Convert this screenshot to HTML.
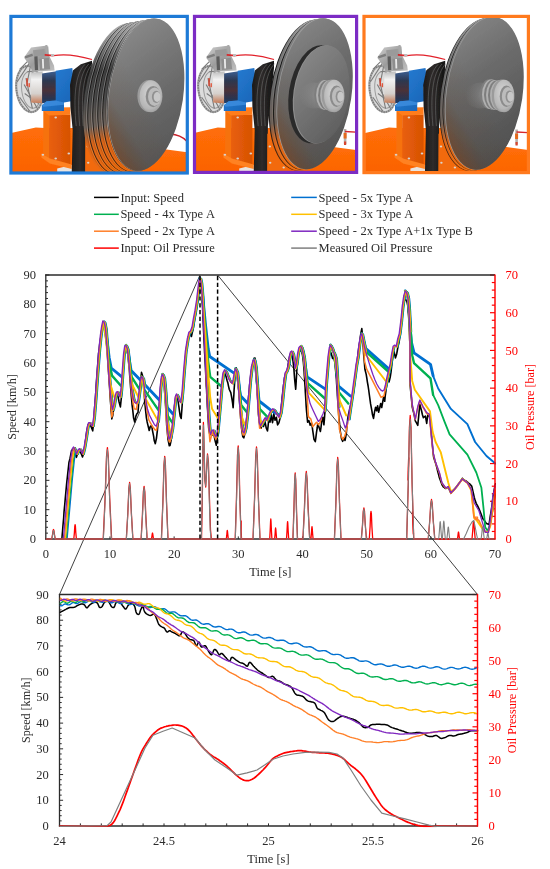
<!DOCTYPE html>
<html lang="en"><head><meta charset="utf-8"><title>Flywheel brake test bench - speed and oil pressure</title>
<style>html,body{margin:0;padding:0;background:#fff}svg{display:block}text{font-family:'Liberation Serif','Times New Roman',serif}</style></head><body>
<svg width="550" height="869" viewBox="0 0 550 869">
<rect width="550" height="869" fill="#fff"/>

<defs>
<linearGradient id="gPlat" x1="0" y1="0" x2="0" y2="1"><stop offset="0" stop-color="#ff6e08"/><stop offset="1" stop-color="#fb6202"/></linearGradient>
<linearGradient id="gPlatR" x1="0" y1="0" x2="0" y2="1"><stop offset="0" stop-color="#ff6e08"/><stop offset="1" stop-color="#fc6402"/></linearGradient>
<linearGradient id="gPil" x1="0" y1="0" x2="1" y2="0"><stop offset="0" stop-color="#e95f0a"/><stop offset="1" stop-color="#d65204"/></linearGradient>
<linearGradient id="gSilver" x1="0" y1="0" x2="0" y2="1"><stop offset="0" stop-color="#bdbdbd"/><stop offset="0.25" stop-color="#f2f2f2"/><stop offset="0.7" stop-color="#d5d0cc"/><stop offset="1" stop-color="#c77a55"/></linearGradient>
<linearGradient id="gDarkCyl" x1="0" y1="0" x2="0" y2="1"><stop offset="0" stop-color="#3d5f92"/><stop offset="0.3" stop-color="#2c3850"/><stop offset="0.6" stop-color="#4a3038"/><stop offset="0.85" stop-color="#2a3550"/><stop offset="1" stop-color="#20406f"/></linearGradient>
<linearGradient id="gBlue" x1="0" y1="0" x2="1" y2="1"><stop offset="0" stop-color="#2a80d8"/><stop offset="1" stop-color="#1763b4"/></linearGradient>
<linearGradient id="gCal" x1="0" y1="0" x2="1" y2="1"><stop offset="0" stop-color="#d0d0d0"/><stop offset="0.5" stop-color="#9c9c9c"/><stop offset="1" stop-color="#c2c2c2"/></linearGradient>
<linearGradient id="gBelt" x1="0" y1="0" x2="1" y2="0"><stop offset="0" stop-color="#1c1a1a"/><stop offset="0.45" stop-color="#2e2b2a"/><stop offset="1" stop-color="#121212"/></linearGradient>
<linearGradient id="gRimL" x1="0" y1="0" x2="0" y2="1"><stop offset="0" stop-color="#d2d2d2"/><stop offset="0.18" stop-color="#b4b4b4"/><stop offset="0.36" stop-color="#747474"/><stop offset="0.55" stop-color="#787878"/><stop offset="0.72" stop-color="#948a84"/><stop offset="0.82" stop-color="#e27a30"/><stop offset="1" stop-color="#f57c1c"/></linearGradient>
<linearGradient id="gRimM" x1="0" y1="0" x2="0" y2="1"><stop offset="0" stop-color="#b8b8b8"/><stop offset="0.16" stop-color="#8c8c8c"/><stop offset="0.36" stop-color="#404040"/><stop offset="0.56" stop-color="#4a4a4a"/><stop offset="0.72" stop-color="#6e645c"/><stop offset="0.82" stop-color="#d8651a"/><stop offset="1" stop-color="#ee6c10"/></linearGradient>
<linearGradient id="gRimD" x1="0" y1="0" x2="0" y2="1"><stop offset="0" stop-color="#a0a0a0"/><stop offset="0.16" stop-color="#747474"/><stop offset="0.36" stop-color="#303030"/><stop offset="0.56" stop-color="#3a3a3a"/><stop offset="0.72" stop-color="#5c4e44"/><stop offset="0.82" stop-color="#c05512"/><stop offset="1" stop-color="#d85e0c"/></linearGradient>
<linearGradient id="gRimN" x1="0" y1="0" x2="0" y2="1"><stop offset="0" stop-color="#a4a4a4"/><stop offset="0.2" stop-color="#7c7c7c"/><stop offset="0.5" stop-color="#646464"/><stop offset="0.72" stop-color="#6a5e56"/><stop offset="0.84" stop-color="#d8651a"/><stop offset="1" stop-color="#ee6c10"/></linearGradient>
<linearGradient id="gRimN2" x1="0" y1="0" x2="0" y2="1"><stop offset="0" stop-color="#b8b8b8"/><stop offset="0.2" stop-color="#8e8e8e"/><stop offset="0.5" stop-color="#747474"/><stop offset="0.72" stop-color="#786a60"/><stop offset="0.84" stop-color="#e07028"/><stop offset="1" stop-color="#f27818"/></linearGradient>
<linearGradient id="gRimK" x1="0" y1="0" x2="0" y2="1"><stop offset="0" stop-color="#4a4a4a"/><stop offset="0.3" stop-color="#141414"/><stop offset="0.7" stop-color="#201c1a"/><stop offset="1" stop-color="#5a2a0c"/></linearGradient>
<linearGradient id="gFace1" x1="0.25" y1="0" x2="0.7" y2="1"><stop offset="0" stop-color="#8a8a8a"/><stop offset="0.35" stop-color="#757575"/><stop offset="0.65" stop-color="#666666"/><stop offset="1" stop-color="#565656"/></linearGradient>
<linearGradient id="gFace2" x1="0.25" y1="0" x2="0.7" y2="1"><stop offset="0" stop-color="#868686"/><stop offset="0.35" stop-color="#6e6e6e"/><stop offset="0.65" stop-color="#626262"/><stop offset="1" stop-color="#525252"/></linearGradient>
<linearGradient id="gFace3" x1="0.25" y1="0" x2="0.7" y2="1"><stop offset="0" stop-color="#848484"/><stop offset="0.35" stop-color="#6c6c6c"/><stop offset="0.65" stop-color="#5e5e5e"/><stop offset="1" stop-color="#4e4e4e"/></linearGradient>
<linearGradient id="gFaceS" x1="0.1" y1="0" x2="0.9" y2="1"><stop offset="0" stop-color="#8a8a8a"/><stop offset="0.5" stop-color="#727272"/><stop offset="1" stop-color="#5c5c5c"/></linearGradient>
<linearGradient id="gFaceRefl" x1="0.6" y1="0.6" x2="0.35" y2="1"><stop offset="0" stop-color="#5a3a20" stop-opacity="0"/><stop offset="0.55" stop-color="#5a3a22" stop-opacity="0.12"/><stop offset="1" stop-color="#7a4018" stop-opacity="0.6"/></linearGradient>
<radialGradient id="gGlow" cx="0.8" cy="0.5" r="0.8"><stop offset="0" stop-color="#c8c8c8" stop-opacity="0.55"/><stop offset="0.5" stop-color="#b0b0b0" stop-opacity="0.22"/><stop offset="1" stop-color="#a0a0a0" stop-opacity="0"/></radialGradient>
<radialGradient id="gHub" cx="0.45" cy="0.4" r="0.7"><stop offset="0" stop-color="#d6d6d6"/><stop offset="0.7" stop-color="#b6b6b6"/><stop offset="1" stop-color="#909090"/></radialGradient>
<filter id="soft" x="-2%" y="-2%" width="104%" height="104%"><feGaussianBlur stdDeviation="0.45"/></filter>
</defs>

<clipPath id="pc0"><rect x="12.0" y="17.5" width="174.2" height="154.4"/></clipPath>
<g clip-path="url(#pc0)"><g filter="url(#soft)">
<rect x="10.5" y="16.0" width="177.2" height="157.4" fill="#ffffff"/>
<polygon points="9.8,133.4 35.8,127.6 44.7,128.0 109.4,128.0 109.4,174.4 9.8,174.4" fill="url(#gPlat)" />
<polygon points="57.2,168.6 72.7,164.7 72.7,174.4 57.2,174.4" fill="#e9e4e0" />
<polygon points="43.3,109.6 49.5,114.4 49.5,159.9 43.3,154.1" fill="#f6720f" />
<polygon points="49.1,114.4 70.4,114.4 70.4,165.7 49.1,159.3" fill="url(#gPil)" />
<polygon points="42.9,107.7 70.4,107.3 70.4,114.8 49.1,115.4 42.9,110.6" fill="#ff7d1c" />
<polygon points="41.4,153.5 49.9,158.5 71.7,164.4 71.7,169.0 49.9,163.6 41.4,157.4" fill="#ff8220" />
<ellipse cx="55.7" cy="117.5" rx="1.3" ry="1.0" fill="#d9d2cc"/>
<ellipse cx="42.9" cy="154.7" rx="1.3" ry="1.0" fill="#d9d2cc"/>
<ellipse cx="55.7" cy="158.5" rx="1.3" ry="1.0" fill="#d9d2cc"/>
<ellipse cx="68.8" cy="153.5" rx="1.3" ry="1.0" fill="#d9d2cc"/>
<ellipse cx="29.6" cy="89.0" rx="13.2" ry="23.2" fill="#dcdcdc" stroke="#a2a2a2" stroke-width="2.2" transform="rotate(-7 29.6 89.0)"/>
<ellipse cx="29.6" cy="89.0" rx="13.2" ry="23.2" fill="none" stroke="#6a6a6a" stroke-width="1.6" stroke-dasharray="1.0 1.5" opacity="0.75" transform="rotate(-7 29.6 89.0)"/>
<ellipse cx="31.1" cy="90.0" rx="9.5" ry="18.5" fill="none" stroke="#9c9c9c" stroke-width="1.0" transform="rotate(-7 29.6 89.0)"/>
<line x1="19.6" y1="69.3" x2="33.6" y2="55.3" stroke="#7a7a7a" stroke-width="1.1"/>
<line x1="17.1" y1="82.0" x2="31.1" y2="60.4" stroke="#7a7a7a" stroke-width="1.1"/>
<line x1="26.0" y1="78.2" x2="32.4" y2="108.7" stroke="#7a7a7a" stroke-width="1.1"/>
<line x1="24.7" y1="93.5" x2="38.7" y2="103.6" stroke="#7a7a7a" stroke-width="1.1"/>
<line x1="24.1" y1="84.5" x2="37.5" y2="108.7" stroke="#7a7a7a" stroke-width="1.1"/>
<line x1="31.1" y1="62.9" x2="27.3" y2="82.0" stroke="#7a7a7a" stroke-width="1.1"/>
<line x1="41.3" y1="56.5" x2="43.8" y2="69.3" stroke="#7a7a7a" stroke-width="1.1"/>
<line x1="19.6" y1="97.3" x2="29.8" y2="111.3" stroke="#7a7a7a" stroke-width="1.1"/>
<line x1="27.3" y1="71.8" x2="50.2" y2="69.3" stroke="#7a7a7a" stroke-width="1.1"/>
<rect x="26.3" y="78.2" width="1.5" height="8" fill="#d8452f"/>
<rect x="28.5" y="83.2" width="1.4" height="4" fill="#e0553a"/>
<polygon points="31.1,72.9 42.7,71.5 42.7,103.2 31.1,102.5" fill="url(#gSilver)" />
<polygon points="42.1,73.4 58.2,71.1 58.2,100.9 42.1,103.2" fill="url(#gDarkCyl)" />
<polygon points="55.7,70.7 72.3,68.0 73.1,74.8 70.4,87.4 71.2,101.3 64.0,102.5 64.0,111.0 41.8,111.0 41.8,105.2 46.6,101.3 55.7,100.5" fill="url(#gBlue)" />
<polygon points="41.8,105.2 46.6,101.3 55.7,100.5 64.0,102.5 64.0,104.8 43.7,106.7" fill="#3d8fe0" opacity="0.8"/>
<polygon points="24.7,56.5 31.1,47.6 45.3,45.7 48.3,46.4 48.9,55.3 54.0,65.5 54.6,70.5 32.4,71.8 29.8,65.5 24.1,57.8" fill="url(#gCal)"/>
<polygon points="33.0,50.2 44.5,48.9 44.8,55.3 33.6,56.5" fill="#9a9a9a"/>
<polygon points="34.3,56.5 37.5,56.3 38.1,69.9 34.9,70.3" fill="#5c5c5c"/>
<polygon points="39.4,59.1 48.9,57.8 50.2,69.3 40.0,69.9" fill="#8a8a8a" opacity="0.85"/>
<polygon points="24.7,56.3 32.4,53.4 33.0,55.9 25.4,58.5" fill="#7d7d7d"/>
<polygon points="45.3,45.1 47.4,45.1 47.9,55.9 45.9,55.9" fill="#a8a8a8"/>
<polygon points="41.9,59.1 43.8,59.1 44.1,68.6 42.3,68.6" fill="#e8e8e8"/>
<path d="M44.7 54.9 L53.4 55.6" stroke="#d8262a" stroke-width="1.6" fill="none"/>
<path d="M53.4 55.6 C66.9 53.3 80.4 56.0 92.0 59.5" stroke="#e2202a" stroke-width="1.3" fill="none"/>
<rect x="51.0" y="54.1" width="3.2" height="2.2" fill="#bdbdbd"/>
<polygon points="92.0,60.7 80.8,64.2 73.1,70.3 70.0,85.0 70.4,106.7 72.7,129.9 71.7,174.4 85.3,174.4 85.9,126.1 92.0,68.0" fill="url(#gBelt)" />
<path d="M84.9 64.4 C75.2 73.8 73.3 97.0 76.2 126.1" stroke="#6f6f6f" stroke-width="0.7" fill="none" opacity="0.8"/>
<path d="M88.8 64.0 C79.1 73.8 77.1 97.0 79.7 126.1" stroke="#6f6f6f" stroke-width="0.7" fill="none" opacity="0.8"/>
<path d="M92.6 63.6 C82.9 73.8 81.0 97.0 83.2 126.1" stroke="#6f6f6f" stroke-width="0.7" fill="none" opacity="0.8"/>
<polygon points="85.3,133.8 109.4,133.8 109.4,174.4 85.3,174.4" fill="#f26a0c" />
<ellipse cx="87.8" cy="146.4" rx="1.2" ry="1.0" fill="#d9d2cc"/>
<ellipse cx="88.2" cy="162.8" rx="1.2" ry="1.0" fill="#d9d2cc"/>
<ellipse cx="101.7" cy="167.6" rx="1.2" ry="1.0" fill="#d9d2cc"/>
<polygon points="105.0,160.0 150.0,150.0 166.5,149.4 189.0,152.6 188.7,174.4 105.0,174.4" fill="url(#gPlatR)"/>
<path d="M170.0 134.0 C177.0 134.5 182.0 136.0 186.5 141.0" stroke="#c8202a" stroke-width="1.3" fill="none"/>
<ellipse cx="121.30" cy="99.20" rx="36.9" ry="76.7" fill="url(#gRimM)" transform="rotate(8.1 121.30 99.20)"/>
<ellipse cx="122.30" cy="99.02" rx="36.9" ry="76.7" fill="url(#gRimM)" transform="rotate(8.1 122.30 99.02)"/>
<ellipse cx="123.30" cy="98.84" rx="36.9" ry="76.7" fill="url(#gRimD)" transform="rotate(8.1 123.30 98.84)"/>
<ellipse cx="124.30" cy="98.66" rx="36.9" ry="76.7" fill="url(#gRimL)" transform="rotate(8.1 124.30 98.66)"/>
<ellipse cx="125.30" cy="98.48" rx="36.9" ry="76.7" fill="url(#gRimK)" transform="rotate(8.1 125.30 98.48)"/>
<ellipse cx="126.30" cy="98.30" rx="36.9" ry="76.7" fill="url(#gRimM)" transform="rotate(8.1 126.30 98.30)"/>
<ellipse cx="127.30" cy="98.12" rx="36.9" ry="76.7" fill="url(#gRimM)" transform="rotate(8.1 127.30 98.12)"/>
<ellipse cx="128.30" cy="97.94" rx="36.9" ry="76.7" fill="url(#gRimD)" transform="rotate(8.1 128.30 97.94)"/>
<ellipse cx="129.30" cy="97.76" rx="36.9" ry="76.7" fill="url(#gRimL)" transform="rotate(8.1 129.30 97.76)"/>
<ellipse cx="130.30" cy="97.58" rx="36.9" ry="76.7" fill="url(#gRimK)" transform="rotate(8.1 130.30 97.58)"/>
<ellipse cx="131.30" cy="97.40" rx="36.9" ry="76.7" fill="url(#gRimM)" transform="rotate(8.1 131.30 97.40)"/>
<ellipse cx="132.30" cy="97.22" rx="36.9" ry="76.7" fill="url(#gRimM)" transform="rotate(8.1 132.30 97.22)"/>
<ellipse cx="133.30" cy="97.04" rx="36.9" ry="76.7" fill="url(#gRimD)" transform="rotate(8.1 133.30 97.04)"/>
<ellipse cx="134.30" cy="96.86" rx="36.9" ry="76.7" fill="url(#gRimL)" transform="rotate(8.1 134.30 96.86)"/>
<ellipse cx="135.30" cy="96.68" rx="36.9" ry="76.7" fill="url(#gRimK)" transform="rotate(8.1 135.30 96.68)"/>
<ellipse cx="136.30" cy="96.50" rx="36.9" ry="76.7" fill="url(#gRimM)" transform="rotate(8.1 136.30 96.50)"/>
<ellipse cx="137.30" cy="96.32" rx="36.9" ry="76.7" fill="url(#gRimM)" transform="rotate(8.1 137.30 96.32)"/>
<ellipse cx="138.30" cy="96.14" rx="36.9" ry="76.7" fill="url(#gRimD)" transform="rotate(8.1 138.30 96.14)"/>
<ellipse cx="139.30" cy="95.96" rx="36.9" ry="76.7" fill="url(#gRimL)" transform="rotate(8.1 139.30 95.96)"/>
<ellipse cx="140.30" cy="95.78" rx="36.9" ry="76.7" fill="url(#gRimK)" transform="rotate(8.1 140.30 95.78)"/>
<ellipse cx="141.30" cy="95.60" rx="36.9" ry="76.7" fill="url(#gRimM)" transform="rotate(8.1 141.30 95.60)"/>
<ellipse cx="142.30" cy="95.42" rx="36.9" ry="76.7" fill="url(#gRimM)" transform="rotate(8.1 142.30 95.42)"/>
<ellipse cx="143.30" cy="95.24" rx="36.9" ry="76.7" fill="url(#gRimD)" transform="rotate(8.1 143.30 95.24)"/>
<ellipse cx="144.30" cy="95.06" rx="36.9" ry="76.7" fill="url(#gRimL)" transform="rotate(8.1 144.30 95.06)"/>
<ellipse cx="145.30" cy="94.88" rx="36.9" ry="76.7" fill="url(#gRimK)" transform="rotate(8.1 145.30 94.88)"/>
<ellipse cx="145.60" cy="94.80" rx="36.9" ry="76.7" fill="#9a9a9a" transform="rotate(8.1 146.30 94.70)"/>
<ellipse cx="146.30" cy="94.70" rx="36.9" ry="76.7" fill="url(#gFace1)" transform="rotate(8.1 146.30 94.70)"/>
<ellipse cx="146.30" cy="94.70" rx="36.9" ry="76.7" fill="url(#gFaceRefl)" transform="rotate(8.1 146.30 94.70)"/>
<ellipse cx="148.80" cy="96.00" rx="11.4" ry="16.0" fill="#9b9b9b"/>
<ellipse cx="151.00" cy="96.30" rx="11.4" ry="16.0" fill="url(#gHub)"/>
<ellipse cx="153.20" cy="96.60" rx="7.5" ry="10.6" fill="#8c8c8c"/>
<ellipse cx="154.60" cy="96.70" rx="6.6" ry="9.3" fill="#bcbcbc"/>
<ellipse cx="156.20" cy="96.90" rx="4.3" ry="6.1" fill="#909090"/>
<ellipse cx="157.20" cy="97.00" rx="3.5" ry="5.0" fill="#c8c8c8"/>
</g></g>
<rect x="10.90" y="16.40" width="176.40" height="156.60" fill="none" stroke="#1e7ad6" stroke-width="3.2"/>
<clipPath id="pc1"><rect x="195.6" y="17.5" width="159.9" height="153.8"/></clipPath>
<g clip-path="url(#pc1)"><g filter="url(#soft)">
<rect x="194.1" y="16.0" width="162.9" height="156.8" fill="#ffffff"/>
<polygon points="191.8,133.4 217.8,127.6 226.7,128.0 291.4,128.0 291.4,174.4 191.8,174.4" fill="url(#gPlat)" />
<polygon points="239.2,168.6 254.7,164.7 254.7,174.4 239.2,174.4" fill="#e9e4e0" />
<polygon points="225.3,109.6 231.5,114.4 231.5,159.9 225.3,154.1" fill="#f6720f" />
<polygon points="231.1,114.4 252.4,114.4 252.4,165.7 231.1,159.3" fill="url(#gPil)" />
<polygon points="224.9,107.7 252.4,107.3 252.4,114.8 231.1,115.4 224.9,110.6" fill="#ff7d1c" />
<polygon points="223.4,153.5 231.9,158.5 253.7,164.4 253.7,169.0 231.9,163.6 223.4,157.4" fill="#ff8220" />
<ellipse cx="237.7" cy="117.5" rx="1.3" ry="1.0" fill="#d9d2cc"/>
<ellipse cx="224.9" cy="154.7" rx="1.3" ry="1.0" fill="#d9d2cc"/>
<ellipse cx="237.7" cy="158.5" rx="1.3" ry="1.0" fill="#d9d2cc"/>
<ellipse cx="250.8" cy="153.5" rx="1.3" ry="1.0" fill="#d9d2cc"/>
<ellipse cx="211.6" cy="89.0" rx="13.2" ry="23.2" fill="#dcdcdc" stroke="#a2a2a2" stroke-width="2.2" transform="rotate(-7 211.6 89.0)"/>
<ellipse cx="211.6" cy="89.0" rx="13.2" ry="23.2" fill="none" stroke="#6a6a6a" stroke-width="1.6" stroke-dasharray="1.0 1.5" opacity="0.75" transform="rotate(-7 211.6 89.0)"/>
<ellipse cx="213.1" cy="90.0" rx="9.5" ry="18.5" fill="none" stroke="#9c9c9c" stroke-width="1.0" transform="rotate(-7 211.6 89.0)"/>
<line x1="201.6" y1="69.3" x2="215.6" y2="55.3" stroke="#7a7a7a" stroke-width="1.1"/>
<line x1="199.1" y1="82.0" x2="213.1" y2="60.4" stroke="#7a7a7a" stroke-width="1.1"/>
<line x1="208.0" y1="78.2" x2="214.4" y2="108.7" stroke="#7a7a7a" stroke-width="1.1"/>
<line x1="206.7" y1="93.5" x2="220.7" y2="103.6" stroke="#7a7a7a" stroke-width="1.1"/>
<line x1="206.1" y1="84.5" x2="219.5" y2="108.7" stroke="#7a7a7a" stroke-width="1.1"/>
<line x1="213.1" y1="62.9" x2="209.3" y2="82.0" stroke="#7a7a7a" stroke-width="1.1"/>
<line x1="223.3" y1="56.5" x2="225.8" y2="69.3" stroke="#7a7a7a" stroke-width="1.1"/>
<line x1="201.6" y1="97.3" x2="211.8" y2="111.3" stroke="#7a7a7a" stroke-width="1.1"/>
<line x1="209.3" y1="71.8" x2="232.2" y2="69.3" stroke="#7a7a7a" stroke-width="1.1"/>
<rect x="208.3" y="78.2" width="1.5" height="8" fill="#d8452f"/>
<rect x="210.5" y="83.2" width="1.4" height="4" fill="#e0553a"/>
<polygon points="213.1,72.9 224.7,71.5 224.7,103.2 213.1,102.5" fill="url(#gSilver)" />
<polygon points="224.1,73.4 240.2,71.1 240.2,100.9 224.1,103.2" fill="url(#gDarkCyl)" />
<polygon points="237.7,70.7 254.3,68.0 255.1,74.8 252.4,87.4 253.2,101.3 246.0,102.5 246.0,111.0 223.8,111.0 223.8,105.2 228.6,101.3 237.7,100.5" fill="url(#gBlue)" />
<polygon points="223.8,105.2 228.6,101.3 237.7,100.5 246.0,102.5 246.0,104.8 225.7,106.7" fill="#3d8fe0" opacity="0.8"/>
<polygon points="206.7,56.5 213.1,47.6 227.3,45.7 230.3,46.4 230.9,55.3 236.0,65.5 236.6,70.5 214.4,71.8 211.8,65.5 206.1,57.8" fill="url(#gCal)"/>
<polygon points="215.0,50.2 226.5,48.9 226.8,55.3 215.6,56.5" fill="#9a9a9a"/>
<polygon points="216.3,56.5 219.5,56.3 220.1,69.9 216.9,70.3" fill="#5c5c5c"/>
<polygon points="221.4,59.1 230.9,57.8 232.2,69.3 222.0,69.9" fill="#8a8a8a" opacity="0.85"/>
<polygon points="206.7,56.3 214.4,53.4 215.0,55.9 207.4,58.5" fill="#7d7d7d"/>
<polygon points="227.3,45.1 229.4,45.1 229.9,55.9 227.9,55.9" fill="#a8a8a8"/>
<polygon points="223.9,59.1 225.8,59.1 226.1,68.6 224.3,68.6" fill="#e8e8e8"/>
<path d="M226.7 54.9 L235.4 55.6" stroke="#d8262a" stroke-width="1.6" fill="none"/>
<path d="M235.4 55.6 C248.9 53.3 262.4 56.0 274.0 59.5" stroke="#e2202a" stroke-width="1.3" fill="none"/>
<rect x="233.0" y="54.1" width="3.2" height="2.2" fill="#bdbdbd"/>
<polygon points="274.0,60.7 262.8,64.2 255.1,70.3 252.0,85.0 252.4,106.7 254.7,129.9 253.7,174.4 267.3,174.4 267.9,126.1 274.0,68.0" fill="url(#gBelt)" />
<path d="M266.9 64.4 C257.2 73.8 255.3 97.0 258.2 126.1" stroke="#6f6f6f" stroke-width="0.7" fill="none" opacity="0.8"/>
<path d="M270.8 64.0 C261.1 73.8 259.1 97.0 261.7 126.1" stroke="#6f6f6f" stroke-width="0.7" fill="none" opacity="0.8"/>
<path d="M274.6 63.6 C264.9 73.8 263.0 97.0 265.2 126.1" stroke="#6f6f6f" stroke-width="0.7" fill="none" opacity="0.8"/>
<polygon points="267.3,133.8 291.4,133.8 291.4,174.4 267.3,174.4" fill="#f26a0c" />
<ellipse cx="269.8" cy="146.4" rx="1.2" ry="1.0" fill="#d9d2cc"/>
<ellipse cx="270.2" cy="162.8" rx="1.2" ry="1.0" fill="#d9d2cc"/>
<ellipse cx="283.7" cy="167.6" rx="1.2" ry="1.0" fill="#d9d2cc"/>
<polygon points="287.0,160.0 320.0,147.0 335.0,147.2 359.0,150.4 358.0,173.8 287.0,173.8" fill="url(#gPlatR)"/>
<rect x="343.8" y="129.0" width="2.6" height="15" fill="#b6b0aa"/>
<rect x="343.6" y="133.0" width="3.0" height="5.5" fill="#e46a1c"/>
<rect x="344.0" y="141.5" width="2.2" height="3.5" fill="#d8452f"/>
<line x1="345.0" y1="131.5" x2="356.0" y2="132.1" stroke="#d8262a" stroke-width="1.3"/>
<ellipse cx="306.50" cy="95.30" rx="36.5" ry="76.1" fill="url(#gRimK)" transform="rotate(8.4 306.50 95.30)"/>
<ellipse cx="307.56" cy="95.10" rx="36.5" ry="76.1" fill="url(#gRimN)" transform="rotate(8.4 307.56 95.10)"/>
<ellipse cx="308.62" cy="94.90" rx="36.5" ry="76.1" fill="url(#gRimN)" transform="rotate(8.4 308.62 94.90)"/>
<ellipse cx="309.69" cy="94.70" rx="36.5" ry="76.1" fill="url(#gRimN2)" transform="rotate(8.4 309.69 94.70)"/>
<ellipse cx="310.75" cy="94.50" rx="36.5" ry="76.1" fill="url(#gRimK)" transform="rotate(8.4 310.75 94.50)"/>
<ellipse cx="311.81" cy="94.30" rx="36.5" ry="76.1" fill="url(#gRimN)" transform="rotate(8.4 311.81 94.30)"/>
<ellipse cx="312.88" cy="94.10" rx="36.5" ry="76.1" fill="url(#gRimN)" transform="rotate(8.4 312.88 94.10)"/>
<ellipse cx="313.94" cy="93.90" rx="36.5" ry="76.1" fill="url(#gRimN2)" transform="rotate(8.4 313.94 93.90)"/>
<ellipse cx="314.30" cy="93.80" rx="36.5" ry="76.1" fill="#9a9a9a" transform="rotate(8.4 315.00 93.70)"/>
<ellipse cx="315.00" cy="93.70" rx="36.5" ry="76.1" fill="url(#gFace2)" transform="rotate(8.4 315.00 93.70)"/>
<ellipse cx="315.00" cy="93.70" rx="36.5" ry="76.1" fill="url(#gFaceRefl)" transform="rotate(8.4 315.00 93.70)"/>
<ellipse cx="316.20" cy="95.10" rx="27.3" ry="49.4" fill="#2c2c2c" transform="rotate(8.4 321.70 94.30)"/>
<ellipse cx="320.70" cy="94.60" rx="27.3" ry="49.4" fill="#8f8f8f" transform="rotate(8.4 321.70 94.30)"/>
<ellipse cx="321.70" cy="94.30" rx="27.3" ry="49.4" fill="url(#gFaceS)" transform="rotate(8.4 321.70 94.30)"/>
<ellipse cx="314.30" cy="95.50" rx="15" ry="13.0" fill="url(#gGlow)"/>
<ellipse cx="323.30" cy="94.68" rx="9.2" ry="14.9" fill="#7e7e7e"/>
<ellipse cx="324.30" cy="94.80" rx="9.2" ry="14.9" fill="#7e7e7e"/>
<ellipse cx="325.30" cy="94.92" rx="9.2" ry="14.9" fill="#b0b0b0"/>
<ellipse cx="326.30" cy="95.04" rx="9.2" ry="14.9" fill="#b0b0b0"/>
<ellipse cx="327.30" cy="95.16" rx="9.2" ry="14.9" fill="#7e7e7e"/>
<ellipse cx="328.30" cy="95.28" rx="9.2" ry="14.9" fill="#7e7e7e"/>
<ellipse cx="329.30" cy="95.40" rx="9.2" ry="14.9" fill="#b0b0b0"/>
<ellipse cx="330.30" cy="95.52" rx="9.2" ry="14.9" fill="#b0b0b0"/>
<ellipse cx="331.30" cy="95.64" rx="9.2" ry="14.9" fill="#7e7e7e"/>
<ellipse cx="332.30" cy="95.76" rx="9.2" ry="14.9" fill="#7e7e7e"/>
<ellipse cx="333.30" cy="95.88" rx="9.2" ry="14.9" fill="#b0b0b0"/>
<ellipse cx="332.10" cy="95.70" rx="10.2" ry="16.2" fill="#9b9b9b"/>
<ellipse cx="334.30" cy="96.00" rx="10.2" ry="16.2" fill="url(#gHub)"/>
<ellipse cx="336.50" cy="96.30" rx="6.7" ry="10.7" fill="#8c8c8c"/>
<ellipse cx="337.90" cy="96.40" rx="5.9" ry="9.4" fill="#bcbcbc"/>
<ellipse cx="339.50" cy="96.60" rx="3.9" ry="6.2" fill="#909090"/>
<ellipse cx="340.50" cy="96.70" rx="3.2" ry="5.0" fill="#c8c8c8"/>
</g></g>
<rect x="194.50" y="16.40" width="162.10" height="156.00" fill="none" stroke="#7c2cc4" stroke-width="3.2"/>
<clipPath id="pc2"><rect x="365.1" y="17.5" width="162.2" height="154.0"/></clipPath>
<g clip-path="url(#pc2)"><g filter="url(#soft)">
<rect x="363.6" y="16.0" width="165.2" height="157.0" fill="#ffffff"/>
<polygon points="363.0,133.4 389.0,127.6 397.9,128.0 462.6,128.0 462.6,174.4 363.0,174.4" fill="url(#gPlat)" />
<polygon points="410.4,168.6 425.9,164.7 425.9,174.4 410.4,174.4" fill="#e9e4e0" />
<polygon points="396.5,109.6 402.7,114.4 402.7,159.9 396.5,154.1" fill="#f6720f" />
<polygon points="402.3,114.4 423.6,114.4 423.6,165.7 402.3,159.3" fill="url(#gPil)" />
<polygon points="396.1,107.7 423.6,107.3 423.6,114.8 402.3,115.4 396.1,110.6" fill="#ff7d1c" />
<polygon points="394.6,153.5 403.1,158.5 424.9,164.4 424.9,169.0 403.1,163.6 394.6,157.4" fill="#ff8220" />
<ellipse cx="408.9" cy="117.5" rx="1.3" ry="1.0" fill="#d9d2cc"/>
<ellipse cx="396.1" cy="154.7" rx="1.3" ry="1.0" fill="#d9d2cc"/>
<ellipse cx="408.9" cy="158.5" rx="1.3" ry="1.0" fill="#d9d2cc"/>
<ellipse cx="422.0" cy="153.5" rx="1.3" ry="1.0" fill="#d9d2cc"/>
<ellipse cx="382.8" cy="89.0" rx="13.2" ry="23.2" fill="#dcdcdc" stroke="#a2a2a2" stroke-width="2.2" transform="rotate(-7 382.8 89.0)"/>
<ellipse cx="382.8" cy="89.0" rx="13.2" ry="23.2" fill="none" stroke="#6a6a6a" stroke-width="1.6" stroke-dasharray="1.0 1.5" opacity="0.75" transform="rotate(-7 382.8 89.0)"/>
<ellipse cx="384.3" cy="90.0" rx="9.5" ry="18.5" fill="none" stroke="#9c9c9c" stroke-width="1.0" transform="rotate(-7 382.8 89.0)"/>
<line x1="372.8" y1="69.3" x2="386.8" y2="55.3" stroke="#7a7a7a" stroke-width="1.1"/>
<line x1="370.3" y1="82.0" x2="384.3" y2="60.4" stroke="#7a7a7a" stroke-width="1.1"/>
<line x1="379.2" y1="78.2" x2="385.6" y2="108.7" stroke="#7a7a7a" stroke-width="1.1"/>
<line x1="377.9" y1="93.5" x2="391.9" y2="103.6" stroke="#7a7a7a" stroke-width="1.1"/>
<line x1="377.3" y1="84.5" x2="390.7" y2="108.7" stroke="#7a7a7a" stroke-width="1.1"/>
<line x1="384.3" y1="62.9" x2="380.5" y2="82.0" stroke="#7a7a7a" stroke-width="1.1"/>
<line x1="394.5" y1="56.5" x2="397.0" y2="69.3" stroke="#7a7a7a" stroke-width="1.1"/>
<line x1="372.8" y1="97.3" x2="383.0" y2="111.3" stroke="#7a7a7a" stroke-width="1.1"/>
<line x1="380.5" y1="71.8" x2="403.4" y2="69.3" stroke="#7a7a7a" stroke-width="1.1"/>
<rect x="379.5" y="78.2" width="1.5" height="8" fill="#d8452f"/>
<rect x="381.7" y="83.2" width="1.4" height="4" fill="#e0553a"/>
<polygon points="384.3,72.9 395.9,71.5 395.9,103.2 384.3,102.5" fill="url(#gSilver)" />
<polygon points="395.3,73.4 411.4,71.1 411.4,100.9 395.3,103.2" fill="url(#gDarkCyl)" />
<polygon points="408.9,70.7 425.5,68.0 426.3,74.8 423.6,87.4 424.4,101.3 417.2,102.5 417.2,111.0 395.0,111.0 395.0,105.2 399.8,101.3 408.9,100.5" fill="url(#gBlue)" />
<polygon points="395.0,105.2 399.8,101.3 408.9,100.5 417.2,102.5 417.2,104.8 396.9,106.7" fill="#3d8fe0" opacity="0.8"/>
<polygon points="377.9,56.5 384.3,47.6 398.5,45.7 401.5,46.4 402.1,55.3 407.2,65.5 407.8,70.5 385.6,71.8 383.0,65.5 377.3,57.8" fill="url(#gCal)"/>
<polygon points="386.2,50.2 397.7,48.9 398.0,55.3 386.8,56.5" fill="#9a9a9a"/>
<polygon points="387.5,56.5 390.7,56.3 391.3,69.9 388.1,70.3" fill="#5c5c5c"/>
<polygon points="392.6,59.1 402.1,57.8 403.4,69.3 393.2,69.9" fill="#8a8a8a" opacity="0.85"/>
<polygon points="377.9,56.3 385.6,53.4 386.2,55.9 378.6,58.5" fill="#7d7d7d"/>
<polygon points="398.5,45.1 400.6,45.1 401.1,55.9 399.1,55.9" fill="#a8a8a8"/>
<polygon points="395.1,59.1 397.0,59.1 397.3,68.6 395.5,68.6" fill="#e8e8e8"/>
<path d="M397.9 54.9 L406.6 55.6" stroke="#d8262a" stroke-width="1.6" fill="none"/>
<path d="M406.6 55.6 C420.1 53.3 433.6 56.0 445.2 59.5" stroke="#e2202a" stroke-width="1.3" fill="none"/>
<rect x="404.2" y="54.1" width="3.2" height="2.2" fill="#bdbdbd"/>
<polygon points="445.2,60.7 434.0,64.2 426.3,70.3 423.2,85.0 423.6,106.7 425.9,129.9 424.9,174.4 438.5,174.4 439.1,126.1 445.2,68.0" fill="url(#gBelt)" />
<path d="M438.1 64.4 C428.4 73.8 426.5 97.0 429.4 126.1" stroke="#6f6f6f" stroke-width="0.7" fill="none" opacity="0.8"/>
<path d="M442.0 64.0 C432.3 73.8 430.3 97.0 432.9 126.1" stroke="#6f6f6f" stroke-width="0.7" fill="none" opacity="0.8"/>
<path d="M445.8 63.6 C436.1 73.8 434.2 97.0 436.4 126.1" stroke="#6f6f6f" stroke-width="0.7" fill="none" opacity="0.8"/>
<polygon points="438.5,133.8 462.6,133.8 462.6,174.4 438.5,174.4" fill="#f26a0c" />
<ellipse cx="441.0" cy="146.4" rx="1.2" ry="1.0" fill="#d9d2cc"/>
<ellipse cx="441.4" cy="162.8" rx="1.2" ry="1.0" fill="#d9d2cc"/>
<ellipse cx="454.9" cy="167.6" rx="1.2" ry="1.0" fill="#d9d2cc"/>
<polygon points="458.0,160.0 490.0,147.0 506.5,147.0 531.0,150.5 529.8,174.0 458.0,174.0" fill="url(#gPlatR)"/>
<rect x="515.3" y="129.5" width="2.6" height="15" fill="#b6b0aa"/>
<rect x="515.1" y="133.5" width="3.0" height="5.5" fill="#e46a1c"/>
<rect x="515.5" y="142.0" width="2.2" height="3.5" fill="#d8452f"/>
<line x1="516.5" y1="132.0" x2="527.8" y2="132.6" stroke="#d8262a" stroke-width="1.3"/>
<ellipse cx="478.30" cy="94.60" rx="37.9" ry="77.0" fill="url(#gRimK)" transform="rotate(8.1 478.30 94.60)"/>
<ellipse cx="479.10" cy="94.44" rx="37.9" ry="77.0" fill="url(#gRimN)" transform="rotate(8.1 479.10 94.44)"/>
<ellipse cx="479.90" cy="94.27" rx="37.9" ry="77.0" fill="url(#gRimN)" transform="rotate(8.1 479.90 94.27)"/>
<ellipse cx="480.70" cy="94.11" rx="37.9" ry="77.0" fill="url(#gRimN2)" transform="rotate(8.1 480.70 94.11)"/>
<ellipse cx="481.50" cy="93.95" rx="37.9" ry="77.0" fill="url(#gRimK)" transform="rotate(8.1 481.50 93.95)"/>
<ellipse cx="482.30" cy="93.79" rx="37.9" ry="77.0" fill="url(#gRimN)" transform="rotate(8.1 482.30 93.79)"/>
<ellipse cx="483.10" cy="93.62" rx="37.9" ry="77.0" fill="url(#gRimN)" transform="rotate(8.1 483.10 93.62)"/>
<ellipse cx="483.90" cy="93.46" rx="37.9" ry="77.0" fill="url(#gRimN2)" transform="rotate(8.1 483.90 93.46)"/>
<ellipse cx="484.00" cy="93.40" rx="37.9" ry="77.0" fill="#9a9a9a" transform="rotate(8.1 484.70 93.30)"/>
<ellipse cx="484.70" cy="93.30" rx="37.9" ry="77.0" fill="url(#gFace3)" transform="rotate(8.1 484.70 93.30)"/>
<ellipse cx="484.70" cy="93.30" rx="37.9" ry="77.0" fill="url(#gFaceRefl)" transform="rotate(8.1 484.70 93.30)"/>
<ellipse cx="480.20" cy="95.50" rx="15" ry="13.0" fill="url(#gGlow)"/>
<ellipse cx="489.20" cy="94.20" rx="9.2" ry="14.9" fill="#7e7e7e"/>
<ellipse cx="490.20" cy="94.32" rx="9.2" ry="14.9" fill="#7e7e7e"/>
<ellipse cx="491.20" cy="94.44" rx="9.2" ry="14.9" fill="#b0b0b0"/>
<ellipse cx="492.20" cy="94.56" rx="9.2" ry="14.9" fill="#b0b0b0"/>
<ellipse cx="493.20" cy="94.68" rx="9.2" ry="14.9" fill="#7e7e7e"/>
<ellipse cx="494.20" cy="94.80" rx="9.2" ry="14.9" fill="#7e7e7e"/>
<ellipse cx="495.20" cy="94.92" rx="9.2" ry="14.9" fill="#b0b0b0"/>
<ellipse cx="496.20" cy="95.04" rx="9.2" ry="14.9" fill="#b0b0b0"/>
<ellipse cx="497.20" cy="95.16" rx="9.2" ry="14.9" fill="#7e7e7e"/>
<ellipse cx="498.20" cy="95.28" rx="9.2" ry="14.9" fill="#7e7e7e"/>
<ellipse cx="499.20" cy="95.40" rx="9.2" ry="14.9" fill="#b0b0b0"/>
<ellipse cx="500.20" cy="95.52" rx="9.2" ry="14.9" fill="#b0b0b0"/>
<ellipse cx="501.20" cy="95.64" rx="9.2" ry="14.9" fill="#7e7e7e"/>
<ellipse cx="502.20" cy="95.76" rx="9.2" ry="14.9" fill="#7e7e7e"/>
<ellipse cx="503.20" cy="95.88" rx="9.2" ry="14.9" fill="#b0b0b0"/>
<ellipse cx="502.00" cy="95.70" rx="10.2" ry="16.2" fill="#9b9b9b"/>
<ellipse cx="504.20" cy="96.00" rx="10.2" ry="16.2" fill="url(#gHub)"/>
<ellipse cx="506.40" cy="96.30" rx="6.7" ry="10.7" fill="#8c8c8c"/>
<ellipse cx="507.80" cy="96.40" rx="5.9" ry="9.4" fill="#bcbcbc"/>
<ellipse cx="509.40" cy="96.60" rx="3.9" ry="6.2" fill="#909090"/>
<ellipse cx="510.40" cy="96.70" rx="3.2" ry="5.0" fill="#c8c8c8"/>
</g></g>
<rect x="364.00" y="16.40" width="164.40" height="156.20" fill="none" stroke="#ff7a1e" stroke-width="3.2"/>
<line x1="94.00" y1="197.40" x2="118.80" y2="197.40" stroke="#000000" stroke-width="1.5" />
<text x="120.40" y="201.50" font-size="12.5" text-anchor="start" fill="#2b2b2b" >Input: Speed</text>
<line x1="94.00" y1="214.30" x2="118.80" y2="214.30" stroke="#00b050" stroke-width="1.5" />
<text x="120.40" y="218.40" font-size="12.5" text-anchor="start" fill="#2b2b2b" word-spacing="0.5">Speed - 4x Type A</text>
<line x1="94.00" y1="231.20" x2="118.80" y2="231.20" stroke="#ff7f27" stroke-width="1.5" />
<text x="120.40" y="235.30" font-size="12.5" text-anchor="start" fill="#2b2b2b" word-spacing="0.5">Speed - 2x Type A</text>
<line x1="94.00" y1="248.10" x2="118.80" y2="248.10" stroke="#ff0000" stroke-width="1.5" />
<text x="120.40" y="252.20" font-size="12.5" text-anchor="start" fill="#2b2b2b" >Input: Oil Pressure</text>
<line x1="291.20" y1="197.40" x2="316.80" y2="197.40" stroke="#0070d0" stroke-width="1.5" />
<text x="318.60" y="201.50" font-size="12.5" text-anchor="start" fill="#2b2b2b" word-spacing="0.5">Speed - 5x Type A</text>
<line x1="291.20" y1="214.30" x2="316.80" y2="214.30" stroke="#ffc000" stroke-width="1.5" />
<text x="318.60" y="218.40" font-size="12.5" text-anchor="start" fill="#2b2b2b" word-spacing="0.5">Speed - 3x Type A</text>
<line x1="291.20" y1="231.20" x2="316.80" y2="231.20" stroke="#7f27c0" stroke-width="1.5" />
<text x="318.60" y="235.30" font-size="12.5" text-anchor="start" fill="#2b2b2b" word-spacing="0.5">Speed - 2x Type A+1x Type B</text>
<line x1="291.20" y1="248.10" x2="316.80" y2="248.10" stroke="#7f7f7f" stroke-width="1.5" />
<text x="318.60" y="252.20" font-size="12.5" text-anchor="start" fill="#2b2b2b" >Measured Oil Pressure</text>
<line x1="200.00" y1="275.00" x2="59.50" y2="594.50" stroke="#2b2b2b" stroke-width="0.9" />
<line x1="217.60" y1="275.00" x2="477.50" y2="594.50" stroke="#2b2b2b" stroke-width="0.9" />
<line x1="45.80" y1="539.00" x2="49.40" y2="539.00" stroke="#2b2b2b" stroke-width="1.0" />
<text x="35.90" y="543.10" font-size="12.5" text-anchor="end" fill="#2b2b2b" >0</text>
<line x1="45.80" y1="533.13" x2="48.00" y2="533.13" stroke="#2b2b2b" stroke-width="1.0" />
<line x1="45.80" y1="527.27" x2="48.00" y2="527.27" stroke="#2b2b2b" stroke-width="1.0" />
<line x1="45.80" y1="521.40" x2="48.00" y2="521.40" stroke="#2b2b2b" stroke-width="1.0" />
<line x1="45.80" y1="515.53" x2="48.00" y2="515.53" stroke="#2b2b2b" stroke-width="1.0" />
<line x1="45.80" y1="509.67" x2="49.40" y2="509.67" stroke="#2b2b2b" stroke-width="1.0" />
<text x="35.90" y="513.77" font-size="12.5" text-anchor="end" fill="#2b2b2b" >10</text>
<line x1="45.80" y1="503.80" x2="48.00" y2="503.80" stroke="#2b2b2b" stroke-width="1.0" />
<line x1="45.80" y1="497.93" x2="48.00" y2="497.93" stroke="#2b2b2b" stroke-width="1.0" />
<line x1="45.80" y1="492.07" x2="48.00" y2="492.07" stroke="#2b2b2b" stroke-width="1.0" />
<line x1="45.80" y1="486.20" x2="48.00" y2="486.20" stroke="#2b2b2b" stroke-width="1.0" />
<line x1="45.80" y1="480.33" x2="49.40" y2="480.33" stroke="#2b2b2b" stroke-width="1.0" />
<text x="35.90" y="484.43" font-size="12.5" text-anchor="end" fill="#2b2b2b" >20</text>
<line x1="45.80" y1="474.47" x2="48.00" y2="474.47" stroke="#2b2b2b" stroke-width="1.0" />
<line x1="45.80" y1="468.60" x2="48.00" y2="468.60" stroke="#2b2b2b" stroke-width="1.0" />
<line x1="45.80" y1="462.73" x2="48.00" y2="462.73" stroke="#2b2b2b" stroke-width="1.0" />
<line x1="45.80" y1="456.87" x2="48.00" y2="456.87" stroke="#2b2b2b" stroke-width="1.0" />
<line x1="45.80" y1="451.00" x2="49.40" y2="451.00" stroke="#2b2b2b" stroke-width="1.0" />
<text x="35.90" y="455.10" font-size="12.5" text-anchor="end" fill="#2b2b2b" >30</text>
<line x1="45.80" y1="445.13" x2="48.00" y2="445.13" stroke="#2b2b2b" stroke-width="1.0" />
<line x1="45.80" y1="439.27" x2="48.00" y2="439.27" stroke="#2b2b2b" stroke-width="1.0" />
<line x1="45.80" y1="433.40" x2="48.00" y2="433.40" stroke="#2b2b2b" stroke-width="1.0" />
<line x1="45.80" y1="427.53" x2="48.00" y2="427.53" stroke="#2b2b2b" stroke-width="1.0" />
<line x1="45.80" y1="421.67" x2="49.40" y2="421.67" stroke="#2b2b2b" stroke-width="1.0" />
<text x="35.90" y="425.77" font-size="12.5" text-anchor="end" fill="#2b2b2b" >40</text>
<line x1="45.80" y1="415.80" x2="48.00" y2="415.80" stroke="#2b2b2b" stroke-width="1.0" />
<line x1="45.80" y1="409.93" x2="48.00" y2="409.93" stroke="#2b2b2b" stroke-width="1.0" />
<line x1="45.80" y1="404.07" x2="48.00" y2="404.07" stroke="#2b2b2b" stroke-width="1.0" />
<line x1="45.80" y1="398.20" x2="48.00" y2="398.20" stroke="#2b2b2b" stroke-width="1.0" />
<line x1="45.80" y1="392.33" x2="49.40" y2="392.33" stroke="#2b2b2b" stroke-width="1.0" />
<text x="35.90" y="396.43" font-size="12.5" text-anchor="end" fill="#2b2b2b" >50</text>
<line x1="45.80" y1="386.47" x2="48.00" y2="386.47" stroke="#2b2b2b" stroke-width="1.0" />
<line x1="45.80" y1="380.60" x2="48.00" y2="380.60" stroke="#2b2b2b" stroke-width="1.0" />
<line x1="45.80" y1="374.73" x2="48.00" y2="374.73" stroke="#2b2b2b" stroke-width="1.0" />
<line x1="45.80" y1="368.87" x2="48.00" y2="368.87" stroke="#2b2b2b" stroke-width="1.0" />
<line x1="45.80" y1="363.00" x2="49.40" y2="363.00" stroke="#2b2b2b" stroke-width="1.0" />
<text x="35.90" y="367.10" font-size="12.5" text-anchor="end" fill="#2b2b2b" >60</text>
<line x1="45.80" y1="357.13" x2="48.00" y2="357.13" stroke="#2b2b2b" stroke-width="1.0" />
<line x1="45.80" y1="351.27" x2="48.00" y2="351.27" stroke="#2b2b2b" stroke-width="1.0" />
<line x1="45.80" y1="345.40" x2="48.00" y2="345.40" stroke="#2b2b2b" stroke-width="1.0" />
<line x1="45.80" y1="339.53" x2="48.00" y2="339.53" stroke="#2b2b2b" stroke-width="1.0" />
<line x1="45.80" y1="333.67" x2="49.40" y2="333.67" stroke="#2b2b2b" stroke-width="1.0" />
<text x="35.90" y="337.77" font-size="12.5" text-anchor="end" fill="#2b2b2b" >70</text>
<line x1="45.80" y1="327.80" x2="48.00" y2="327.80" stroke="#2b2b2b" stroke-width="1.0" />
<line x1="45.80" y1="321.93" x2="48.00" y2="321.93" stroke="#2b2b2b" stroke-width="1.0" />
<line x1="45.80" y1="316.07" x2="48.00" y2="316.07" stroke="#2b2b2b" stroke-width="1.0" />
<line x1="45.80" y1="310.20" x2="48.00" y2="310.20" stroke="#2b2b2b" stroke-width="1.0" />
<line x1="45.80" y1="304.33" x2="49.40" y2="304.33" stroke="#2b2b2b" stroke-width="1.0" />
<text x="35.90" y="308.43" font-size="12.5" text-anchor="end" fill="#2b2b2b" >80</text>
<line x1="45.80" y1="298.47" x2="48.00" y2="298.47" stroke="#2b2b2b" stroke-width="1.0" />
<line x1="45.80" y1="292.60" x2="48.00" y2="292.60" stroke="#2b2b2b" stroke-width="1.0" />
<line x1="45.80" y1="286.73" x2="48.00" y2="286.73" stroke="#2b2b2b" stroke-width="1.0" />
<line x1="45.80" y1="280.87" x2="48.00" y2="280.87" stroke="#2b2b2b" stroke-width="1.0" />
<line x1="45.80" y1="275.00" x2="49.40" y2="275.00" stroke="#2b2b2b" stroke-width="1.0" />
<text x="35.90" y="279.10" font-size="12.5" text-anchor="end" fill="#2b2b2b" >90</text>
<line x1="490.00" y1="539.00" x2="495.00" y2="539.00" stroke="#ff0000" stroke-width="1.2" />
<text x="505.60" y="543.10" font-size="12.5" text-anchor="start" fill="#ff0000" >0</text>
<line x1="491.80" y1="531.46" x2="495.00" y2="531.46" stroke="#ff0000" stroke-width="1.2" />
<line x1="491.80" y1="523.91" x2="495.00" y2="523.91" stroke="#ff0000" stroke-width="1.2" />
<line x1="491.80" y1="516.37" x2="495.00" y2="516.37" stroke="#ff0000" stroke-width="1.2" />
<line x1="491.80" y1="508.83" x2="495.00" y2="508.83" stroke="#ff0000" stroke-width="1.2" />
<line x1="490.00" y1="501.29" x2="495.00" y2="501.29" stroke="#ff0000" stroke-width="1.2" />
<text x="505.60" y="505.39" font-size="12.5" text-anchor="start" fill="#ff0000" >10</text>
<line x1="491.80" y1="493.74" x2="495.00" y2="493.74" stroke="#ff0000" stroke-width="1.2" />
<line x1="491.80" y1="486.20" x2="495.00" y2="486.20" stroke="#ff0000" stroke-width="1.2" />
<line x1="491.80" y1="478.66" x2="495.00" y2="478.66" stroke="#ff0000" stroke-width="1.2" />
<line x1="491.80" y1="471.11" x2="495.00" y2="471.11" stroke="#ff0000" stroke-width="1.2" />
<line x1="490.00" y1="463.57" x2="495.00" y2="463.57" stroke="#ff0000" stroke-width="1.2" />
<text x="505.60" y="467.67" font-size="12.5" text-anchor="start" fill="#ff0000" >20</text>
<line x1="491.80" y1="456.03" x2="495.00" y2="456.03" stroke="#ff0000" stroke-width="1.2" />
<line x1="491.80" y1="448.49" x2="495.00" y2="448.49" stroke="#ff0000" stroke-width="1.2" />
<line x1="491.80" y1="440.94" x2="495.00" y2="440.94" stroke="#ff0000" stroke-width="1.2" />
<line x1="491.80" y1="433.40" x2="495.00" y2="433.40" stroke="#ff0000" stroke-width="1.2" />
<line x1="490.00" y1="425.86" x2="495.00" y2="425.86" stroke="#ff0000" stroke-width="1.2" />
<text x="505.60" y="429.96" font-size="12.5" text-anchor="start" fill="#ff0000" >30</text>
<line x1="491.80" y1="418.31" x2="495.00" y2="418.31" stroke="#ff0000" stroke-width="1.2" />
<line x1="491.80" y1="410.77" x2="495.00" y2="410.77" stroke="#ff0000" stroke-width="1.2" />
<line x1="491.80" y1="403.23" x2="495.00" y2="403.23" stroke="#ff0000" stroke-width="1.2" />
<line x1="491.80" y1="395.69" x2="495.00" y2="395.69" stroke="#ff0000" stroke-width="1.2" />
<line x1="490.00" y1="388.14" x2="495.00" y2="388.14" stroke="#ff0000" stroke-width="1.2" />
<text x="505.60" y="392.24" font-size="12.5" text-anchor="start" fill="#ff0000" >40</text>
<line x1="491.80" y1="380.60" x2="495.00" y2="380.60" stroke="#ff0000" stroke-width="1.2" />
<line x1="491.80" y1="373.06" x2="495.00" y2="373.06" stroke="#ff0000" stroke-width="1.2" />
<line x1="491.80" y1="365.51" x2="495.00" y2="365.51" stroke="#ff0000" stroke-width="1.2" />
<line x1="491.80" y1="357.97" x2="495.00" y2="357.97" stroke="#ff0000" stroke-width="1.2" />
<line x1="490.00" y1="350.43" x2="495.00" y2="350.43" stroke="#ff0000" stroke-width="1.2" />
<text x="505.60" y="354.53" font-size="12.5" text-anchor="start" fill="#ff0000" >50</text>
<line x1="491.80" y1="342.89" x2="495.00" y2="342.89" stroke="#ff0000" stroke-width="1.2" />
<line x1="491.80" y1="335.34" x2="495.00" y2="335.34" stroke="#ff0000" stroke-width="1.2" />
<line x1="491.80" y1="327.80" x2="495.00" y2="327.80" stroke="#ff0000" stroke-width="1.2" />
<line x1="491.80" y1="320.26" x2="495.00" y2="320.26" stroke="#ff0000" stroke-width="1.2" />
<line x1="490.00" y1="312.71" x2="495.00" y2="312.71" stroke="#ff0000" stroke-width="1.2" />
<text x="505.60" y="316.81" font-size="12.5" text-anchor="start" fill="#ff0000" >60</text>
<line x1="491.80" y1="305.17" x2="495.00" y2="305.17" stroke="#ff0000" stroke-width="1.2" />
<line x1="491.80" y1="297.63" x2="495.00" y2="297.63" stroke="#ff0000" stroke-width="1.2" />
<line x1="491.80" y1="290.09" x2="495.00" y2="290.09" stroke="#ff0000" stroke-width="1.2" />
<line x1="491.80" y1="282.54" x2="495.00" y2="282.54" stroke="#ff0000" stroke-width="1.2" />
<line x1="490.00" y1="275.00" x2="495.00" y2="275.00" stroke="#ff0000" stroke-width="1.2" />
<text x="505.60" y="279.10" font-size="12.5" text-anchor="start" fill="#ff0000" >70</text>
<line x1="109.97" y1="539.00" x2="109.97" y2="536.40" stroke="#2b2b2b" stroke-width="1.0" />
<line x1="174.14" y1="539.00" x2="174.14" y2="536.40" stroke="#2b2b2b" stroke-width="1.0" />
<line x1="238.31" y1="539.00" x2="238.31" y2="536.40" stroke="#2b2b2b" stroke-width="1.0" />
<line x1="302.48" y1="539.00" x2="302.48" y2="536.40" stroke="#2b2b2b" stroke-width="1.0" />
<line x1="366.65" y1="539.00" x2="366.65" y2="536.40" stroke="#2b2b2b" stroke-width="1.0" />
<line x1="430.82" y1="539.00" x2="430.82" y2="536.40" stroke="#2b2b2b" stroke-width="1.0" />
<text x="45.80" y="558.20" font-size="12.5" text-anchor="middle" fill="#2b2b2b" >0</text>
<text x="109.97" y="558.20" font-size="12.5" text-anchor="middle" fill="#2b2b2b" >10</text>
<text x="174.14" y="558.20" font-size="12.5" text-anchor="middle" fill="#2b2b2b" >20</text>
<text x="238.31" y="558.20" font-size="12.5" text-anchor="middle" fill="#2b2b2b" >30</text>
<text x="302.48" y="558.20" font-size="12.5" text-anchor="middle" fill="#2b2b2b" >40</text>
<text x="366.65" y="558.20" font-size="12.5" text-anchor="middle" fill="#2b2b2b" >50</text>
<text x="430.82" y="558.20" font-size="12.5" text-anchor="middle" fill="#2b2b2b" >60</text>
<text x="494.99" y="558.20" font-size="12.5" text-anchor="middle" fill="#2b2b2b" >70</text>
<line x1="45.80" y1="274.50" x2="45.80" y2="539.60" stroke="#2b2b2b" stroke-width="1.3" />
<line x1="45.20" y1="275.00" x2="495.00" y2="275.00" stroke="#2b2b2b" stroke-width="1.3" />
<line x1="45.20" y1="539.00" x2="495.00" y2="539.00" stroke="#2b2b2b" stroke-width="1.3" />
<text x="16.30" y="407.00" font-size="12.1" text-anchor="middle" fill="#2b2b2b" transform="rotate(-90 16.30 407.00)" >Speed [km/h]</text>
<text x="533.70" y="407.00" font-size="12.1" text-anchor="middle" fill="#ff0000" transform="rotate(-90 533.70 407.00)" >Oil Pressure [bar]</text>
<text x="270.40" y="575.80" font-size="12.5" text-anchor="middle" fill="#2b2b2b" >Time [s]</text>
<g clip-path="url(#cpT)">
<clipPath id="cpT"><rect x="45.8" y="274.0" width="450.2" height="266.2"/></clipPath>
<path d="M61.9 538.8 L62.2 534.7 L62.6 530.5 L62.9 526.4 L63.3 521.7 L63.7 517.5 L64.0 512.1 L64.4 508.1 L64.8 504.0 L65.2 499.1 L65.6 494.8 L66.1 489.4 L66.5 485.2 L66.9 481.1 L67.3 477.6 L67.7 473.8 L68.2 469.4 L68.6 465.8 L69.0 462.1 L69.9 459.0 L70.7 455.0 L71.6 450.5 L73.1 449.4 L74.6 451.7 L75.5 455.1 L76.4 457.3 L77.9 452.6 L79.4 451.0 L81.0 453.3 L82.5 456.9 L83.8 452.7 L84.5 447.5 L85.3 441.7 L85.8 438.7 L86.3 434.4 L86.8 430.7 L88.3 424.3 L89.9 424.1 L91.4 427.4 L92.7 430.8 L93.2 426.4 L93.7 421.4 L94.0 417.0 L94.3 412.3 L94.6 407.9 L95.0 403.3 L95.3 399.3 L95.6 395.4 L95.9 390.5 L96.1 387.0 L96.4 382.4 L96.7 378.1 L97.0 374.7 L97.3 370.3 L97.6 366.1 L97.9 362.2 L98.2 358.4 L98.5 353.7 L99.1 350.0 L99.7 344.2 L100.3 340.2 L101.1 335.3 L101.8 329.3 L103.4 325.0 L104.6 326.3 L105.3 330.1 L105.9 333.1 L106.2 337.6 L106.5 342.2 L106.9 347.5 L107.2 351.1 L107.5 356.3 L107.8 361.1 L108.1 365.7 L108.4 369.6 L108.7 374.2 L109.0 378.9 L109.3 383.8 L109.6 387.6 L109.9 392.9 L110.2 397.6 L110.5 402.0 L110.8 405.5 L111.1 410.8 L111.5 414.3 L111.8 418.9 L112.8 415.2 L113.4 411.0 L114.0 406.0 L114.7 402.8 L115.3 398.5 L116.6 395.0 L117.9 396.0 L119.1 402.0 L120.4 406.9 L120.9 401.9 L121.4 397.4 L121.7 393.7 L121.9 388.7 L122.2 384.5 L122.4 381.5 L122.7 376.9 L123.0 372.0 L123.3 367.0 L123.7 362.7 L124.0 358.1 L124.6 353.5 L125.2 349.3 L126.5 348.4 L127.8 354.4 L128.2 357.7 L128.6 362.4 L129.1 367.1 L129.4 370.4 L129.7 375.1 L130.0 379.4 L130.3 383.1 L130.6 387.4 L131.0 391.1 L131.3 395.9 L131.7 400.0 L132.1 405.2 L132.6 408.9 L133.1 413.3 L133.6 418.1 L134.7 422.0 L135.9 416.1 L136.9 413.7 L138.0 412.5 L138.3 408.5 L138.6 404.0 L139.0 399.5 L139.3 395.5 L139.6 391.1 L139.9 387.2 L140.3 383.8 L140.9 378.3 L141.5 372.4 L142.5 375.6 L143.1 379.9 L143.6 384.1 L143.9 388.7 L144.2 393.7 L144.5 398.3 L144.8 402.2 L145.2 406.4 L145.6 410.3 L146.0 414.0 L146.4 417.8 L147.1 421.7 L147.9 425.1 L149.2 430.5 L150.4 426.2 L151.7 425.7 L152.3 429.6 L153.0 433.1 L153.6 436.2 L154.2 440.5 L155.3 443.7 L156.5 438.0 L157.0 433.6 L157.4 430.4 L157.8 426.2 L158.1 422.5 L158.4 418.2 L158.8 414.4 L159.1 410.1 L159.3 406.2 L159.6 401.6 L159.8 397.9 L160.1 393.9 L160.4 390.0 L160.8 385.6 L161.2 382.3 L161.6 378.5 L162.9 375.8 L164.2 382.5 L164.5 386.9 L164.8 390.9 L165.1 395.4 L165.4 399.4 L165.7 404.4 L165.9 408.7 L166.1 412.5 L166.3 416.9 L166.5 421.2 L166.7 425.5 L167.1 429.5 L167.6 434.9 L168.0 439.3 L169.3 445.8 L170.0 445.5 L170.8 441.9 L171.5 438.2 L171.9 434.3 L172.3 430.5 L172.7 426.0 L173.1 422.3 L173.4 418.2 L173.8 413.9 L174.2 409.0 L174.6 405.1 L175.3 400.6 L176.1 395.5 L177.6 398.5 L178.3 402.7 L178.9 406.9 L179.5 411.5 L180.2 416.1 L181.2 418.5 L181.5 413.9 L181.9 409.0 L182.2 404.8 L182.5 400.1 L182.8 395.8 L183.1 391.2 L183.4 386.3 L183.7 382.4 L184.0 376.8 L184.4 372.7 L184.7 368.0 L185.0 363.5 L185.3 358.6 L185.8 355.2 L186.3 350.4 L186.8 345.8 L187.6 342.0 L188.3 337.0 L189.8 333.7 L191.4 336.5 L192.1 333.3 L192.9 330.3 L193.7 325.7 L194.4 320.8 L195.2 316.8 L196.0 312.1 L196.7 307.4 L197.5 302.7 L198.0 299.4 L198.5 295.5 L199.0 292.1 L199.5 288.3 L200.5 286.7 L201.6 292.7 L201.9 298.4 L202.2 302.5 L202.6 307.7 L202.8 312.8 L203.0 317.5 L203.2 321.5 L203.4 326.6 L203.6 331.5 L203.8 335.2 L204.0 339.5 L204.2 343.5 L204.4 347.8 L204.6 352.8 L204.9 356.4 L205.1 361.3 L205.3 365.5 L205.5 369.3 L205.7 373.2 L205.9 378.2 L206.1 382.0 L206.3 386.1 L206.6 390.2 L206.8 395.2 L207.0 398.9 L207.2 402.9 L207.4 407.4 L207.7 411.1 L207.9 415.7 L208.2 419.6 L208.4 423.5 L208.7 428.1 L209.3 431.9 L209.9 434.9 L211.2 432.9 L212.5 435.1 L213.8 433.3 L214.4 437.0 L215.0 440.2 L216.3 445.3 L216.8 441.4 L217.3 438.5 L217.8 433.5 L218.2 429.6 L218.6 425.2 L219.0 420.9 L219.4 416.4 L219.7 412.1 L220.1 407.0 L220.5 403.2 L220.9 398.3 L221.3 394.1 L221.7 389.4 L222.2 385.1 L222.7 381.1 L223.2 376.8 L224.7 372.9 L226.2 377.1 L227.0 380.2 L227.8 382.7 L228.5 386.1 L229.3 389.5 L230.8 392.6 L231.5 396.4 L232.1 399.8 L232.6 403.1 L233.1 407.7 L233.4 402.9 L233.6 398.6 L233.9 394.3 L234.1 389.7 L234.5 384.5 L234.8 379.9 L235.1 374.2 L236.2 367.8 L237.2 372.2 L237.6 376.5 L238.0 381.7 L238.4 387.4 L238.8 390.9 L239.1 396.1 L239.4 400.2 L239.7 404.3 L240.0 408.4 L240.4 413.8 L240.7 418.7 L241.1 422.6 L241.5 427.7 L242.1 432.3 L242.8 436.7 L243.8 437.8 L245.1 432.5 L245.6 428.7 L246.1 424.7 L246.6 419.7 L247.0 415.4 L247.4 411.6 L247.7 407.1 L248.1 402.5 L248.5 397.3 L248.9 393.7 L249.3 389.5 L249.6 385.1 L250.2 380.5 L250.7 375.5 L251.2 372.2 L251.9 367.7 L252.7 364.3 L254.0 358.3 L255.0 358.0 L255.3 362.0 L255.7 366.9 L256.0 372.2 L256.3 375.5 L256.5 380.0 L256.8 383.9 L257.0 387.7 L257.3 392.3 L257.5 396.2 L257.8 400.9 L258.0 405.7 L258.3 410.0 L258.5 414.6 L259.2 420.2 L259.8 425.5 L261.1 428.2 L262.4 423.5 L263.6 426.4 L264.9 421.2 L266.2 427.9 L267.5 430.8 L268.1 426.0 L268.7 420.0 L270.0 422.2 L270.6 419.1 L271.3 414.7 L271.9 419.0 L272.5 422.7 L273.2 418.7 L273.8 413.8 L275.1 420.3 L276.4 417.3 L277.0 421.5 L277.6 424.9 L278.9 422.9 L280.2 417.6 L280.6 412.9 L281.0 408.8 L281.5 404.7 L281.8 401.3 L282.2 396.9 L282.6 393.6 L283.0 389.8 L283.5 385.3 L284.0 382.1 L284.5 377.7 L286.0 372.6 L287.3 370.6 L287.9 365.8 L288.6 362.0 L289.8 355.2 L291.1 352.5 L292.4 356.8 L293.0 361.1 L293.7 366.9 L294.0 370.4 L294.3 374.8 L294.7 379.9 L295.2 384.7 L295.7 389.3 L296.0 384.7 L296.2 381.2 L296.5 376.4 L296.7 372.1 L297.1 366.3 L297.6 361.7 L298.0 356.4 L299.3 350.6 L300.0 351.2 L301.3 350.3 L302.5 355.1 L303.0 358.9 L303.4 362.5 L303.8 367.1 L304.1 370.9 L304.3 375.2 L304.6 378.8 L304.8 383.4 L305.1 387.1 L305.3 391.7 L305.6 396.3 L305.9 401.1 L306.1 405.3 L306.4 409.5 L306.8 413.7 L307.2 418.1 L307.6 422.2 L308.9 420.6 L310.2 425.2 L311.5 423.0 L312.1 425.9 L312.7 430.3 L313.4 435.2 L314.0 439.3 L315.3 441.7 L315.9 437.3 L316.5 432.4 L317.2 428.0 L317.8 423.6 L319.1 427.6 L320.4 431.5 L321.0 427.5 L321.6 422.3 L322.9 417.3 L323.4 421.2 L323.9 424.8 L324.3 420.7 L324.6 416.4 L324.9 412.5 L325.2 407.9 L325.4 404.8 L325.7 400.1 L326.0 396.7 L326.2 392.3 L326.5 388.3 L326.7 384.0 L327.0 380.4 L327.2 375.4 L327.5 372.0 L327.9 366.9 L328.3 362.6 L328.8 358.0 L330.0 351.1 L331.3 353.6 L332.6 358.5 L333.8 357.5 L335.1 363.7 L335.5 369.1 L336.0 374.8 L336.4 379.3 L336.6 383.3 L336.9 387.5 L337.2 391.4 L337.4 396.0 L337.7 400.0 L338.0 403.9 L338.3 408.4 L338.6 413.3 L338.9 418.1 L339.4 422.0 L339.8 426.0 L340.2 430.8 L340.8 434.2 L341.5 438.7 L342.7 441.3 L344.0 437.8 L345.0 440.5 L345.7 437.0 L346.3 433.4 L346.7 428.6 L347.2 424.2 L347.6 419.7 L348.3 415.2 L349.1 411.7 L349.9 408.0 L350.6 405.3 L352.2 399.3 L352.9 395.7 L353.7 391.6 L354.2 387.8 L354.7 383.2 L355.2 379.1 L355.6 375.5 L356.0 371.6 L356.4 367.5 L356.7 363.6 L357.3 360.4 L357.8 355.3 L358.3 351.4 L359.0 346.2 L359.8 341.3 L360.4 336.3 L361.1 332.1 L361.8 328.6 L362.6 336.2 L362.8 341.1 L363.1 345.2 L363.4 349.9 L363.6 353.7 L364.0 358.5 L364.5 364.2 L364.9 369.2 L366.2 374.4 L366.8 378.0 L367.4 382.1 L368.1 386.0 L368.7 390.0 L369.3 394.5 L370.0 399.7 L370.6 403.9 L371.2 407.1 L371.9 410.8 L372.5 414.8 L373.5 418.4 L374.0 415.3 L374.6 411.6 L375.6 407.2 L376.6 410.8 L377.6 405.7 L378.6 412.2 L379.6 408.2 L380.7 403.5 L381.7 407.5 L382.7 402.0 L383.7 396.7 L384.7 401.3 L385.2 396.1 L385.8 391.8 L386.3 388.1 L386.8 384.4 L387.8 379.0 L389.1 381.9 L390.3 376.7 L391.0 372.1 L391.6 366.8 L392.2 362.0 L392.9 356.7 L394.1 351.7 L395.4 357.9 L396.7 353.9 L397.3 350.5 L398.0 346.5 L399.2 341.7 L399.9 336.4 L400.5 331.3 L400.9 326.6 L401.4 322.9 L401.8 318.2 L402.4 312.9 L403.1 307.7 L403.7 304.0 L404.3 300.3 L405.6 299.5 L406.9 301.6 L407.9 306.4 L408.2 311.9 L408.6 316.3 L408.9 320.4 L409.1 325.0 L409.3 329.6 L409.5 334.5 L409.7 339.6 L409.9 344.3 L409.9 348.1 L410.0 351.9 L410.0 356.4 L410.0 360.5 L410.1 364.7 L410.1 368.6 L410.1 373.4 L410.1 377.9 L410.2 382.0 L410.2 385.5 L410.6 390.1 L411.0 393.8 L411.4 398.4 L411.8 402.2 L412.2 406.8 L413.0 410.2 L413.7 412.9 L414.5 416.6 L415.3 420.8 L416.5 422.8 L417.8 425.3 L418.2 421.0 L418.6 417.1 L419.0 412.9 L419.4 408.2 L419.8 404.3 L420.7 407.7 L421.6 411.0 L422.5 415.0 L423.4 417.7 L425.4 416.0 L426.7 423.4 L427.4 417.9 L428.0 414.1 L430.0 417.8 L430.4 422.5 L430.7 426.3 L431.1 430.5 L431.5 434.8 L431.8 439.1 L432.3 443.9 L432.7 448.2 L433.1 453.0 L433.6 456.9 L434.7 460.5 L435.8 463.7 L436.9 467.9 L437.7 471.2 L438.6 474.6 L439.4 477.7 L440.7 481.3 L442.0 484.8 L443.3 486.9 L444.5 487.7 L445.8 488.5 L447.1 487.8 L448.3 486.8 L449.6 490.3 L450.9 493.3 L452.2 491.2 L453.4 490.6 L454.7 488.8 L456.0 487.5 L457.3 486.0 L458.5 484.1 L459.8 482.6 L461.1 480.4 L462.3 478.3 L463.6 479.7 L464.9 480.6 L466.2 481.0 L467.4 482.0 L468.9 483.4 L470.3 484.5 L471.8 486.3 L472.6 489.9 L473.4 493.5 L474.2 497.2 L475.1 500.4 L476.3 503.6 L477.6 505.9 L478.9 508.6 L479.8 510.9 L480.8 513.4 L481.7 515.8 L482.7 518.6 L484.0 519.8 L485.2 521.8 L486.5 523.6 L487.8 524.0 L489.1 524.4 L489.7 520.1 L490.3 515.9 L491.0 512.1 L491.6 508.2 L492.1 504.6 L492.6 500.7 L493.1 496.5 L493.6 493.3 L494.5 488.1 L495.4 483.9" fill="none" stroke="#000000" stroke-width="1.6" stroke-linejoin="round" stroke-linecap="round" />
<path d="M67.1 539.3 L68.4 524.0 L70.2 503.6 L72.2 480.7 L74.3 460.4 L76.1 449.2 L75.3 447.6 L76.8 450.7 L78.3 454.3 L79.9 450.2 L81.4 449.2 L82.9 451.7 L84.2 454.3 L85.7 448.2 L87.5 437.5 L89.0 427.3 L90.3 423.2 L91.6 423.2 L92.8 425.3 L94.1 426.3 L95.4 417.1 L96.9 399.3 L98.7 373.9 L100.5 351.0 L102.0 336.2 L103.3 327.1 L104.5 321.5 L105.8 322.5 L107.1 328.6 L108.4 344.4 L109.9 367.3 L111.4 387.6 L112.9 402.9 L114.2 410.0 L115.5 405.0 L116.8 396.6 L118.0 392.7 L119.3 392.2 L120.6 395.8 L121.6 397.3 L122.6 390.2 L123.9 372.4 L125.2 354.6 L126.4 346.4 L127.7 345.9 L129.0 349.5 L130.2 359.7 L131.8 377.5 L133.3 390.2 L134.8 399.1 L136.4 402.9 L137.9 403.9 L139.4 401.6 L140.7 392.7 L142.0 381.3 L143.2 377.0 L144.5 378.7 L145.8 386.4" fill="none" stroke="#0070d0" stroke-width="1.3" stroke-linejoin="round" stroke-linecap="round" />
<path d="M159.3 422.0 L160.5 408.0 L161.8 387.6 L163.1 377.0 L164.3 374.9 L165.6 378.7 L166.9 392.7 L168.2 415.6 L169.4 432.2 L170.7 439.8 L171.7 438.5 L173.7 428.4 L175.3 413.1 L176.8 397.8 L178.1 394.5 L179.3 396.6 L180.9 401.6 L182.4 402.9 L183.7 392.7 L185.2 372.4 L187.0 352.0 L189.0 339.3 L190.5 332.9 L192.1 331.7 L193.6 327.9 L195.1 318.9 L196.6 311.3 L198.2 301.1 L199.7 288.4 L200.7 280.8 L201.7 278.7 L202.7 283.3 L203.8 296.0 L204.8 316.4 L206.1 341.8 L207.3 367.3 L208.6 392.7 L209.9 415.6 L211.1 430.9 L212.4 434.7 L213.7 430.9 L215.0 430.4 L216.2 434.7 L217.5 437.3 L218.8 433.4 L220.0 420.7 L221.6 402.9 L223.1 385.1 L224.6 373.7 L226.2 370.3 L227.7 372.4 L229.2 376.2 L230.7 380.0 L232.3 382.6 L233.8 383.8 L234.8 380.0 L236.1 372.4 L237.3 369.3 L238.6 372.4 L239.9 385.1 L241.4 405.5 L242.9 423.3 L244.5 432.2 L245.7 433.4 L247.0 428.4 L248.5 415.6 L250.1 397.8 L251.6 380.0 L253.1 367.3 L254.7 360.9 L255.9 360.2 L257.2 367.3 L258.5 385.1 L259.7 408.0 L261.0 423.3 L262.3 426.3 L263.8 423.3 L265.3 420.7 L266.9 418.2 L268.4 420.7 L269.9 416.9 L271.4 413.1 L273.0 410.5 L274.5 409.3 L276.0 410.5 L277.6 413.6 L279.1 415.6 L280.6 417.7 L282.1 413.1 L283.7 400.4 L285.2 385.1 L286.7 373.7 L288.2 371.1 L289.5 367.3 L290.8 358.4 L292.1 352.5 L293.3 351.5 L294.6 354.6 L295.9 362.2 L296.9 368.6 L297.9 364.7 L299.2 354.6 L300.5 348.2 L301.7 346.9 L303.0 347.4 L304.2 351.5 L305.5 358.4 L306.8 372.4 L307.8 382.6 L308.8 391.7" fill="none" stroke="#0070d0" stroke-width="1.3" stroke-linejoin="round" stroke-linecap="round" />
<path d="M325.9 411.1 L326.6 402.9 L327.1 387.6 L328.4 372.4 L329.7 357.1 L331.0 348.2 L332.2 345.7 L333.5 348.2 L334.8 352.0 L336.1 354.6 L337.3 358.4 L338.3 372.4 L339.1 390.2 L339.9 407.0" fill="none" stroke="#0070d0" stroke-width="1.3" stroke-linejoin="round" stroke-linecap="round" />
<path d="M350.0 419.7 L351.3 410.5 L352.6 401.9 L353.9 393.2 L355.1 384.1 L356.4 374.9 L357.7 365.3 L359.2 357.1 L360.7 344.4 L362.3 336.2 L363.5 334.2 L364.8 340.6 L366.1 346.9 L367.3 352.0" fill="none" stroke="#0070d0" stroke-width="1.3" stroke-linejoin="round" stroke-linecap="round" />
<path d="M385.9 390.2 L387.2 385.1 L388.7 377.5 L390.2 371.1 L391.8 364.7 L393.3 354.6 L394.8 346.9 L396.4 345.7 L397.9 346.9 L399.4 339.3 L400.9 334.2 L402.5 321.5 L404.0 306.2 L405.5 296.0 L407.0 291.5 L408.3 293.0 L409.6 298.6 L410.6 311.3 L411.6 331.7" fill="none" stroke="#0070d0" stroke-width="1.3" stroke-linejoin="round" stroke-linecap="round" />
<path d="M104.1 321.9 L106.7 338.7 L109.2 357.8 L111.2 368.0 L121.9 376.9" fill="none" stroke="#0070d0" stroke-width="2.9" stroke-linejoin="round" stroke-linecap="round" />
<path d="M126.0 345.3 L128.0 351.4 L129.6 361.6 L131.1 370.5 L141.8 381.5 L159.1 399.8" fill="none" stroke="#0070d0" stroke-width="2.9" stroke-linejoin="round" stroke-linecap="round" />
<path d="M162.6 374.3 L164.7 384.5 L166.2 402.3 L167.2 407.4 L172.8 413.8" fill="none" stroke="#0070d0" stroke-width="2.9" stroke-linejoin="round" stroke-linecap="round" />
<path d="M200.0 278.1 L202.6 295.4 L205.6 326.0 L208.2 348.9 L209.7 356.5 L234.1 373.1" fill="none" stroke="#0070d0" stroke-width="2.9" stroke-linejoin="round" stroke-linecap="round" />
<path d="M235.6 368.7 L237.7 376.9 L239.5 389.6 L240.7 396.0 L247.9 403.6" fill="none" stroke="#0070d0" stroke-width="2.9" stroke-linejoin="round" stroke-linecap="round" />
<path d="M254.2 359.6 L256.0 369.2 L257.8 389.6 L259.1 401.0 L270.5 409.9 L279.9 415.5" fill="none" stroke="#0070d0" stroke-width="2.9" stroke-linejoin="round" stroke-linecap="round" />
<path d="M301.3 346.3 L303.6 354.0 L305.6 368.0 L307.1 376.9 L325.4 389.1" fill="none" stroke="#0070d0" stroke-width="2.9" stroke-linejoin="round" stroke-linecap="round" />
<path d="M330.5 345.1 L334.4 353.5 L336.4 369.2 L338.2 385.8 L350.4 396.0" fill="none" stroke="#0070d0" stroke-width="2.9" stroke-linejoin="round" stroke-linecap="round" />
<path d="M361.8 333.6 L363.6 341.2 L365.6 348.4 L389.6 369.7" fill="none" stroke="#0070d0" stroke-width="2.9" stroke-linejoin="round" stroke-linecap="round" />
<path d="M405.3 290.9 L407.9 296.7 L409.4 313.3 L410.2 330.0 L411.5 342.7 L414.0 352.9 L430.5 364.4 L433.1 375.8" fill="none" stroke="#0070d0" stroke-width="2.9" stroke-linejoin="round" stroke-linecap="round" />
<path d="M66.3 539.3 L67.5 524.0 L69.3 503.6 L71.4 480.7 L73.4 460.4 L75.2 449.2 L74.9 447.6 L76.4 450.7 L77.9 454.3 L79.5 450.2 L81.0 449.2 L82.5 451.7 L83.8 454.3 L85.3 448.2 L87.1 437.5 L88.6 427.3 L89.9 423.2 L91.2 423.2 L92.4 425.3 L93.7 426.3 L95.0 417.1 L96.5 399.3 L98.3 373.9 L100.1 351.0 L101.6 336.2 L102.9 327.1 L104.1 321.5 L105.4 322.5 L106.7 328.6 L108.0 344.4 L109.5 367.3 L111.0 387.6 L112.5 402.9 L113.8 410.0 L115.1 405.0 L116.4 396.6 L117.6 392.7 L118.9 392.2 L120.2 395.8 L121.2 397.3 L122.2 390.2 L123.5 372.4 L124.8 354.6 L126.0 346.4 L127.3 345.9 L128.6 349.5 L129.8 359.7 L131.4 377.5 L132.9 390.2 L134.4 399.1 L136.0 402.9 L137.5 403.9 L139.0 401.6 L140.3 392.7 L141.6 381.3 L142.8 377.0 L144.1 378.7 L145.4 386.4" fill="none" stroke="#00b050" stroke-width="1.3" stroke-linejoin="round" stroke-linecap="round" />
<path d="M158.9 422.0 L160.1 408.0 L161.4 387.6 L162.7 377.0 L163.9 374.9 L165.2 378.7 L166.5 392.7 L167.8 415.6 L169.0 432.2 L170.3 439.8 L171.3 438.5 L173.3 428.4 L174.9 413.1 L176.4 397.8 L177.7 394.5 L178.9 396.6 L180.5 401.6 L182.0 402.9 L183.3 392.7 L184.8 372.4 L186.6 352.0 L188.6 339.3 L190.1 332.9 L191.7 331.7 L193.2 327.9 L194.7 318.9 L196.2 311.3 L197.8 301.1 L199.3 288.4 L200.3 280.8 L201.3 278.7 L202.3 283.3 L203.4 296.0 L204.4 316.4 L205.7 341.8 L206.9 367.3 L208.2 392.7 L209.5 415.6 L210.7 430.9 L212.0 434.7 L213.3 430.9 L214.6 430.4 L215.8 434.7 L217.1 437.3 L218.4 433.4 L219.6 420.7 L221.2 402.9 L222.7 385.1 L224.2 373.7 L225.8 370.3 L227.3 372.4 L228.8 376.2 L230.3 380.0 L231.9 382.6 L233.4 383.8 L234.4 380.0 L235.7 372.4 L236.9 369.3 L238.2 372.4 L239.5 385.1 L241.0 405.5 L242.5 423.3 L244.1 432.2 L245.3 433.4 L246.6 428.4 L248.1 415.6 L249.7 397.8 L251.2 380.0 L252.7 367.3 L254.3 360.9 L255.5 360.2 L256.8 367.3 L258.1 385.1 L259.3 408.0 L260.6 423.3 L261.9 426.3 L263.4 423.3 L264.9 420.7 L266.5 418.2 L268.0 420.7 L269.5 416.9 L271.0 413.1 L272.6 410.5 L274.1 409.3 L275.6 410.5 L277.2 413.6 L278.7 415.6 L280.2 417.7 L281.7 413.1 L283.3 400.4 L284.8 385.1 L286.3 373.7 L287.8 371.1 L289.1 367.3 L290.4 358.4 L291.7 352.5 L292.9 351.5 L294.2 354.6 L295.5 362.2 L296.5 368.6 L297.5 364.7 L298.8 354.6 L300.1 348.2 L301.3 346.9 L302.6 347.4 L303.8 351.5 L305.1 358.4 L306.4 372.4 L307.4 382.6 L308.4 391.7" fill="none" stroke="#00b050" stroke-width="1.3" stroke-linejoin="round" stroke-linecap="round" />
<path d="M325.5 411.1 L326.2 402.9 L326.7 387.6 L328.0 372.4 L329.3 357.1 L330.6 348.2 L331.8 345.7 L333.1 348.2 L334.4 352.0 L335.7 354.6 L336.9 358.4 L337.9 372.4 L338.7 390.2 L339.5 407.0" fill="none" stroke="#00b050" stroke-width="1.3" stroke-linejoin="round" stroke-linecap="round" />
<path d="M349.6 419.7 L350.9 410.5 L352.2 401.9 L353.5 393.2 L354.7 384.1 L356.0 374.9 L357.3 365.3 L358.8 357.1 L360.3 344.4 L361.9 336.2 L363.1 334.2 L364.4 340.6 L365.7 346.9 L366.9 352.0" fill="none" stroke="#00b050" stroke-width="1.3" stroke-linejoin="round" stroke-linecap="round" />
<path d="M385.5 390.2 L386.8 385.1 L388.3 377.5 L389.8 371.1 L391.4 364.7 L392.9 354.6 L394.4 346.9 L396.0 345.7 L397.5 346.9 L399.0 339.3 L400.5 334.2 L402.1 321.5 L403.6 306.2 L405.1 296.0 L406.6 291.5 L407.9 293.0 L409.2 298.6 L410.2 311.3 L411.2 331.7" fill="none" stroke="#00b050" stroke-width="1.3" stroke-linejoin="round" stroke-linecap="round" />
<path d="M103.9 321.9 L106.4 340.0 L109.0 361.6 L112.0 375.6 L120.9 385.8" fill="none" stroke="#00b050" stroke-width="2.4" stroke-linejoin="round" stroke-linecap="round" />
<path d="M126.0 345.3 L128.0 352.7 L129.6 365.4 L131.6 376.9 L139.7 389.6" fill="none" stroke="#00b050" stroke-width="2.4" stroke-linejoin="round" stroke-linecap="round" />
<path d="M141.5 376.4 L143.1 382.0 L144.3 389.6 L158.3 409.9" fill="none" stroke="#00b050" stroke-width="2.4" stroke-linejoin="round" stroke-linecap="round" />
<path d="M162.6 374.3 L164.7 387.0 L166.5 413.8 L172.3 422.7" fill="none" stroke="#00b050" stroke-width="2.4" stroke-linejoin="round" stroke-linecap="round" />
<path d="M200.0 278.1 L202.6 298.0 L205.6 331.1 L208.2 361.6 L210.2 376.9 L222.2 387.0" fill="none" stroke="#00b050" stroke-width="2.4" stroke-linejoin="round" stroke-linecap="round" />
<path d="M235.6 368.7 L237.7 378.1 L239.7 394.7 L241.2 404.9 L247.1 412.5" fill="none" stroke="#00b050" stroke-width="2.4" stroke-linejoin="round" stroke-linecap="round" />
<path d="M254.2 359.6 L256.0 370.5 L258.0 394.7 L259.6 408.7 L268.0 417.6" fill="none" stroke="#00b050" stroke-width="2.4" stroke-linejoin="round" stroke-linecap="round" />
<path d="M301.3 346.3 L303.6 355.2 L305.6 371.8 L307.6 383.2 L324.9 398.5" fill="none" stroke="#00b050" stroke-width="2.4" stroke-linejoin="round" stroke-linecap="round" />
<path d="M330.5 345.1 L334.4 354.0 L336.6 371.8 L338.7 392.1 L348.3 403.6" fill="none" stroke="#00b050" stroke-width="2.4" stroke-linejoin="round" stroke-linecap="round" />
<path d="M361.8 333.6 L363.6 342.5 L365.6 351.4 L389.1 372.3" fill="none" stroke="#00b050" stroke-width="2.4" stroke-linejoin="round" stroke-linecap="round" />
<path d="M405.3 290.9 L407.9 297.5 L409.4 315.8 L410.7 330.0 L412.2 355.4 L414.0 363.1 L430.5 378.3 L433.1 394.9" fill="none" stroke="#00b050" stroke-width="2.4" stroke-linejoin="round" stroke-linecap="round" />
<path d="M65.4 539.3 L66.7 524.0 L68.4 503.6 L70.5 480.7 L72.5 460.4 L74.3 449.2 L74.5 447.6 L76.0 450.7 L77.5 454.3 L79.1 450.2 L80.6 449.2 L82.1 451.7 L83.4 454.3 L84.9 448.2 L86.7 437.5 L88.2 427.3 L89.5 423.2 L90.8 423.2 L92.0 425.3 L93.3 426.3 L94.6 417.1 L96.1 399.3 L97.9 373.9 L99.7 351.0 L101.2 336.2 L102.5 327.1 L103.7 321.5 L105.0 322.5 L106.3 328.6 L107.6 344.4 L109.1 367.3 L110.6 387.6 L112.1 402.9 L113.4 410.0 L114.7 405.0 L116.0 396.6 L117.2 392.7 L118.5 392.2 L119.8 395.8 L120.8 397.3 L121.8 390.2 L123.1 372.4 L124.4 354.6 L125.6 346.4 L126.9 345.9 L128.2 349.5 L129.4 359.7 L131.0 377.5 L132.5 390.2 L134.0 399.1 L135.6 402.9 L137.1 403.9 L138.6 401.6 L139.9 392.7 L141.2 381.3 L142.4 377.0 L143.7 378.7 L145.0 386.4" fill="none" stroke="#ffc000" stroke-width="1.3" stroke-linejoin="round" stroke-linecap="round" />
<path d="M158.5 422.0 L159.7 408.0 L161.0 387.6 L162.3 377.0 L163.5 374.9 L164.8 378.7 L166.1 392.7 L167.4 415.6 L168.6 432.2 L169.9 439.8 L170.9 438.5 L172.9 428.4 L174.5 413.1 L176.0 397.8 L177.3 394.5 L178.5 396.6 L180.1 401.6 L181.6 402.9 L182.9 392.7 L184.4 372.4 L186.2 352.0 L188.2 339.3 L189.7 332.9 L191.3 331.7 L192.8 327.9 L194.3 318.9 L195.8 311.3 L197.4 301.1 L198.9 288.4 L199.9 280.8 L200.9 278.7 L201.9 283.3 L203.0 296.0 L204.0 316.4 L205.3 341.8 L206.5 367.3 L207.8 392.7 L209.1 415.6 L210.3 430.9 L211.6 434.7 L212.9 430.9 L214.2 430.4 L215.4 434.7 L216.7 437.3 L218.0 433.4 L219.2 420.7 L220.8 402.9 L222.3 385.1 L223.8 373.7 L225.4 370.3 L226.9 372.4 L228.4 376.2 L229.9 380.0 L231.5 382.6 L233.0 383.8 L234.0 380.0 L235.3 372.4 L236.5 369.3 L237.8 372.4 L239.1 385.1 L240.6 405.5 L242.1 423.3 L243.7 432.2 L244.9 433.4 L246.2 428.4 L247.7 415.6 L249.3 397.8 L250.8 380.0 L252.3 367.3 L253.9 360.9 L255.1 360.2 L256.4 367.3 L257.7 385.1 L258.9 408.0 L260.2 423.3 L261.5 426.3 L263.0 423.3 L264.5 420.7 L266.1 418.2 L267.6 420.7 L269.1 416.9 L270.6 413.1 L272.2 410.5 L273.7 409.3 L275.2 410.5 L276.8 413.6 L278.3 415.6 L279.8 417.7 L281.3 413.1 L282.9 400.4 L284.4 385.1 L285.9 373.7 L287.4 371.1 L288.7 367.3 L290.0 358.4 L291.3 352.5 L292.5 351.5 L293.8 354.6 L295.1 362.2 L296.1 368.6 L297.1 364.7 L298.4 354.6 L299.7 348.2 L300.9 346.9 L302.2 347.4 L303.4 351.5 L304.7 358.4 L306.0 372.4 L307.0 382.6 L308.0 391.7" fill="none" stroke="#ffc000" stroke-width="1.3" stroke-linejoin="round" stroke-linecap="round" />
<path d="M325.1 411.1 L325.8 402.9 L326.3 387.6 L327.6 372.4 L328.9 357.1 L330.2 348.2 L331.4 345.7 L332.7 348.2 L334.0 352.0 L335.3 354.6 L336.5 358.4 L337.5 372.4 L338.3 390.2 L339.1 407.0" fill="none" stroke="#ffc000" stroke-width="1.3" stroke-linejoin="round" stroke-linecap="round" />
<path d="M349.2 419.7 L350.5 410.5 L351.8 401.9 L353.1 393.2 L354.3 384.1 L355.6 374.9 L356.9 365.3 L358.4 357.1 L359.9 344.4 L361.5 336.2 L362.7 334.2 L364.0 340.6 L365.3 346.9 L366.5 352.0" fill="none" stroke="#ffc000" stroke-width="1.3" stroke-linejoin="round" stroke-linecap="round" />
<path d="M385.1 390.2 L386.4 385.1 L387.9 377.5 L389.4 371.1 L391.0 364.7 L392.5 354.6 L394.0 346.9 L395.6 345.7 L397.1 346.9 L398.6 339.3 L400.1 334.2 L401.7 321.5 L403.2 306.2 L404.7 296.0 L406.2 291.5 L407.5 293.0 L408.8 298.6 L409.8 311.3 L410.8 331.7" fill="none" stroke="#ffc000" stroke-width="1.3" stroke-linejoin="round" stroke-linecap="round" />
<path d="M103.6 321.9 L106.2 341.2 L108.7 369.2 L110.5 384.5 L114.3 397.2" fill="none" stroke="#ffc000" stroke-width="1.9" stroke-linejoin="round" stroke-linecap="round" />
<path d="M126.0 345.3 L128.0 354.0 L129.8 371.8 L132.1 384.5 L138.5 397.2" fill="none" stroke="#ffc000" stroke-width="1.9" stroke-linejoin="round" stroke-linecap="round" />
<path d="M141.5 376.4 L143.1 383.2 L144.8 397.2 L157.6 420.1" fill="none" stroke="#ffc000" stroke-width="1.9" stroke-linejoin="round" stroke-linecap="round" />
<path d="M162.6 374.3 L164.7 389.6 L166.7 420.1 L171.0 432.8" fill="none" stroke="#ffc000" stroke-width="1.9" stroke-linejoin="round" stroke-linecap="round" />
<path d="M200.0 278.1 L202.6 300.5 L205.6 336.2 L208.2 371.8 L210.2 397.2 L212.0 408.7 L218.3 418.9" fill="none" stroke="#ffc000" stroke-width="1.9" stroke-linejoin="round" stroke-linecap="round" />
<path d="M235.6 368.7 L237.7 379.4 L240.0 402.3 L242.0 417.6 L245.3 425.7" fill="none" stroke="#ffc000" stroke-width="1.9" stroke-linejoin="round" stroke-linecap="round" />
<path d="M254.2 359.6 L256.0 371.8 L258.3 399.8 L260.1 420.1 L262.1 422.7" fill="none" stroke="#ffc000" stroke-width="1.9" stroke-linejoin="round" stroke-linecap="round" />
<path d="M301.3 346.3 L303.6 356.5 L305.6 376.9 L308.1 392.1 L324.2 409.4" fill="none" stroke="#ffc000" stroke-width="1.9" stroke-linejoin="round" stroke-linecap="round" />
<path d="M330.5 345.1 L334.4 354.5 L336.9 374.3 L339.4 399.8 L346.3 415.5" fill="none" stroke="#ffc000" stroke-width="1.9" stroke-linejoin="round" stroke-linecap="round" />
<path d="M361.8 333.6 L363.6 343.8 L365.1 354.0 L386.5 382.0" fill="none" stroke="#ffc000" stroke-width="1.9" stroke-linejoin="round" stroke-linecap="round" />
<path d="M405.3 290.9 L407.9 298.0 L409.4 318.3 L410.2 355.4 L412.2 380.9 L414.8 389.8 L430.0 411.4 L432.6 431.8 L435.6 442.0 L440.7 452.1 L444.5 467.4 L448.3 482.7 L450.9 491.6 L454.7 489.0 L462.3 478.9 L467.4 482.7 L471.2 490.3 L473.3 508.1 L474.3 518.3 L476.3 519.6 L484.0 531.0 L487.8 532.3 L490.3 525.9 L492.9 508.1 L495.4 490.3" fill="none" stroke="#ffc000" stroke-width="1.9" stroke-linejoin="round" stroke-linecap="round" />
<path d="M64.4 539.3 L65.7 524.0 L67.5 503.6 L69.5 480.7 L71.5 460.4 L73.3 449.2 L74.0 447.6 L75.6 450.7 L77.1 454.3 L78.6 450.2 L80.1 449.2 L81.7 451.7 L82.9 454.3 L84.5 448.2 L86.3 437.5 L87.8 427.3 L89.1 423.2 L90.3 423.2 L91.6 425.3 L92.9 426.3 L94.1 417.1 L95.7 399.3 L97.4 373.9 L99.2 351.0 L100.8 336.2 L102.0 327.1 L103.3 321.5 L104.6 322.5 L105.8 328.6 L107.1 344.4 L108.6 367.3 L110.2 387.6 L111.7 402.9 L113.0 410.0 L114.2 405.0 L115.5 396.6 L116.8 392.7 L118.1 392.2 L119.3 395.8 L120.3 397.3 L121.4 390.2 L122.6 372.4 L123.9 354.6 L125.2 346.4 L126.5 345.9 L127.7 349.5 L129.0 359.7 L130.5 377.5 L132.1 390.2 L133.6 399.1 L135.1 402.9 L136.6 403.9 L138.2 401.6 L139.4 392.7 L140.7 381.3 L142.0 377.0 L143.2 378.7 L144.5 386.4" fill="none" stroke="#ff7f27" stroke-width="1.3" stroke-linejoin="round" stroke-linecap="round" />
<path d="M158.0 422.0 L159.3 408.0 L160.6 387.6 L161.8 377.0 L163.1 374.9 L164.4 378.7 L165.6 392.7 L166.9 415.6 L168.2 432.2 L169.5 439.8 L170.4 438.5 L172.5 428.4 L174.0 413.1 L175.5 397.8 L176.8 394.5 L178.1 396.6 L179.6 401.6 L181.1 402.9 L182.4 392.7 L183.9 372.4 L185.7 352.0 L187.8 339.3 L189.3 332.9 L190.8 331.7 L192.3 327.9 L193.9 318.9 L195.4 311.3 L196.9 301.1 L198.4 288.4 L199.5 280.8 L200.5 278.7 L201.5 283.3 L202.5 296.0 L203.5 316.4 L204.8 341.8 L206.1 367.3 L207.3 392.7 L208.6 415.6 L209.9 430.9 L211.2 434.7 L212.4 430.9 L213.7 430.4 L215.0 434.7 L216.3 437.3 L217.5 433.4 L218.8 420.7 L220.3 402.9 L221.8 385.1 L223.4 373.7 L224.9 370.3 L226.4 372.4 L228.0 376.2 L229.5 380.0 L231.0 382.6 L232.5 383.8 L233.6 380.0 L234.8 372.4 L236.1 369.3 L237.4 372.4 L238.6 385.1 L240.2 405.5 L241.7 423.3 L243.2 432.2 L244.5 433.4 L245.8 428.4 L247.3 415.6 L248.8 397.8 L250.3 380.0 L251.9 367.3 L253.4 360.9 L254.7 360.2 L255.9 367.3 L257.2 385.1 L258.5 408.0 L259.8 423.3 L261.0 426.3 L262.6 423.3 L264.1 420.7 L265.6 418.2 L267.1 420.7 L268.7 416.9 L270.2 413.1 L271.7 410.5 L273.2 409.3 L274.8 410.5 L276.3 413.6 L277.8 415.6 L279.4 417.7 L280.9 413.1 L282.4 400.4 L283.9 385.1 L285.5 373.7 L287.0 371.1 L288.3 367.3 L289.5 358.4 L290.8 352.5 L292.1 351.5 L293.4 354.6 L294.6 362.2 L295.6 368.6 L296.7 364.7 L297.9 354.6 L299.2 348.2 L300.4 346.9 L301.7 347.4 L303.0 351.5 L304.3 358.4 L305.5 372.4 L306.6 382.6 L307.6 391.7" fill="none" stroke="#ff7f27" stroke-width="1.3" stroke-linejoin="round" stroke-linecap="round" />
<path d="M324.6 411.1 L325.4 402.9 L325.9 387.6 L327.2 372.4 L328.4 357.1 L329.7 348.2 L331.0 345.7 L332.3 348.2 L333.5 352.0 L334.8 354.6 L336.1 358.4 L337.1 372.4 L337.9 390.2 L338.6 407.0" fill="none" stroke="#ff7f27" stroke-width="1.3" stroke-linejoin="round" stroke-linecap="round" />
<path d="M348.8 419.7 L350.1 410.5 L351.3 401.9 L352.6 393.2 L353.9 384.1 L355.2 374.9 L356.4 365.3 L358.0 357.1 L359.5 344.4 L361.0 336.2 L362.3 334.2 L363.6 340.6 L364.8 346.9 L366.1 352.0" fill="none" stroke="#ff7f27" stroke-width="1.3" stroke-linejoin="round" stroke-linecap="round" />
<path d="M384.7 390.2 L385.9 385.1 L387.5 377.5 L389.0 371.1 L390.5 364.7 L392.1 354.6 L393.6 346.9 L395.1 345.7 L396.6 346.9 L398.2 339.3 L399.7 334.2 L401.2 321.5 L402.7 306.2 L404.3 296.0 L405.8 291.5 L407.1 293.0 L408.3 298.6 L409.4 311.3 L410.4 331.7" fill="none" stroke="#ff7f27" stroke-width="1.3" stroke-linejoin="round" stroke-linecap="round" />
<path d="M108.2 368.0 L110.0 392.1 L111.8 417.1 L113.0 412.5" fill="none" stroke="#ff7f27" stroke-width="1.5" stroke-linejoin="round" stroke-linecap="round" />
<path d="M130.1 378.1 L132.1 397.2 L134.1 408.7 L136.2 409.4 L137.7 402.3" fill="none" stroke="#ff7f27" stroke-width="1.5" stroke-linejoin="round" stroke-linecap="round" />
<path d="M144.8 394.7 L146.9 409.9 L148.9 420.1 L152.0 425.7 L155.0 429.8 L156.5 430.3 L157.8 422.7" fill="none" stroke="#ff7f27" stroke-width="1.5" stroke-linejoin="round" stroke-linecap="round" />
<path d="M433.1 375.8 L438.2 388.5 L450.9 408.9 L467.4 424.1 L475.1 442.0 L486.5 456.0 L495.4 463.6" fill="none" stroke="#0070d0" stroke-width="1.9" stroke-linejoin="round" stroke-linecap="round" />
<path d="M433.1 394.9 L438.2 405.1 L444.5 421.6 L449.6 434.3 L467.4 454.7 L476.3 472.5 L481.4 487.8 L483.5 508.1 L485.2 527.2 L487.8 531.0 L490.3 523.4 L492.9 508.1 L495.4 492.8" fill="none" stroke="#00b050" stroke-width="1.8" stroke-linejoin="round" stroke-linecap="round" />
<path d="M166.2 416.3 L167.7 435.4 L169.3 441.8" fill="none" stroke="#ff7f27" stroke-width="1.5" stroke-linejoin="round" stroke-linecap="round" />
<path d="M170.0 441.8 L171.5 435.4 L173.1 417.6" fill="none" stroke="#ff7f27" stroke-width="1.5" stroke-linejoin="round" stroke-linecap="round" />
<path d="M205.6 369.2 L207.2 397.2 L208.7 425.2 L209.9 441.8 L211.2 436.7 L212.5 432.8 L214.0 435.4 L215.8 439.2 L217.1 434.1" fill="none" stroke="#ff7f27" stroke-width="1.5" stroke-linejoin="round" stroke-linecap="round" />
<path d="M239.7 407.4 L241.5 427.8 L243.0 434.9 L244.3 434.9 L245.6 429.0" fill="none" stroke="#ff7f27" stroke-width="1.5" stroke-linejoin="round" stroke-linecap="round" />
<path d="M256.8 387.0 L258.3 412.5 L259.6 428.3 L260.8 428.3" fill="none" stroke="#ff7f27" stroke-width="1.5" stroke-linejoin="round" stroke-linecap="round" />
<path d="M305.1 374.3 L307.1 393.7 L308.4 416.6 L310.9 419.1 L312.7 426.7 L314.8 424.2 L316.5 422.2 L318.6 424.7 L319.8 422.9 L321.6 417.8" fill="none" stroke="#ff7f27" stroke-width="1.5" stroke-linejoin="round" stroke-linecap="round" />
<path d="M337.2 376.9 L338.2 408.9 L339.4 429.3 L341.2 435.9 L342.7 439.5 L344.5 436.7 L346.1 431.8 L347.8 422.7" fill="none" stroke="#ff7f27" stroke-width="1.5" stroke-linejoin="round" stroke-linecap="round" />
<path d="M363.1 341.2 L364.6 361.6 L366.7 369.2 L380.9 397.2 L384.0 396.0 L386.0 385.8" fill="none" stroke="#ff7f27" stroke-width="1.5" stroke-linejoin="round" stroke-linecap="round" />
<path d="M409.9 333.6 L410.2 383.4 L412.2 405.1 L415.3 419.6 L417.8 407.6 L419.8 400.7 L422.9 407.1 L426.7 413.5 L429.3 414.7 L431.0 433.1 L433.1 453.4 L435.6 463.1 L439.4 473.3 L442.0 483.4 L445.8 488.3 L448.3 487.0 L450.9 493.4 L454.7 489.5 L462.3 479.4 L467.4 483.2 L471.2 489.8 L473.8 517.0 L478.9 520.3 L484.0 531.0 L487.8 532.3 L490.3 525.9 L492.9 508.1 L495.4 490.3" fill="none" stroke="#ff7f27" stroke-width="1.5" stroke-linejoin="round" stroke-linecap="round" />
<path d="M63.4 538.7 L64.7 523.4 L66.5 503.0 L68.5 480.1 L70.5 459.8 L72.3 448.6 L73.6 447.0 L75.1 450.1 L76.6 453.7 L78.2 449.6 L79.7 448.6 L81.2 451.1 L82.5 453.7 L84.0 447.6 L85.8 436.9 L87.3 426.7 L88.6 422.6 L89.9 422.6 L91.1 424.7 L92.4 425.7 L93.7 416.5 L95.2 398.7 L97.0 373.3 L98.8 350.4 L100.3 335.6 L101.6 326.5 L102.8 320.9 L104.1 321.9 L105.4 328.0 L106.7 343.8 L108.2 366.7 L109.7 387.0 L111.2 402.3 L112.5 409.4 L113.8 404.4 L115.1 396.0 L116.3 392.1 L117.6 391.6 L118.9 395.2 L119.9 396.7 L120.9 389.6 L122.2 371.8 L123.5 354.0 L124.7 345.8 L126.0 345.3 L127.3 348.9 L128.5 359.1 L130.1 376.9 L131.6 389.6 L133.1 398.5 L134.7 402.3 L136.2 403.3 L137.7 401.0 L139.0 392.1 L140.3 380.7 L141.5 376.4 L142.8 378.1 L144.1 385.8 L145.6 398.5 L147.4 408.7 L149.4 415.0 L152.0 420.1 L154.5 424.7 L156.3 426.2 L157.6 421.4 L158.8 407.4 L160.1 387.0 L161.4 376.4 L162.6 374.3 L163.9 378.1 L165.2 392.1 L166.5 415.0 L167.7 431.6 L169.0 439.2 L170.0 437.9 L172.0 427.8 L173.6 412.5 L175.1 397.2 L176.4 393.9 L177.6 396.0 L179.2 401.0 L180.7 402.3 L182.0 392.1 L183.5 371.8 L185.3 351.4 L187.3 338.7 L188.8 332.3 L190.4 331.1 L191.9 327.3 L193.4 318.3 L194.9 310.7 L196.5 300.5 L198.0 287.8 L199.0 280.2 L200.0 278.1 L201.0 282.7 L202.1 295.4 L203.1 315.8 L204.4 341.2 L205.6 366.7 L206.9 392.1 L208.2 415.0 L209.4 430.3 L210.7 434.1 L212.0 430.3 L213.3 429.8 L214.5 434.1 L215.8 436.7 L217.1 432.8 L218.3 420.1 L219.9 402.3 L221.4 384.5 L222.9 373.1 L224.5 369.7 L226.0 371.8 L227.5 375.6 L229.0 379.4 L230.6 382.0 L232.1 383.2 L233.1 379.4 L234.4 371.8 L235.6 368.7 L236.9 371.8 L238.2 384.5 L239.7 404.9 L241.2 422.7 L242.8 431.6 L244.0 432.8 L245.3 427.8 L246.8 415.0 L248.4 397.2 L249.9 379.4 L251.4 366.7 L253.0 360.3 L254.2 359.6 L255.5 366.7 L256.8 384.5 L258.0 407.4 L259.3 422.7 L260.6 425.7 L262.1 422.7 L263.6 420.1 L265.2 417.6 L266.7 420.1 L268.2 416.3 L269.7 412.5 L271.3 409.9 L272.8 408.7 L274.3 409.9 L275.9 413.0 L277.4 415.0 L278.9 417.1 L280.4 412.5 L282.0 399.8 L283.5 384.5 L285.0 373.1 L286.5 370.5 L287.8 366.7 L289.1 357.8 L290.4 351.9 L291.6 350.9 L292.9 354.0 L294.2 361.6 L295.2 368.0 L296.2 364.1 L297.5 354.0 L298.8 347.6 L300.0 346.3 L301.3 346.8 L302.5 350.9 L303.8 357.8 L305.1 371.8 L306.1 382.0 L307.1 391.1 L308.7 397.7 L310.2 403.8 L312.7 409.4 L315.3 415.0 L318.3 421.4 L319.8 420.1 L321.1 417.8 L322.9 414.0 L324.2 410.5 L324.9 402.3 L325.4 387.0 L326.7 371.8 L328.0 356.5 L329.3 347.6 L330.5 345.1 L331.8 347.6 L333.1 351.4 L334.4 354.0 L335.6 357.8 L336.6 371.8 L337.4 389.6 L338.2 406.4 L340.7 414.5 L343.3 421.9 L345.3 428.0 L346.8 424.2 L348.3 419.1 L349.6 409.9 L350.9 401.3 L352.2 392.6 L353.4 383.5 L354.7 374.3 L356.0 364.7 L357.5 356.5 L359.0 343.8 L360.6 335.6 L361.8 333.6 L363.1 340.0 L364.4 346.3 L365.6 351.4 L367.2 356.5 L368.7 361.6 L370.7 368.0 L372.8 374.3 L374.8 379.4 L376.8 384.0 L378.9 387.6 L380.9 390.1 L382.7 391.1 L384.2 389.6 L385.5 384.5 L387.0 376.9 L388.5 370.5 L390.1 364.1 L391.6 354.0 L393.1 346.3 L394.7 345.1 L396.2 346.3 L397.7 338.7 L399.2 333.6 L400.8 320.9 L402.3 305.6 L403.8 295.4 L405.3 290.9 L406.6 292.4 L407.9 298.0 L408.9 310.7 L409.9 331.1 L410.2 380.9 L412.2 403.8 L415.3 419.1 L417.8 406.3 L419.8 400.0 L422.9 406.3 L426.7 412.7 L429.3 414.0 L431.0 431.8 L433.1 452.1 L435.6 462.3 L439.4 472.5 L442.0 482.7 L445.8 487.8 L448.3 486.5 L450.9 492.8 L454.7 489.0 L462.3 478.9 L467.4 482.7 L471.2 489.0 L474.3 503.0 L478.9 510.7 L482.7 523.4 L485.2 532.3 L488.5 532.3 L491.1 513.2 L492.9 495.4 L495.4 485.2" fill="none" stroke="#7f27c0" stroke-width="1.3" stroke-linejoin="round" stroke-linecap="round" />
<path d="M45.8 539.0 L51.7 539.0 L52.5 534.7 L53.1 530.5 L53.5 529.5 L53.9 530.5 L54.5 534.7 L55.3 539.0 L73.8 539.0 L74.4 532.6 L74.8 526.1 L75.1 524.7 L75.4 526.1 L75.8 532.6 L76.4 539.0 L103.2 539.0 L105.1 497.9 L106.5 456.7 L107.4 447.6 L108.3 456.7 L109.7 497.9 L111.6 539.0 L126.3 539.0 L127.8 513.6 L128.9 488.1 L129.6 482.5 L130.3 488.1 L131.4 513.6 L132.9 539.0 L141.1 539.0 L142.4 515.3 L143.4 491.6 L144.1 486.3 L144.8 491.6 L145.8 515.3 L147.1 539.0 L151.5 539.0 L151.9 536.3 L152.3 533.6 L152.5 533.0 L152.7 533.6 L153.1 536.3 L153.5 539.0 L161.4 539.0 L162.9 501.8 L164.0 464.6 L164.7 456.3 L165.4 464.6 L166.5 501.8 L168.0 539.0 L226.3 539.0 L226.8 535.2 L227.1 531.4 L227.3 530.5 L227.5 531.4 L227.9 535.2 L228.3 539.0 L235.2 539.0 L236.5 497.1 L237.5 455.3 L238.2 446.0 L238.9 455.3 L239.8 497.1 L241.2 539.0 L241.2 539.0 L241.2 530.9 L241.2 522.8 L241.2 521.0 L241.2 522.8 L241.2 530.9 L241.5 539.0 L253.0 539.0 L254.6 497.6 L255.7 456.2 L256.5 447.0 L257.3 456.2 L258.4 497.6 L260.0 539.0 L269.7 539.0 L270.2 530.0 L270.6 521.0 L270.8 519.0 L271.0 521.0 L271.4 530.0 L271.9 539.0 L274.6 539.0 L275.1 534.0 L275.4 529.1 L275.6 528.0 L275.8 529.1 L276.2 534.0 L276.6 539.0 L286.5 539.0 L287.0 531.2 L287.4 523.3 L287.6 521.6 L287.8 523.3 L288.2 531.2 L288.7 539.0 L292.9 539.0 L293.9 509.3 L294.7 479.6 L295.2 473.0 L295.7 479.6 L296.5 509.3 L297.5 539.0 L302.9 539.0 L304.4 508.6 L305.6 478.2 L306.3 471.5 L307.0 478.2 L308.2 508.6 L309.7 539.0 L310.9 539.0 L311.4 533.5 L311.8 527.9 L312.0 526.7 L312.2 527.9 L312.6 533.5 L313.1 539.0 L334.4 539.0 L335.9 502.3 L337.0 465.6 L337.7 457.5 L338.4 465.6 L339.5 502.3 L341.0 539.0 L361.3 539.0 L362.5 525.0 L363.3 511.1 L363.9 508.0 L364.5 511.1 L365.3 525.0 L366.5 539.0 L369.3 539.0 L370.1 526.6 L370.6 514.2 L371.0 511.4 L371.4 514.2 L371.9 526.6 L372.7 539.0 L406.7 539.0 L408.3 483.4 L409.4 427.9 L410.2 415.5 L411.0 427.9 L412.1 483.4 L413.7 539.0 L428.2 539.0 L429.7 521.2 L430.8 503.4 L431.5 499.5 L432.2 503.4 L433.3 521.2 L434.8 539.0 L457.5 539.0 L457.9 535.9 L458.3 532.7 L458.5 532.0 L458.7 532.7 L459.1 535.9 L459.5 539.0 L472.0 539.0 L472.7 531.1 L473.2 523.2 L473.6 521.5 L474.0 523.2 L474.5 531.1 L475.2 539.0 L495.0 539.0" fill="none" stroke="#ff0000" stroke-width="1.3" stroke-linejoin="round" stroke-linecap="round" />
<path d="M201.5 539.0 L202.3 500.0 L203.0 440.0 L203.4 422.5 L203.9 440.0 L204.8 480.0 L205.7 487.0 L206.6 470.0 L207.5 454.0 L208.4 462.0 L209.5 500.0 L210.5 530.0 L211.4 539.0" fill="none" stroke="#ff0000" stroke-width="1.3" stroke-linejoin="round" stroke-linecap="round" />
<path d="M408.1 480.0 L408.3 468.0 L408.7 458.0" fill="none" stroke="#ff0000" stroke-width="1.4" stroke-linejoin="round" stroke-linecap="round" />
<path d="M412.5 512.0 L412.8 522.0 L413.4 534.0" fill="none" stroke="#ff0000" stroke-width="1.4" stroke-linejoin="round" stroke-linecap="round" />
<path d="M475.0 517.0 L477.6 517.0 L477.6 519.6 L475.0 519.6 L475.0 517.0 L477.6 519.6" fill="none" stroke="#ff7f27" stroke-width="1.2" stroke-linejoin="round" stroke-linecap="round" />
<path d="M45.8 539.0 L51.9 539.0 L52.6 535.2 L53.1 531.4 L53.5 530.5 L53.9 531.4 L54.4 535.2 L55.1 539.0 L103.4 539.0 L105.2 498.7 L106.5 458.4 L107.4 449.5 L108.3 458.4 L109.6 498.7 L111.4 539.0 L126.4 539.0 L127.8 514.0 L128.9 489.1 L129.6 483.5 L130.3 489.1 L131.4 514.0 L132.8 539.0 L141.2 539.0 L142.5 515.8 L143.5 492.6 L144.1 487.5 L144.7 492.6 L145.7 515.8 L147.0 539.0 L161.5 539.0 L162.9 502.3 L164.0 465.6 L164.7 457.5 L165.4 465.6 L166.5 502.3 L167.9 539.0 L235.3 539.0 L236.6 497.8 L237.6 456.6 L238.2 447.5 L238.8 456.6 L239.8 497.8 L241.1 539.0 L253.1 539.0 L254.6 498.2 L255.8 457.4 L256.5 448.3 L257.2 457.4 L258.4 498.2 L259.9 539.0 L293.0 539.0 L294.0 509.8 L294.7 480.5 L295.2 474.0 L295.7 480.5 L296.4 509.8 L297.4 539.0 L303.0 539.0 L304.5 509.3 L305.6 479.6 L306.3 473.0 L307.0 479.6 L308.1 509.3 L309.6 539.0 L334.5 539.0 L335.9 503.0 L337.0 467.0 L337.7 459.0 L338.4 467.0 L339.5 503.0 L340.9 539.0 L361.4 539.0 L362.5 525.5 L363.3 512.0 L363.9 509.0 L364.4 512.0 L365.3 525.5 L366.4 539.0 L406.6 539.0 L408.2 485.0 L409.4 431.0 L410.2 419.0 L411.0 431.0 L412.2 485.0 L413.8 539.0 L428.3 539.0 L429.7 521.7 L430.8 504.4 L431.5 500.5 L432.2 504.4 L433.3 521.7 L434.7 539.0 L438.7 539.0 L439.4 531.1 L439.9 523.2 L440.2 521.5 L440.5 523.2 L441.0 531.1 L441.7 539.0 L442.3 539.0 L443.0 530.9 L443.5 522.8 L443.8 521.0 L444.1 522.8 L444.6 530.9 L445.3 539.0 L446.9 539.0 L447.5 533.6 L448.0 528.2 L448.3 527.0 L448.6 528.2 L449.1 533.6 L449.7 539.0 L481.1 539.0 L481.8 533.6 L482.3 528.2 L482.7 527.0 L483.1 528.2 L483.6 533.6 L484.3 539.0 L486.6 539.0 L487.1 536.3 L487.5 533.6 L487.8 533.0 L488.1 533.6 L488.5 536.3 L489.0 539.0 L495.0 539.0" fill="none" stroke="#7f7f7f" stroke-width="1.1" stroke-linejoin="round" stroke-linecap="round" />
<path d="M201.3 539.0 L202.2 500.0 L203.0 442.0 L203.5 425.0 L204.0 442.0 L204.9 480.0 L205.7 486.0 L206.6 470.0 L207.5 455.0 L208.4 464.0 L209.3 500.0 L210.2 530.0 L211.0 539.0" fill="none" stroke="#7f7f7f" stroke-width="1.1" stroke-linejoin="round" stroke-linecap="round" />
<path d="M463.6 539.0 L466.0 534.0 L469.0 527.0 L472.0 522.0 L473.8 520.3 L475.0 526.0 L476.5 534.0 L477.6 539.0" fill="none" stroke="#7f7f7f" stroke-width="1.1" stroke-linejoin="round" stroke-linecap="round" />
</g>
<line x1="200.00" y1="276.00" x2="200.00" y2="539.00" stroke="#000" stroke-width="1.5" stroke-dasharray="4.2 2.6"/>
<line x1="217.60" y1="276.00" x2="217.60" y2="539.00" stroke="#000" stroke-width="1.5" stroke-dasharray="4.2 2.6"/>
<line x1="495.00" y1="274.40" x2="495.00" y2="539.60" stroke="#ff0000" stroke-width="1.45" />
<line x1="59.50" y1="826.00" x2="63.10" y2="826.00" stroke="#2b2b2b" stroke-width="1.0" />
<text x="48.80" y="830.10" font-size="12.5" text-anchor="end" fill="#2b2b2b" >0</text>
<line x1="59.50" y1="820.86" x2="61.70" y2="820.86" stroke="#2b2b2b" stroke-width="1.0" />
<line x1="59.50" y1="815.71" x2="61.70" y2="815.71" stroke="#2b2b2b" stroke-width="1.0" />
<line x1="59.50" y1="810.57" x2="61.70" y2="810.57" stroke="#2b2b2b" stroke-width="1.0" />
<line x1="59.50" y1="805.42" x2="61.70" y2="805.42" stroke="#2b2b2b" stroke-width="1.0" />
<line x1="59.50" y1="800.28" x2="63.10" y2="800.28" stroke="#2b2b2b" stroke-width="1.0" />
<text x="48.80" y="804.38" font-size="12.5" text-anchor="end" fill="#2b2b2b" >10</text>
<line x1="59.50" y1="795.13" x2="61.70" y2="795.13" stroke="#2b2b2b" stroke-width="1.0" />
<line x1="59.50" y1="789.99" x2="61.70" y2="789.99" stroke="#2b2b2b" stroke-width="1.0" />
<line x1="59.50" y1="784.84" x2="61.70" y2="784.84" stroke="#2b2b2b" stroke-width="1.0" />
<line x1="59.50" y1="779.70" x2="61.70" y2="779.70" stroke="#2b2b2b" stroke-width="1.0" />
<line x1="59.50" y1="774.56" x2="63.10" y2="774.56" stroke="#2b2b2b" stroke-width="1.0" />
<text x="48.80" y="778.66" font-size="12.5" text-anchor="end" fill="#2b2b2b" >20</text>
<line x1="59.50" y1="769.41" x2="61.70" y2="769.41" stroke="#2b2b2b" stroke-width="1.0" />
<line x1="59.50" y1="764.27" x2="61.70" y2="764.27" stroke="#2b2b2b" stroke-width="1.0" />
<line x1="59.50" y1="759.12" x2="61.70" y2="759.12" stroke="#2b2b2b" stroke-width="1.0" />
<line x1="59.50" y1="753.98" x2="61.70" y2="753.98" stroke="#2b2b2b" stroke-width="1.0" />
<line x1="59.50" y1="748.83" x2="63.10" y2="748.83" stroke="#2b2b2b" stroke-width="1.0" />
<text x="48.80" y="752.93" font-size="12.5" text-anchor="end" fill="#2b2b2b" >30</text>
<line x1="59.50" y1="743.69" x2="61.70" y2="743.69" stroke="#2b2b2b" stroke-width="1.0" />
<line x1="59.50" y1="738.54" x2="61.70" y2="738.54" stroke="#2b2b2b" stroke-width="1.0" />
<line x1="59.50" y1="733.40" x2="61.70" y2="733.40" stroke="#2b2b2b" stroke-width="1.0" />
<line x1="59.50" y1="728.26" x2="61.70" y2="728.26" stroke="#2b2b2b" stroke-width="1.0" />
<line x1="59.50" y1="723.11" x2="63.10" y2="723.11" stroke="#2b2b2b" stroke-width="1.0" />
<text x="48.80" y="727.21" font-size="12.5" text-anchor="end" fill="#2b2b2b" >40</text>
<line x1="59.50" y1="717.97" x2="61.70" y2="717.97" stroke="#2b2b2b" stroke-width="1.0" />
<line x1="59.50" y1="712.82" x2="61.70" y2="712.82" stroke="#2b2b2b" stroke-width="1.0" />
<line x1="59.50" y1="707.68" x2="61.70" y2="707.68" stroke="#2b2b2b" stroke-width="1.0" />
<line x1="59.50" y1="702.53" x2="61.70" y2="702.53" stroke="#2b2b2b" stroke-width="1.0" />
<line x1="59.50" y1="697.39" x2="63.10" y2="697.39" stroke="#2b2b2b" stroke-width="1.0" />
<text x="48.80" y="701.49" font-size="12.5" text-anchor="end" fill="#2b2b2b" >50</text>
<line x1="59.50" y1="692.24" x2="61.70" y2="692.24" stroke="#2b2b2b" stroke-width="1.0" />
<line x1="59.50" y1="687.10" x2="61.70" y2="687.10" stroke="#2b2b2b" stroke-width="1.0" />
<line x1="59.50" y1="681.96" x2="61.70" y2="681.96" stroke="#2b2b2b" stroke-width="1.0" />
<line x1="59.50" y1="676.81" x2="61.70" y2="676.81" stroke="#2b2b2b" stroke-width="1.0" />
<line x1="59.50" y1="671.67" x2="63.10" y2="671.67" stroke="#2b2b2b" stroke-width="1.0" />
<text x="48.80" y="675.77" font-size="12.5" text-anchor="end" fill="#2b2b2b" >60</text>
<line x1="59.50" y1="666.52" x2="61.70" y2="666.52" stroke="#2b2b2b" stroke-width="1.0" />
<line x1="59.50" y1="661.38" x2="61.70" y2="661.38" stroke="#2b2b2b" stroke-width="1.0" />
<line x1="59.50" y1="656.23" x2="61.70" y2="656.23" stroke="#2b2b2b" stroke-width="1.0" />
<line x1="59.50" y1="651.09" x2="61.70" y2="651.09" stroke="#2b2b2b" stroke-width="1.0" />
<line x1="59.50" y1="645.94" x2="63.10" y2="645.94" stroke="#2b2b2b" stroke-width="1.0" />
<text x="48.80" y="650.04" font-size="12.5" text-anchor="end" fill="#2b2b2b" >70</text>
<line x1="59.50" y1="640.80" x2="61.70" y2="640.80" stroke="#2b2b2b" stroke-width="1.0" />
<line x1="59.50" y1="635.66" x2="61.70" y2="635.66" stroke="#2b2b2b" stroke-width="1.0" />
<line x1="59.50" y1="630.51" x2="61.70" y2="630.51" stroke="#2b2b2b" stroke-width="1.0" />
<line x1="59.50" y1="625.37" x2="61.70" y2="625.37" stroke="#2b2b2b" stroke-width="1.0" />
<line x1="59.50" y1="620.22" x2="63.10" y2="620.22" stroke="#2b2b2b" stroke-width="1.0" />
<text x="48.80" y="624.32" font-size="12.5" text-anchor="end" fill="#2b2b2b" >80</text>
<line x1="59.50" y1="615.08" x2="61.70" y2="615.08" stroke="#2b2b2b" stroke-width="1.0" />
<line x1="59.50" y1="609.93" x2="61.70" y2="609.93" stroke="#2b2b2b" stroke-width="1.0" />
<line x1="59.50" y1="604.79" x2="61.70" y2="604.79" stroke="#2b2b2b" stroke-width="1.0" />
<line x1="59.50" y1="599.64" x2="61.70" y2="599.64" stroke="#2b2b2b" stroke-width="1.0" />
<line x1="59.50" y1="594.50" x2="63.10" y2="594.50" stroke="#2b2b2b" stroke-width="1.0" />
<text x="48.80" y="598.60" font-size="12.5" text-anchor="end" fill="#2b2b2b" >90</text>
<line x1="472.50" y1="826.00" x2="477.50" y2="826.00" stroke="#ff0000" stroke-width="1.2" />
<text x="488.40" y="830.10" font-size="12.5" text-anchor="start" fill="#ff0000" >0</text>
<line x1="474.30" y1="819.39" x2="477.50" y2="819.39" stroke="#ff0000" stroke-width="1.2" />
<line x1="474.30" y1="812.77" x2="477.50" y2="812.77" stroke="#ff0000" stroke-width="1.2" />
<line x1="474.30" y1="806.16" x2="477.50" y2="806.16" stroke="#ff0000" stroke-width="1.2" />
<line x1="474.30" y1="799.54" x2="477.50" y2="799.54" stroke="#ff0000" stroke-width="1.2" />
<line x1="472.50" y1="792.93" x2="477.50" y2="792.93" stroke="#ff0000" stroke-width="1.2" />
<text x="488.40" y="797.03" font-size="12.5" text-anchor="start" fill="#ff0000" >10</text>
<line x1="474.30" y1="786.31" x2="477.50" y2="786.31" stroke="#ff0000" stroke-width="1.2" />
<line x1="474.30" y1="779.70" x2="477.50" y2="779.70" stroke="#ff0000" stroke-width="1.2" />
<line x1="474.30" y1="773.09" x2="477.50" y2="773.09" stroke="#ff0000" stroke-width="1.2" />
<line x1="474.30" y1="766.47" x2="477.50" y2="766.47" stroke="#ff0000" stroke-width="1.2" />
<line x1="472.50" y1="759.86" x2="477.50" y2="759.86" stroke="#ff0000" stroke-width="1.2" />
<text x="488.40" y="763.96" font-size="12.5" text-anchor="start" fill="#ff0000" >20</text>
<line x1="474.30" y1="753.24" x2="477.50" y2="753.24" stroke="#ff0000" stroke-width="1.2" />
<line x1="474.30" y1="746.63" x2="477.50" y2="746.63" stroke="#ff0000" stroke-width="1.2" />
<line x1="474.30" y1="740.01" x2="477.50" y2="740.01" stroke="#ff0000" stroke-width="1.2" />
<line x1="474.30" y1="733.40" x2="477.50" y2="733.40" stroke="#ff0000" stroke-width="1.2" />
<line x1="472.50" y1="726.79" x2="477.50" y2="726.79" stroke="#ff0000" stroke-width="1.2" />
<text x="488.40" y="730.89" font-size="12.5" text-anchor="start" fill="#ff0000" >30</text>
<line x1="474.30" y1="720.17" x2="477.50" y2="720.17" stroke="#ff0000" stroke-width="1.2" />
<line x1="474.30" y1="713.56" x2="477.50" y2="713.56" stroke="#ff0000" stroke-width="1.2" />
<line x1="474.30" y1="706.94" x2="477.50" y2="706.94" stroke="#ff0000" stroke-width="1.2" />
<line x1="474.30" y1="700.33" x2="477.50" y2="700.33" stroke="#ff0000" stroke-width="1.2" />
<line x1="472.50" y1="693.71" x2="477.50" y2="693.71" stroke="#ff0000" stroke-width="1.2" />
<text x="488.40" y="697.81" font-size="12.5" text-anchor="start" fill="#ff0000" >40</text>
<line x1="474.30" y1="687.10" x2="477.50" y2="687.10" stroke="#ff0000" stroke-width="1.2" />
<line x1="474.30" y1="680.49" x2="477.50" y2="680.49" stroke="#ff0000" stroke-width="1.2" />
<line x1="474.30" y1="673.87" x2="477.50" y2="673.87" stroke="#ff0000" stroke-width="1.2" />
<line x1="474.30" y1="667.26" x2="477.50" y2="667.26" stroke="#ff0000" stroke-width="1.2" />
<line x1="472.50" y1="660.64" x2="477.50" y2="660.64" stroke="#ff0000" stroke-width="1.2" />
<text x="488.40" y="664.74" font-size="12.5" text-anchor="start" fill="#ff0000" >50</text>
<line x1="474.30" y1="654.03" x2="477.50" y2="654.03" stroke="#ff0000" stroke-width="1.2" />
<line x1="474.30" y1="647.41" x2="477.50" y2="647.41" stroke="#ff0000" stroke-width="1.2" />
<line x1="474.30" y1="640.80" x2="477.50" y2="640.80" stroke="#ff0000" stroke-width="1.2" />
<line x1="474.30" y1="634.19" x2="477.50" y2="634.19" stroke="#ff0000" stroke-width="1.2" />
<line x1="472.50" y1="627.57" x2="477.50" y2="627.57" stroke="#ff0000" stroke-width="1.2" />
<text x="488.40" y="631.67" font-size="12.5" text-anchor="start" fill="#ff0000" >60</text>
<line x1="474.30" y1="620.96" x2="477.50" y2="620.96" stroke="#ff0000" stroke-width="1.2" />
<line x1="474.30" y1="614.34" x2="477.50" y2="614.34" stroke="#ff0000" stroke-width="1.2" />
<line x1="474.30" y1="607.73" x2="477.50" y2="607.73" stroke="#ff0000" stroke-width="1.2" />
<line x1="474.30" y1="601.11" x2="477.50" y2="601.11" stroke="#ff0000" stroke-width="1.2" />
<line x1="472.50" y1="594.50" x2="477.50" y2="594.50" stroke="#ff0000" stroke-width="1.2" />
<text x="488.40" y="598.60" font-size="12.5" text-anchor="start" fill="#ff0000" >70</text>
<line x1="59.50" y1="826.00" x2="59.50" y2="823.40" stroke="#2b2b2b" stroke-width="1.0" />
<line x1="80.40" y1="826.00" x2="80.40" y2="823.40" stroke="#2b2b2b" stroke-width="1.0" />
<line x1="101.30" y1="826.00" x2="101.30" y2="823.40" stroke="#2b2b2b" stroke-width="1.0" />
<line x1="122.20" y1="826.00" x2="122.20" y2="823.40" stroke="#2b2b2b" stroke-width="1.0" />
<line x1="143.10" y1="826.00" x2="143.10" y2="823.40" stroke="#2b2b2b" stroke-width="1.0" />
<line x1="164.00" y1="826.00" x2="164.00" y2="823.40" stroke="#2b2b2b" stroke-width="1.0" />
<line x1="184.90" y1="826.00" x2="184.90" y2="823.40" stroke="#2b2b2b" stroke-width="1.0" />
<line x1="205.80" y1="826.00" x2="205.80" y2="823.40" stroke="#2b2b2b" stroke-width="1.0" />
<line x1="226.70" y1="826.00" x2="226.70" y2="823.40" stroke="#2b2b2b" stroke-width="1.0" />
<line x1="247.60" y1="826.00" x2="247.60" y2="823.40" stroke="#2b2b2b" stroke-width="1.0" />
<line x1="268.50" y1="826.00" x2="268.50" y2="823.40" stroke="#2b2b2b" stroke-width="1.0" />
<line x1="289.40" y1="826.00" x2="289.40" y2="823.40" stroke="#2b2b2b" stroke-width="1.0" />
<line x1="310.30" y1="826.00" x2="310.30" y2="823.40" stroke="#2b2b2b" stroke-width="1.0" />
<line x1="331.20" y1="826.00" x2="331.20" y2="823.40" stroke="#2b2b2b" stroke-width="1.0" />
<line x1="352.10" y1="826.00" x2="352.10" y2="823.40" stroke="#2b2b2b" stroke-width="1.0" />
<line x1="373.00" y1="826.00" x2="373.00" y2="823.40" stroke="#2b2b2b" stroke-width="1.0" />
<line x1="393.90" y1="826.00" x2="393.90" y2="823.40" stroke="#2b2b2b" stroke-width="1.0" />
<line x1="414.80" y1="826.00" x2="414.80" y2="823.40" stroke="#2b2b2b" stroke-width="1.0" />
<line x1="435.70" y1="826.00" x2="435.70" y2="823.40" stroke="#2b2b2b" stroke-width="1.0" />
<line x1="456.60" y1="826.00" x2="456.60" y2="823.40" stroke="#2b2b2b" stroke-width="1.0" />
<line x1="477.50" y1="826.00" x2="477.50" y2="823.40" stroke="#2b2b2b" stroke-width="1.0" />
<text x="59.50" y="845.20" font-size="12.5" text-anchor="middle" fill="#2b2b2b" >24</text>
<text x="164.00" y="845.20" font-size="12.5" text-anchor="middle" fill="#2b2b2b" >24.5</text>
<text x="268.50" y="845.20" font-size="12.5" text-anchor="middle" fill="#2b2b2b" >25</text>
<text x="373.00" y="845.20" font-size="12.5" text-anchor="middle" fill="#2b2b2b" >25.5</text>
<text x="477.50" y="845.20" font-size="12.5" text-anchor="middle" fill="#2b2b2b" >26</text>
<line x1="59.50" y1="594.00" x2="59.50" y2="826.60" stroke="#2b2b2b" stroke-width="1.3" />
<line x1="58.90" y1="594.50" x2="477.50" y2="594.50" stroke="#2b2b2b" stroke-width="1.3" />
<line x1="58.90" y1="826.00" x2="477.50" y2="826.00" stroke="#2b2b2b" stroke-width="1.3" />
<text x="30.40" y="710.25" font-size="12.1" text-anchor="middle" fill="#2b2b2b" transform="rotate(-90 30.40 710.25)" >Speed [km/h]</text>
<text x="516.30" y="710.25" font-size="12.1" text-anchor="middle" fill="#ff0000" transform="rotate(-90 516.30 710.25)" >Oil Pressure [bar]</text>
<text x="268.50" y="863.20" font-size="12.5" text-anchor="middle" fill="#2b2b2b" >Time [s]</text>
<g clip-path="url(#cpB)">
<clipPath id="cpB"><rect x="59.5" y="593.5" width="419.0" height="233.7"/></clipPath>
<path d="M60.1 612.4 L60.6 612.1 L61.3 611.7 L62.1 611.3 L63.0 610.8 L63.9 610.4 L64.8 609.8 L65.8 609.3 L66.9 608.7 L68.0 608.2 L69.0 607.8 L70.0 607.6 L71.1 607.5 L72.1 607.5 L73.1 607.5 L74.1 607.3 L74.9 607.0 L75.7 606.6 L76.4 606.1 L77.2 605.6 L77.9 605.3 L78.7 604.9 L79.5 604.6 L80.3 604.3 L81.0 604.1 L81.7 604.0 L82.3 604.0 L82.8 604.0 L83.3 604.2 L83.8 604.4 L84.3 604.8 L84.8 605.3 L85.3 606.1 L85.8 606.9 L86.3 607.5 L86.8 607.8 L87.3 607.7 L87.8 607.2 L88.2 606.6 L88.8 605.9 L89.4 605.3 L90.0 604.7 L90.8 604.1 L91.6 603.6 L92.4 603.1 L93.2 602.7 L94.0 602.5 L94.8 602.3 L95.5 602.3 L96.3 602.4 L97.0 602.7 L97.6 603.4 L98.1 604.5 L98.6 605.6 L99.0 606.7 L99.5 607.3 L100.0 607.5 L100.5 607.6 L101.1 607.4 L101.6 607.0 L102.1 606.5 L102.6 605.8 L103.0 604.9 L103.5 603.9 L104.0 602.9 L104.6 602.2 L105.3 601.7 L106.1 601.4 L106.9 601.2 L107.7 601.2 L108.4 601.5 L109.1 602.2 L109.7 603.3 L110.3 604.5 L110.9 605.7 L111.5 606.5 L112.0 607.1 L112.6 607.4 L113.1 607.6 L113.6 607.6 L114.0 607.3 L114.4 606.7 L114.8 605.7 L115.2 604.5 L115.6 603.5 L116.1 602.7 L116.7 602.3 L117.5 602.0 L118.3 601.9 L119.1 601.9 L119.9 602.2 L120.6 602.8 L121.3 603.7 L121.9 604.7 L122.6 605.7 L123.2 606.5 L123.8 607.3 L124.3 608.0 L124.8 608.6 L125.2 609.0 L125.7 609.1 L126.2 608.7 L126.7 607.9 L127.2 607.0 L127.7 606.0 L128.3 605.3 L128.9 604.7 L129.5 604.1 L130.1 603.6 L130.7 603.3 L131.3 603.2 L132.0 603.4 L132.6 603.7 L133.2 604.2 L133.8 604.9 L134.4 605.8 L134.9 607.0 L135.3 608.6 L135.6 610.3 L136.0 611.8 L136.4 612.9 L136.9 613.6 L137.4 614.1 L138.0 614.4 L138.5 614.4 L139.0 614.2 L139.4 613.5 L139.8 612.5 L140.2 611.2 L140.6 610.0 L141.0 609.1 L141.4 608.3 L141.7 607.5 L142.1 606.9 L142.4 606.5 L142.8 606.5 L143.1 607.1 L143.5 608.1 L143.8 609.4 L144.2 610.7 L144.6 611.6 L145.0 612.3 L145.5 612.9 L146.0 613.4 L146.5 613.8 L147.1 614.2 L147.7 614.5 L148.4 614.9 L149.0 615.2 L149.7 615.4 L150.4 615.4 L151.2 615.3 L152.0 614.8 L152.8 614.3 L153.5 614.1 L154.2 614.2 L154.8 614.8 L155.4 615.8 L155.9 616.9 L156.3 618.1 L156.8 619.3 L157.2 620.3 L157.6 621.4 L158.0 622.5 L158.4 623.5 L158.8 624.4 L159.4 625.0 L160.0 625.6 L160.6 626.1 L161.3 626.5 L161.9 626.9 L162.4 627.2 L162.9 627.4 L163.4 627.5 L163.9 627.8 L164.4 628.2 L164.9 628.8 L165.4 629.8 L165.9 630.7 L166.5 631.5 L167.0 632.0 L167.5 632.0 L168.0 631.7 L168.5 631.3 L169.0 630.9 L169.5 630.7 L170.0 630.8 L170.5 631.0 L170.9 631.3 L171.5 631.7 L172.0 632.0 L172.7 632.3 L173.5 632.6 L174.3 633.0 L175.1 633.4 L175.9 633.8 L176.6 634.3 L177.5 634.8 L178.2 635.4 L179.0 635.8 L179.7 635.8 L180.3 635.3 L180.8 634.5 L181.3 633.4 L181.7 632.5 L182.2 632.0 L182.7 631.9 L183.2 632.0 L183.8 632.3 L184.3 632.8 L184.8 633.3 L185.3 633.9 L185.8 634.7 L186.3 635.5 L186.8 636.4 L187.3 637.1 L187.8 637.7 L188.3 638.2 L188.8 638.6 L189.4 639.1 L190.0 639.4 L190.7 639.7 L191.5 639.8 L192.3 640.0 L193.1 640.2 L193.8 640.7 L194.4 641.6 L194.9 642.9 L195.4 644.2 L195.9 645.3 L196.4 645.8 L196.9 645.5 L197.4 644.5 L197.9 643.3 L198.4 642.3 L198.9 642.0 L199.4 642.5 L199.9 643.7 L200.3 645.1 L200.9 646.3 L201.5 647.1 L202.1 647.1 L202.9 646.7 L203.7 646.1 L204.5 645.7 L205.3 645.8 L206.1 646.6 L206.9 648.0 L207.6 649.5 L208.4 651.0 L209.1 652.2 L209.7 653.0 L210.2 653.8 L210.7 654.4 L211.1 654.7 L211.6 654.7 L212.1 654.1 L212.6 652.9 L213.2 651.6 L213.7 650.4 L214.2 649.6 L214.7 649.4 L215.2 649.5 L215.7 649.9 L216.2 650.4 L216.7 650.9 L217.2 651.6 L217.7 652.5 L218.2 653.4 L218.8 654.2 L219.3 654.7 L219.8 654.7 L220.2 654.3 L220.7 653.8 L221.2 653.4 L221.8 653.4 L222.5 653.9 L223.2 654.6 L224.0 655.5 L224.8 656.4 L225.6 657.3 L226.4 658.1 L227.2 659.1 L228.0 660.1 L228.8 660.8 L229.4 661.1 L230.0 660.7 L230.5 659.8 L230.9 658.7 L231.4 657.7 L232.0 657.3 L232.7 657.4 L233.4 657.8 L234.2 658.5 L235.0 659.2 L235.8 659.8 L236.6 660.3 L237.3 660.9 L238.1 661.4 L238.9 661.9 L239.6 662.3 L240.4 662.7 L241.1 662.9 L241.9 663.1 L242.7 663.3 L243.4 663.6 L244.2 664.1 L245.0 664.8 L245.8 665.5 L246.6 666.0 L247.3 666.2 L247.8 665.7 L248.3 664.7 L248.7 663.6 L249.2 662.7 L249.8 662.3 L250.5 662.6 L251.2 663.3 L252.0 664.3 L252.8 665.3 L253.6 666.2 L254.4 666.9 L255.1 667.7 L255.9 668.5 L256.7 669.3 L257.4 670.0 L258.2 670.6 L259.0 671.1 L259.7 671.6 L260.5 672.0 L261.2 672.5 L262.0 673.0 L262.8 673.5 L263.5 674.0 L264.3 674.6 L265.1 675.1 L265.8 675.6 L266.6 676.3 L267.4 676.9 L268.1 677.3 L268.9 677.6 L269.6 677.5 L270.4 677.1 L271.2 676.7 L271.9 676.3 L272.7 676.3 L273.5 676.8 L274.2 677.6 L275.0 678.6 L275.8 679.5 L276.5 680.2 L277.3 680.5 L278.0 680.8 L278.8 680.9 L279.6 681.1 L280.3 681.4 L281.1 681.9 L281.9 682.4 L282.6 683.0 L283.4 683.5 L284.1 684.0 L284.9 684.3 L285.7 684.5 L286.4 684.7 L287.2 684.9 L288.0 685.2 L288.7 685.6 L289.5 686.0 L290.3 686.4 L291.0 687.0 L291.8 687.8 L292.5 688.9 L293.3 690.3 L294.1 691.8 L294.8 693.1 L295.6 694.1 L296.4 694.7 L297.1 695.0 L297.9 695.2 L298.7 695.2 L299.4 695.4 L300.2 695.6 L300.9 695.8 L301.7 696.0 L302.5 696.3 L303.2 696.7 L304.0 697.3 L304.8 698.2 L305.5 699.0 L306.3 699.9 L307.0 700.5 L307.8 700.9 L308.6 701.2 L309.3 701.4 L310.1 701.6 L310.9 701.8 L311.6 702.0 L312.5 702.1 L313.2 702.3 L314.0 702.6 L314.7 703.1 L315.3 703.9 L315.8 705.0 L316.3 706.2 L316.7 707.3 L317.2 708.1 L317.7 708.7 L318.2 709.0 L318.8 709.2 L319.3 709.5 L320.0 709.8 L320.8 710.3 L321.6 710.7 L322.5 711.2 L323.5 711.8 L324.4 712.7 L325.2 714.0 L326.1 715.6 L327.0 717.3 L327.9 718.8 L328.7 720.0 L329.6 720.7 L330.5 721.2 L331.3 721.5 L332.2 721.5 L333.1 721.5 L334.0 721.1 L334.8 720.6 L335.7 719.9 L336.6 719.2 L337.5 718.5 L338.3 718.0 L339.2 717.4 L340.1 716.9 L340.9 716.5 L341.8 716.2 L342.7 716.2 L343.6 716.3 L344.4 716.5 L345.3 716.8 L346.2 717.1 L347.1 717.3 L347.9 717.6 L348.8 717.9 L349.7 718.2 L350.5 718.5 L351.4 718.8 L352.3 719.1 L353.2 719.3 L354.0 719.6 L354.9 720.0 L355.8 720.5 L356.7 721.0 L357.5 721.6 L358.4 722.2 L359.3 722.9 L360.1 723.8 L361.0 724.8 L361.9 725.8 L362.8 726.7 L363.6 727.3 L364.5 727.6 L365.5 727.7 L366.4 727.6 L367.2 727.5 L368.0 727.3 L368.7 726.9 L369.2 726.4 L369.7 725.9 L370.3 725.3 L370.9 724.9 L371.7 724.7 L372.5 724.6 L373.4 724.5 L374.3 724.4 L375.3 724.4 L376.3 724.3 L377.5 724.3 L378.7 724.3 L379.9 724.3 L381.1 724.4 L382.3 724.4 L383.5 724.5 L384.7 724.6 L385.8 724.7 L386.9 724.9 L387.9 725.3 L388.8 725.8 L389.6 726.3 L390.4 726.8 L391.3 727.3 L392.1 727.6 L393.0 727.9 L393.9 728.2 L394.8 728.5 L395.6 728.7 L396.5 729.0 L397.4 729.3 L398.3 729.6 L399.1 729.9 L400.0 730.2 L400.9 730.5 L401.7 730.8 L402.6 731.1 L403.5 731.3 L404.4 731.6 L405.2 732.0 L406.1 732.3 L407.0 732.6 L407.9 732.9 L408.7 733.1 L409.6 733.2 L410.4 733.2 L411.2 733.2 L412.1 733.2 L413.1 733.1 L414.2 733.0 L415.4 732.8 L416.6 732.6 L417.8 732.5 L418.9 732.5 L419.9 732.6 L420.8 732.8 L421.6 733.0 L422.4 733.3 L423.3 733.7 L424.1 734.1 L425.0 734.6 L425.9 735.1 L426.8 735.6 L427.6 736.0 L428.5 736.3 L429.4 736.4 L430.3 736.6 L431.1 736.6 L432.0 736.6 L432.9 736.4 L433.7 736.0 L434.6 735.7 L435.5 735.4 L436.4 735.4 L437.2 735.8 L438.1 736.5 L439.0 737.2 L439.9 737.9 L440.7 738.3 L441.6 738.4 L442.5 738.3 L443.3 738.1 L444.2 737.8 L445.1 737.5 L446.0 737.1 L446.8 736.6 L447.7 736.1 L448.6 735.7 L449.5 735.4 L450.3 735.4 L451.2 735.6 L452.1 735.8 L452.9 736.0 L453.8 736.0 L454.7 735.8 L455.6 735.5 L456.4 735.2 L457.3 734.8 L458.2 734.5 L459.1 734.3 L459.9 734.2 L460.8 734.0 L461.7 733.9 L462.5 733.7 L463.4 733.5 L464.3 733.3 L465.2 733.0 L466.0 732.8 L466.9 732.5 L467.7 732.2 L468.6 731.8 L469.4 731.4 L470.3 731.0 L471.3 730.8 L472.5 730.7 L474.0 730.6 L475.5 730.7 L476.8 730.7 L477.7 730.8" fill="none" stroke="#000000" stroke-width="1.5" stroke-linejoin="round" stroke-linecap="round" />
<path d="M60.1 605.6 L61.1 605.9 L62.1 605.7 L63.1 605.0 L64.1 604.3 L65.1 603.9 L66.1 604.0 L67.1 604.5 L68.1 604.9 L69.1 604.9 L70.1 604.5 L71.1 603.7 L72.1 602.9 L73.1 602.5 L74.1 602.6 L75.1 603.1 L76.1 603.5 L77.1 603.5 L78.1 603.1 L79.1 602.4 L80.1 601.8 L81.1 601.5 L82.1 601.6 L83.1 602.0 L84.1 602.5 L85.1 602.7 L86.1 602.5 L87.1 601.9 L88.1 601.3 L89.1 600.9 L90.1 600.9 L91.1 601.3 L92.1 601.8 L93.1 602.2 L94.1 602.3 L95.1 601.9 L96.1 601.4 L97.1 600.9 L98.1 600.7 L99.1 600.9 L100.1 601.4 L101.1 601.9 L102.1 602.3 L103.1 602.2 L104.1 601.9 L105.1 601.4 L106.1 600.9 L107.1 600.9 L108.1 601.2 L109.1 601.8 L110.1 602.4 L111.1 602.8 L112.1 602.8 L113.1 602.4 L114.1 601.9 L115.1 601.6 L116.1 601.6 L117.1 601.9 L118.1 602.5 L119.1 603.1 L120.1 603.5 L121.1 603.5 L122.1 603.1 L123.1 602.7 L124.1 602.3 L125.1 602.3 L126.1 602.6 L127.1 603.2 L128.1 603.9 L129.1 604.4 L130.1 604.6 L131.1 604.4 L132.1 604.1 L133.1 603.8 L134.1 603.7 L135.1 603.9 L136.1 604.4 L137.1 605.1 L138.1 605.7 L139.1 606.0 L140.1 606.1 L141.1 605.8 L142.1 605.5 L143.1 605.3 L144.1 605.3 L145.1 605.6 L146.1 606.1 L147.1 606.7 L148.1 607.3 L149.1 607.6 L150.1 607.6 L151.1 607.4 L152.1 607.0 L153.1 606.7 L154.1 606.6 L155.1 606.9 L156.1 607.4 L157.1 608.1 L158.1 608.9 L159.1 609.3 L160.1 609.5 L161.1 609.3 L162.1 609.0 L163.1 608.7 L164.1 608.7 L165.1 609.1 L166.1 609.8 L167.1 610.7 L168.1 611.6 L169.1 612.1 L170.1 612.3 L171.1 612.2 L172.1 612.0 L173.1 611.9 L174.1 611.9 L175.1 612.2 L176.1 612.8 L177.1 613.5 L178.1 614.3 L179.1 615.0 L180.1 615.5 L181.1 615.8 L182.1 615.9 L183.1 615.8 L184.1 615.7 L185.1 615.7 L186.1 616.0 L187.1 616.6 L188.1 617.4 L189.1 618.3 L190.1 619.2 L191.1 619.8 L192.1 620.2 L193.1 620.2 L194.1 620.1 L195.1 620.0 L196.1 620.0 L197.1 620.4 L198.1 621.0 L199.1 621.7 L200.1 622.6 L201.1 623.4 L202.1 623.9 L203.1 624.2 L204.1 624.2 L205.1 624.0 L206.1 623.8 L207.1 623.6 L208.1 623.7 L209.1 624.0 L210.1 624.6 L211.1 625.3 L212.1 626.0 L213.1 626.5 L214.1 626.9 L215.1 627.0 L216.1 627.0 L217.1 626.7 L218.1 626.5 L219.1 626.4 L220.1 626.6 L221.1 626.9 L222.1 627.5 L223.1 628.1 L224.1 628.7 L225.1 629.2 L226.1 629.5 L227.1 629.6 L228.1 629.5 L229.1 629.3 L230.1 629.1 L231.1 629.1 L232.1 629.3 L233.1 629.7 L234.1 630.3 L235.1 631.1 L236.1 631.8 L237.1 632.4 L238.1 632.7 L239.1 632.8 L240.1 632.7 L241.1 632.5 L242.1 632.2 L243.1 632.0 L244.1 632.0 L245.1 632.2 L246.1 632.7 L247.1 633.3 L248.1 633.9 L249.1 634.5 L250.1 634.9 L251.1 635.1 L252.1 635.1 L253.1 635.0 L254.1 634.7 L255.1 634.5 L256.1 634.5 L257.1 634.6 L258.1 635.0 L259.1 635.5 L260.1 636.2 L261.1 636.9 L262.1 637.5 L263.1 637.9 L264.1 638.1 L265.1 638.1 L266.1 638.0 L267.1 637.8 L268.1 637.5 L269.1 637.4 L270.1 637.5 L271.1 637.8 L272.1 638.2 L273.1 638.7 L274.1 639.3 L275.1 639.8 L276.1 640.2 L277.1 640.5 L278.1 640.5 L279.1 640.5 L280.1 640.3 L281.1 640.2 L282.1 640.1 L283.1 640.2 L284.1 640.5 L285.1 640.9 L286.1 641.5 L287.1 642.2 L288.1 642.8 L289.1 643.3 L290.1 643.6 L291.1 643.7 L292.1 643.7 L293.1 643.5 L294.1 643.3 L295.1 643.1 L296.1 643.0 L297.1 643.1 L298.1 643.4 L299.1 643.8 L300.1 644.4 L301.1 645.1 L302.1 645.7 L303.1 646.3 L304.1 646.7 L305.1 646.9 L306.1 647.0 L307.1 647.0 L308.1 646.9 L309.1 646.8 L310.1 646.8 L311.1 647.0 L312.1 647.4 L313.1 647.9 L314.1 648.6 L315.1 649.2 L316.1 649.9 L317.1 650.4 L318.1 650.8 L319.1 651.0 L320.1 651.0 L321.1 650.9 L322.1 650.7 L323.1 650.6 L324.1 650.6 L325.1 650.7 L326.1 651.0 L327.1 651.5 L328.1 652.1 L329.1 652.7 L330.1 653.3 L331.1 653.9 L332.1 654.3 L333.1 654.5 L334.1 654.6 L335.1 654.5 L336.1 654.4 L337.1 654.4 L338.1 654.4 L339.1 654.6 L340.1 654.9 L341.1 655.4 L342.1 656.1 L343.1 656.7 L344.1 657.3 L345.1 657.8 L346.1 658.2 L347.1 658.3 L348.1 658.3 L349.1 658.1 L350.1 657.9 L351.1 657.7 L352.1 657.7 L353.1 657.8 L354.1 658.0 L355.1 658.5 L356.1 659.0 L357.1 659.6 L358.1 660.2 L359.1 660.8 L360.1 661.1 L361.1 661.3 L362.1 661.3 L363.1 661.2 L364.1 661.1 L365.1 660.9 L366.1 660.9 L367.1 661.1 L368.1 661.4 L369.1 661.8 L370.1 662.4 L371.1 663.1 L372.1 663.7 L373.1 664.2 L374.1 664.6 L375.1 664.7 L376.1 664.7 L377.1 664.5 L378.1 664.3 L379.1 664.1 L380.1 663.9 L381.1 664.0 L382.1 664.1 L383.1 664.5 L384.1 664.9 L385.1 665.4 L386.1 665.8 L387.1 666.2 L388.1 666.3 L389.1 666.3 L390.1 666.2 L391.1 665.9 L392.1 665.6 L393.1 665.2 L394.1 665.0 L395.1 665.0 L396.1 665.1 L397.1 665.4 L398.1 665.8 L399.1 666.3 L400.1 666.7 L401.1 667.1 L402.1 667.3 L403.1 667.3 L404.1 667.2 L405.1 666.9 L406.1 666.6 L407.1 666.4 L408.1 666.2 L409.1 666.2 L410.1 666.3 L411.1 666.6 L412.1 667.0 L413.1 667.5 L414.1 667.8 L415.1 668.1 L416.1 668.2 L417.1 668.1 L418.1 667.9 L419.1 667.5 L420.1 667.0 L421.1 666.6 L422.1 666.3 L423.1 666.1 L424.1 666.2 L425.1 666.4 L426.1 666.8 L427.1 667.2 L428.1 667.6 L429.1 667.9 L430.1 668.1 L431.1 668.1 L432.1 667.9 L433.1 667.7 L434.1 667.3 L435.1 667.0 L436.1 666.8 L437.1 666.8 L438.1 666.9 L439.1 667.2 L440.1 667.7 L441.1 668.1 L442.1 668.6 L443.1 668.9 L444.1 669.1 L445.1 669.1 L446.1 668.9 L447.1 668.6 L448.1 668.2 L449.1 667.8 L450.1 667.5 L451.1 667.4 L452.1 667.4 L453.1 667.6 L454.1 667.9 L455.1 668.3 L456.1 668.6 L457.1 668.9 L458.1 669.0 L459.1 668.9 L460.1 668.7 L461.1 668.4 L462.1 668.0 L463.1 667.6 L464.1 667.4 L465.1 667.3 L466.1 667.4 L467.1 667.7 L468.1 668.0 L469.1 668.4 L470.1 668.8 L471.1 669.1 L472.1 669.2 L473.1 669.1 L474.1 668.9 L475.1 668.5 L476.1 668.1 L477.1 667.7 L477.7 667.5" fill="none" stroke="#0070d0" stroke-width="1.4" stroke-linejoin="round" stroke-linecap="round" />
<path d="M60.1 603.4 L61.1 602.8 L62.1 602.0 L63.1 601.5 L64.1 601.6 L65.1 602.2 L66.1 602.8 L67.1 603.2 L68.1 603.0 L69.1 602.4 L70.1 601.6 L71.1 601.1 L72.1 601.2 L73.1 601.7 L74.1 602.2 L75.1 602.5 L76.1 602.3 L77.1 601.7 L78.1 601.0 L79.1 600.6 L80.1 600.6 L81.1 601.1 L82.1 601.6 L83.1 601.8 L84.1 601.6 L85.1 601.1 L86.1 600.5 L87.1 600.1 L88.1 600.1 L89.1 600.5 L90.1 601.1 L91.1 601.5 L92.1 601.6 L93.1 601.2 L94.1 600.6 L95.1 600.2 L96.1 600.1 L97.1 600.4 L98.1 601.0 L99.1 601.5 L100.1 601.8 L101.1 601.6 L102.1 601.1 L103.1 600.5 L104.1 600.1 L105.1 600.1 L106.1 600.5 L107.1 601.1 L108.1 601.6 L109.1 601.8 L110.1 601.7 L111.1 601.2 L112.1 600.7 L113.1 600.5 L114.1 600.6 L115.1 601.0 L116.1 601.7 L117.1 602.2 L118.1 602.5 L119.1 602.4 L120.1 602.0 L121.1 601.5 L122.1 601.2 L123.1 601.2 L124.1 601.6 L125.1 602.3 L126.1 602.9 L127.1 603.3 L128.1 603.3 L129.1 603.0 L130.1 602.6 L131.1 602.3 L132.1 602.3 L133.1 602.7 L134.1 603.3 L135.1 604.0 L136.1 604.6 L137.1 604.9 L138.1 604.8 L139.1 604.5 L140.1 604.2 L141.1 604.0 L142.1 604.2 L143.1 604.7 L144.1 605.5 L145.1 606.2 L146.1 606.8 L147.1 607.0 L148.1 607.0 L149.1 606.7 L150.1 606.5 L151.1 606.4 L152.1 606.6 L153.1 607.1 L154.1 607.7 L155.1 608.4 L156.1 609.0 L157.1 609.3 L158.1 609.4 L159.1 609.2 L160.1 609.0 L161.1 609.0 L162.1 609.3 L163.1 609.9 L164.1 610.7 L165.1 611.6 L166.1 612.5 L167.1 613.1 L168.1 613.4 L169.1 613.4 L170.1 613.3 L171.1 613.3 L172.1 613.4 L173.1 613.9 L174.1 614.7 L175.1 615.6 L176.1 616.5 L177.1 617.2 L178.1 617.7 L179.1 617.9 L180.1 617.9 L181.1 617.9 L182.1 618.0 L183.1 618.2 L184.1 618.8 L185.1 619.6 L186.1 620.5 L187.1 621.4 L188.1 622.0 L189.1 622.5 L190.1 622.6 L191.1 622.6 L192.1 622.6 L193.1 622.7 L194.1 623.0 L195.1 623.5 L196.1 624.4 L197.1 625.3 L198.1 626.2 L199.1 627.0 L200.1 627.5 L201.1 627.7 L202.1 627.8 L203.1 627.7 L204.1 627.6 L205.1 627.7 L206.1 628.0 L207.1 628.6 L208.1 629.2 L209.1 629.9 L210.1 630.5 L211.1 630.9 L212.1 631.1 L213.1 631.0 L214.1 630.9 L215.1 630.7 L216.1 630.7 L217.1 630.9 L218.1 631.3 L219.1 632.0 L220.1 632.8 L221.1 633.6 L222.1 634.3 L223.1 634.7 L224.1 635.0 L225.1 635.0 L226.1 634.9 L227.1 634.8 L228.1 634.9 L229.1 635.1 L230.1 635.5 L231.1 636.1 L232.1 636.8 L233.1 637.5 L234.1 638.1 L235.1 638.4 L236.1 638.6 L237.1 638.5 L238.1 638.2 L239.1 638.0 L240.1 637.8 L241.1 637.8 L242.1 638.0 L243.1 638.4 L244.1 638.9 L245.1 639.5 L246.1 640.1 L247.1 640.5 L248.1 640.7 L249.1 640.8 L250.1 640.6 L251.1 640.4 L252.1 640.3 L253.1 640.2 L254.1 640.3 L255.1 640.7 L256.1 641.2 L257.1 641.8 L258.1 642.5 L259.1 643.0 L260.1 643.5 L261.1 643.7 L262.1 643.8 L263.1 643.7 L264.1 643.6 L265.1 643.6 L266.1 643.7 L267.1 643.9 L268.1 644.4 L269.1 645.0 L270.1 645.7 L271.1 646.4 L272.1 647.1 L273.1 647.6 L274.1 647.9 L275.1 648.1 L276.1 648.1 L277.1 648.0 L278.1 647.9 L279.1 648.0 L280.1 648.1 L281.1 648.4 L282.1 648.9 L283.1 649.5 L284.1 650.1 L285.1 650.7 L286.1 651.2 L287.1 651.5 L288.1 651.6 L289.1 651.6 L290.1 651.5 L291.1 651.4 L292.1 651.3 L293.1 651.4 L294.1 651.6 L295.1 652.0 L296.1 652.5 L297.1 653.1 L298.1 653.7 L299.1 654.3 L300.1 654.7 L301.1 655.0 L302.1 655.1 L303.1 655.1 L304.1 655.0 L305.1 654.9 L306.1 654.8 L307.1 654.9 L308.1 655.1 L309.1 655.5 L310.1 656.1 L311.1 656.8 L312.1 657.5 L313.1 658.2 L314.1 658.7 L315.1 659.1 L316.1 659.3 L317.1 659.3 L318.1 659.2 L319.1 659.1 L320.1 659.0 L321.1 659.1 L322.1 659.2 L323.1 659.6 L324.1 660.0 L325.1 660.6 L326.1 661.1 L327.1 661.7 L328.1 662.1 L329.1 662.4 L330.1 662.6 L331.1 662.6 L332.1 662.6 L333.1 662.6 L334.1 662.7 L335.1 662.9 L336.1 663.3 L337.1 663.8 L338.1 664.6 L339.1 665.4 L340.1 666.3 L341.1 667.0 L342.1 667.7 L343.1 668.2 L344.1 668.5 L345.1 668.7 L346.1 668.7 L347.1 668.8 L348.1 668.8 L349.1 669.0 L350.1 669.3 L351.1 669.8 L352.1 670.4 L353.1 671.1 L354.1 671.8 L355.1 672.4 L356.1 673.0 L357.1 673.3 L358.1 673.5 L359.1 673.5 L360.1 673.4 L361.1 673.3 L362.1 673.2 L363.1 673.3 L364.1 673.4 L365.1 673.8 L366.1 674.3 L367.1 674.9 L368.1 675.6 L369.1 676.1 L370.1 676.6 L371.1 676.9 L372.1 677.0 L373.1 677.0 L374.1 676.9 L375.1 676.7 L376.1 676.6 L377.1 676.6 L378.1 676.8 L379.1 677.1 L380.1 677.5 L381.1 678.0 L382.1 678.5 L383.1 679.0 L384.1 679.3 L385.1 679.5 L386.1 679.5 L387.1 679.4 L388.1 679.2 L389.1 678.9 L390.1 678.7 L391.1 678.6 L392.1 678.7 L393.1 678.9 L394.1 679.3 L395.1 679.8 L396.1 680.3 L397.1 680.8 L398.1 681.1 L399.1 681.3 L400.1 681.3 L401.1 681.2 L402.1 680.9 L403.1 680.7 L404.1 680.5 L405.1 680.4 L406.1 680.5 L407.1 680.7 L408.1 681.1 L409.1 681.6 L410.1 682.0 L411.1 682.5 L412.1 682.8 L413.1 682.9 L414.1 682.9 L415.1 682.8 L416.1 682.5 L417.1 682.2 L418.1 682.0 L419.1 681.8 L420.1 681.9 L421.1 682.0 L422.1 682.4 L423.1 682.8 L424.1 683.2 L425.1 683.6 L426.1 683.9 L427.1 684.0 L428.1 683.9 L429.1 683.7 L430.1 683.4 L431.1 683.1 L432.1 682.8 L433.1 682.7 L434.1 682.7 L435.1 682.8 L436.1 683.2 L437.1 683.6 L438.1 684.0 L439.1 684.4 L440.1 684.6 L441.1 684.7 L442.1 684.7 L443.1 684.4 L444.1 684.1 L445.1 683.8 L446.1 683.5 L447.1 683.3 L448.1 683.2 L449.1 683.3 L450.1 683.6 L451.1 683.9 L452.1 684.3 L453.1 684.5 L454.1 684.7 L455.1 684.7 L456.1 684.6 L457.1 684.3 L458.1 684.0 L459.1 683.6 L460.1 683.4 L461.1 683.2 L462.1 683.2 L463.1 683.4 L464.1 683.7 L465.1 684.2 L466.1 684.7 L467.1 685.1 L468.1 685.4 L469.1 685.6 L470.1 685.5 L471.1 685.3 L472.1 685.1 L473.1 684.7 L474.1 684.4 L475.1 684.3 L476.1 684.2 L477.1 684.4 L477.7 684.5" fill="none" stroke="#00b050" stroke-width="1.4" stroke-linejoin="round" stroke-linecap="round" />
<path d="M60.1 600.0 L61.1 599.6 L62.1 599.7 L63.1 600.2 L64.1 600.8 L65.1 601.2 L66.1 601.1 L67.1 600.6 L68.1 600.0 L69.1 599.7 L70.1 599.8 L71.1 600.3 L72.1 600.9 L73.1 601.1 L74.1 600.9 L75.1 600.3 L76.1 599.7 L77.1 599.3 L78.1 599.4 L79.1 599.8 L80.1 600.4 L81.1 600.7 L82.1 600.6 L83.1 600.2 L84.1 599.6 L85.1 599.3 L86.1 599.4 L87.1 599.9 L88.1 600.6 L89.1 601.1 L90.1 601.1 L91.1 600.8 L92.1 600.3 L93.1 599.8 L94.1 599.7 L95.1 600.0 L96.1 600.6 L97.1 601.1 L98.1 601.3 L99.1 601.1 L100.1 600.5 L101.1 600.0 L102.1 599.6 L103.1 599.6 L104.1 600.0 L105.1 600.5 L106.1 601.0 L107.1 601.1 L108.1 600.8 L109.1 600.3 L110.1 599.8 L111.1 599.6 L112.1 599.7 L113.1 600.1 L114.1 600.7 L115.1 601.2 L116.1 601.3 L117.1 601.1 L118.1 600.7 L119.1 600.2 L120.1 599.9 L121.1 600.0 L122.1 600.4 L123.1 601.0 L124.1 601.5 L125.1 601.8 L126.1 601.7 L127.1 601.4 L128.1 601.0 L129.1 600.7 L130.1 600.8 L131.1 601.2 L132.1 601.8 L133.1 602.5 L134.1 603.0 L135.1 603.2 L136.1 603.1 L137.1 602.8 L138.1 602.5 L139.1 602.3 L140.1 602.5 L141.1 602.9 L142.1 603.4 L143.1 603.9 L144.1 604.2 L145.1 604.3 L146.1 604.1 L147.1 603.8 L148.1 603.6 L149.1 603.6 L150.1 604.0 L151.1 604.7 L152.1 605.5 L153.1 606.4 L154.1 607.1 L155.1 607.6 L156.1 607.8 L157.1 607.9 L158.1 608.0 L159.1 608.4 L160.1 609.0 L161.1 609.9 L162.1 610.9 L163.1 611.9 L164.1 612.8 L165.1 613.3 L166.1 613.7 L167.1 613.9 L168.1 614.1 L169.1 614.5 L170.1 615.1 L171.1 615.9 L172.1 616.8 L173.1 617.8 L174.1 618.7 L175.1 619.4 L176.1 619.9 L177.1 620.2 L178.1 620.3 L179.1 620.5 L180.1 620.8 L181.1 621.3 L182.1 622.0 L183.1 622.8 L184.1 623.7 L185.1 624.4 L186.1 624.9 L187.1 625.3 L188.1 625.4 L189.1 625.6 L190.1 625.8 L191.1 626.2 L192.1 626.9 L193.1 627.8 L194.1 628.8 L195.1 629.9 L196.1 631.0 L197.1 631.8 L198.1 632.5 L199.1 632.9 L200.1 633.3 L201.1 633.6 L202.1 634.0 L203.1 634.6 L204.1 635.4 L205.1 636.3 L206.1 637.3 L207.1 638.2 L208.1 638.9 L209.1 639.4 L210.1 639.7 L211.1 639.9 L212.1 640.1 L213.1 640.3 L214.1 640.6 L215.1 641.2 L216.1 641.9 L217.1 642.7 L218.1 643.5 L219.1 644.2 L220.1 644.8 L221.1 645.1 L222.1 645.3 L223.1 645.3 L224.1 645.3 L225.1 645.4 L226.1 645.7 L227.1 646.1 L228.1 646.7 L229.1 647.3 L230.1 648.0 L231.1 648.6 L232.1 649.1 L233.1 649.4 L234.1 649.6 L235.1 649.6 L236.1 649.6 L237.1 649.7 L238.1 650.0 L239.1 650.4 L240.1 651.0 L241.1 651.6 L242.1 652.3 L243.1 653.0 L244.1 653.5 L245.1 653.8 L246.1 654.0 L247.1 654.0 L248.1 653.9 L249.1 653.9 L250.1 654.0 L251.1 654.2 L252.1 654.6 L253.1 655.1 L254.1 655.7 L255.1 656.4 L256.1 657.0 L257.1 657.4 L258.1 657.7 L259.1 657.8 L260.1 657.9 L261.1 657.9 L262.1 657.9 L263.1 658.0 L264.1 658.2 L265.1 658.6 L266.1 659.1 L267.1 659.7 L268.1 660.3 L269.1 660.8 L270.1 661.2 L271.1 661.4 L272.1 661.5 L273.1 661.5 L274.1 661.5 L275.1 661.6 L276.1 661.7 L277.1 662.0 L278.1 662.5 L279.1 663.1 L280.1 663.9 L281.1 664.6 L282.1 665.3 L283.1 665.9 L284.1 666.3 L285.1 666.6 L286.1 666.7 L287.1 666.7 L288.1 666.8 L289.1 666.8 L290.1 667.0 L291.1 667.4 L292.1 667.8 L293.1 668.4 L294.1 669.0 L295.1 669.7 L296.1 670.3 L297.1 670.7 L298.1 671.1 L299.1 671.3 L300.1 671.4 L301.1 671.4 L302.1 671.5 L303.1 671.7 L304.1 671.9 L305.1 672.4 L306.1 672.9 L307.1 673.6 L308.1 674.3 L309.1 675.1 L310.1 675.7 L311.1 676.3 L312.1 676.7 L313.1 677.0 L314.1 677.2 L315.1 677.3 L316.1 677.4 L317.1 677.5 L318.1 677.8 L319.1 678.2 L320.1 678.8 L321.1 679.5 L322.1 680.2 L323.1 681.0 L324.1 681.7 L325.1 682.4 L326.1 682.9 L327.1 683.2 L328.1 683.5 L329.1 683.7 L330.1 683.9 L331.1 684.2 L332.1 684.6 L333.1 685.1 L334.1 685.8 L335.1 686.5 L336.1 687.3 L337.1 688.1 L338.1 688.9 L339.1 689.5 L340.1 690.0 L341.1 690.4 L342.1 690.6 L343.1 690.8 L344.1 691.0 L345.1 691.3 L346.1 691.6 L347.1 692.1 L348.1 692.8 L349.1 693.5 L350.1 694.3 L351.1 695.1 L352.1 695.7 L353.1 696.3 L354.1 696.7 L355.1 696.9 L356.1 697.0 L357.1 697.1 L358.1 697.1 L359.1 697.2 L360.1 697.3 L361.1 697.6 L362.1 698.0 L363.1 698.5 L364.1 699.1 L365.1 699.7 L366.1 700.3 L367.1 700.7 L368.1 701.0 L369.1 701.2 L370.1 701.3 L371.1 701.3 L372.1 701.4 L373.1 701.5 L374.1 701.7 L375.1 702.1 L376.1 702.5 L377.1 703.1 L378.1 703.7 L379.1 704.3 L380.1 704.8 L381.1 705.2 L382.1 705.4 L383.1 705.5 L384.1 705.5 L385.1 705.4 L386.1 705.3 L387.1 705.2 L388.1 705.3 L389.1 705.5 L390.1 705.8 L391.1 706.2 L392.1 706.7 L393.1 707.2 L394.1 707.6 L395.1 707.9 L396.1 708.1 L397.1 708.1 L398.1 708.1 L399.1 707.9 L400.1 707.8 L401.1 707.7 L402.1 707.7 L403.1 707.8 L404.1 708.1 L405.1 708.5 L406.1 708.9 L407.1 709.4 L408.1 709.7 L409.1 710.0 L410.1 710.1 L411.1 710.1 L412.1 710.0 L413.1 709.8 L414.1 709.6 L415.1 709.5 L416.1 709.5 L417.1 709.6 L418.1 709.9 L419.1 710.3 L420.1 710.7 L421.1 711.1 L422.1 711.5 L423.1 711.7 L424.1 711.8 L425.1 711.8 L426.1 711.6 L427.1 711.4 L428.1 711.2 L429.1 711.0 L430.1 711.0 L431.1 711.1 L432.1 711.3 L433.1 711.6 L434.1 712.0 L435.1 712.4 L436.1 712.7 L437.1 712.9 L438.1 713.0 L439.1 713.0 L440.1 712.8 L441.1 712.6 L442.1 712.4 L443.1 712.3 L444.1 712.2 L445.1 712.3 L446.1 712.5 L447.1 712.7 L448.1 713.1 L449.1 713.4 L450.1 713.6 L451.1 713.8 L452.1 713.8 L453.1 713.6 L454.1 713.3 L455.1 713.0 L456.1 712.6 L457.1 712.4 L458.1 712.2 L459.1 712.2 L460.1 712.3 L461.1 712.6 L462.1 712.9 L463.1 713.2 L464.1 713.5 L465.1 713.7 L466.1 713.7 L467.1 713.6 L468.1 713.4 L469.1 713.2 L470.1 712.9 L471.1 712.7 L472.1 712.6 L473.1 712.6 L474.1 712.7 L475.1 713.0 L476.1 713.3 L477.1 713.6 L477.7 713.8" fill="none" stroke="#ffc000" stroke-width="1.4" stroke-linejoin="round" stroke-linecap="round" />
<path d="M60.1 598.1 L61.1 598.7 L62.1 599.4 L63.1 600.0 L64.1 600.0 L65.1 599.6 L66.1 599.2 L67.1 598.9 L68.1 599.1 L69.1 599.6 L70.1 600.2 L71.1 600.5 L72.1 600.4 L73.1 599.8 L74.1 599.2 L75.1 598.8 L76.1 598.9 L77.1 599.3 L78.1 600.0 L79.1 600.4 L80.1 600.3 L81.1 599.9 L82.1 599.4 L83.1 599.1 L84.1 599.2 L85.1 599.7 L86.1 600.3 L87.1 600.7 L88.1 600.7 L89.1 600.3 L90.1 599.7 L91.1 599.2 L92.1 599.1 L93.1 599.4 L94.1 599.9 L95.1 600.4 L96.1 600.7 L97.1 600.5 L98.1 600.1 L99.1 599.6 L100.1 599.3 L101.1 599.5 L102.1 600.0 L103.1 600.6 L104.1 601.1 L105.1 601.3 L106.1 601.0 L107.1 600.6 L108.1 600.1 L109.1 599.9 L110.1 600.0 L111.1 600.5 L112.1 601.0 L113.1 601.4 L114.1 601.5 L115.1 601.2 L116.1 600.7 L117.1 600.2 L118.1 600.0 L119.1 600.1 L120.1 600.6 L121.1 601.1 L122.1 601.6 L123.1 601.8 L124.1 601.6 L125.1 601.1 L126.1 600.7 L127.1 600.5 L128.1 600.6 L129.1 601.0 L130.1 601.7 L131.1 602.3 L132.1 602.7 L133.1 602.9 L134.1 602.7 L135.1 602.5 L136.1 602.4 L137.1 602.6 L138.1 603.1 L139.1 603.8 L140.1 604.7 L141.1 605.4 L142.1 605.9 L143.1 606.2 L144.1 606.4 L145.1 606.6 L146.1 606.9 L147.1 607.5 L148.1 608.4 L149.1 609.5 L150.1 610.7 L151.1 611.8 L152.1 612.7 L153.1 613.5 L154.1 614.2 L155.1 614.9 L156.1 615.6 L157.1 616.6 L158.1 617.6 L159.1 618.8 L160.1 620.0 L161.1 621.1 L162.1 622.1 L163.1 622.8 L164.1 623.5 L165.1 624.1 L166.1 624.7 L167.1 625.4 L168.1 626.2 L169.1 627.1 L170.1 628.0 L171.1 628.9 L172.1 629.8 L173.1 630.5 L174.1 631.2 L175.1 631.7 L176.1 632.3 L177.1 633.0 L178.1 633.7 L179.1 634.4 L180.1 635.3 L181.1 636.1 L182.1 636.9 L183.1 637.6 L184.1 638.1 L185.1 638.5 L186.1 638.9 L187.1 639.3 L188.1 639.8 L189.1 640.4 L190.1 641.1 L191.1 641.9 L192.1 642.8 L193.1 643.6 L194.1 644.5 L195.1 645.3 L196.1 646.1 L197.1 646.8 L198.1 647.6 L199.1 648.4 L200.1 649.3 L201.1 650.3 L202.1 651.4 L203.1 652.5 L204.1 653.6 L205.1 654.6 L206.1 655.5 L207.1 656.3 L208.1 657.1 L209.1 657.8 L210.1 658.5 L211.1 659.2 L212.1 660.0 L213.1 660.9 L214.1 661.8 L215.1 662.7 L216.1 663.6 L217.1 664.4 L218.1 665.1 L219.1 665.6 L220.1 666.2 L221.1 666.6 L222.1 667.1 L223.1 667.7 L224.1 668.3 L225.1 668.9 L226.1 669.7 L227.1 670.4 L228.1 671.1 L229.1 671.8 L230.1 672.4 L231.1 672.9 L232.1 673.4 L233.1 673.8 L234.1 674.3 L235.1 674.8 L236.1 675.4 L237.1 676.1 L238.1 676.7 L239.1 677.4 L240.1 678.0 L241.1 678.6 L242.1 679.0 L243.1 679.4 L244.1 679.7 L245.1 680.0 L246.1 680.3 L247.1 680.7 L248.1 681.1 L249.1 681.6 L250.1 682.2 L251.1 682.8 L252.1 683.4 L253.1 684.0 L254.1 684.5 L255.1 685.0 L256.1 685.4 L257.1 685.8 L258.1 686.1 L259.1 686.5 L260.1 686.9 L261.1 687.4 L262.1 688.0 L263.1 688.6 L264.1 689.3 L265.1 690.0 L266.1 690.7 L267.1 691.3 L268.1 691.9 L269.1 692.4 L270.1 692.9 L271.1 693.4 L272.1 693.9 L273.1 694.5 L274.1 695.1 L275.1 695.7 L276.1 696.4 L277.1 697.1 L278.1 697.8 L279.1 698.5 L280.1 699.1 L281.1 699.6 L282.1 700.0 L283.1 700.4 L284.1 700.7 L285.1 701.1 L286.1 701.4 L287.1 701.9 L288.1 702.3 L289.1 702.9 L290.1 703.5 L291.1 704.1 L292.1 704.7 L293.1 705.3 L294.1 705.8 L295.1 706.3 L296.1 706.8 L297.1 707.2 L298.1 707.6 L299.1 708.1 L300.1 708.6 L301.1 709.1 L302.1 709.7 L303.1 710.4 L304.1 711.1 L305.1 711.8 L306.1 712.5 L307.1 713.2 L308.1 713.8 L309.1 714.3 L310.1 714.8 L311.1 715.2 L312.1 715.6 L313.1 716.0 L314.1 716.5 L315.1 716.9 L316.1 717.5 L317.1 718.2 L318.1 718.9 L319.1 719.6 L320.1 720.4 L321.1 721.2 L322.1 722.0 L323.1 722.7 L324.1 723.4 L325.1 724.1 L326.1 724.8 L327.1 725.5 L328.1 726.2 L329.1 727.0 L330.1 727.8 L331.1 728.6 L332.1 729.4 L333.1 730.2 L334.1 730.9 L335.1 731.6 L336.1 732.1 L337.1 732.6 L338.1 732.9 L339.1 733.2 L340.1 733.4 L341.1 733.6 L342.1 733.9 L343.1 734.2 L344.1 734.5 L345.1 735.0 L346.1 735.4 L347.1 735.9 L348.1 736.3 L349.1 736.7 L350.1 737.1 L351.1 737.4 L352.1 737.7 L353.1 737.9 L354.1 738.1 L355.1 738.3 L356.1 738.6 L357.1 738.8 L358.1 739.2 L359.1 739.5 L360.1 740.0 L361.1 740.4 L362.1 740.8 L363.1 741.1 L364.1 741.4 L365.1 741.6 L366.1 741.8 L367.1 741.8 L368.1 741.9 L369.1 741.9 L370.1 741.9 L371.1 741.9 L372.1 742.0 L373.1 742.2 L374.1 742.3 L375.1 742.4 L376.1 742.5 L377.1 742.6 L378.1 742.6 L379.1 742.6 L380.1 742.4 L381.1 742.3 L382.1 742.1 L383.1 741.9 L384.1 741.7 L385.1 741.6 L386.1 741.6 L387.1 741.6 L388.1 741.7 L389.1 741.7 L390.1 741.8 L391.1 741.8 L392.1 741.8 L393.1 741.7 L394.1 741.5 L395.1 741.3 L396.1 741.1 L397.1 740.9 L398.1 740.7 L399.1 740.6 L400.1 740.5 L401.1 740.4 L402.1 740.4 L403.1 740.4 L404.1 740.3 L405.1 740.1 L406.1 739.9 L407.1 739.7 L408.1 739.3 L409.1 738.9 L410.1 738.4 L411.1 737.9 L412.1 737.5 L413.1 737.2 L414.1 736.8 L415.1 736.6 L416.1 736.4 L417.1 736.2 L418.1 736.0 L419.1 735.8 L420.1 735.5 L421.1 735.2 L422.1 734.8 L423.1 734.4 L424.1 734.0 L425.1 733.6 L426.1 733.3 L427.1 733.0 L428.1 732.8 L429.1 732.7 L430.1 732.6 L431.1 732.5 L432.1 732.5 L433.1 732.4 L434.1 732.2 L435.1 732.0 L436.1 731.8 L437.1 731.6 L438.1 731.3 L439.1 731.0 L440.1 730.8 L441.1 730.7 L442.1 730.6 L443.1 730.6 L444.1 730.7 L445.1 730.7 L446.1 730.8 L447.1 730.8 L448.1 730.8 L449.1 730.7 L450.1 730.6 L451.1 730.4 L452.1 730.2 L453.1 730.0 L454.1 729.9 L455.1 729.8 L456.1 729.8 L457.1 729.8 L458.1 729.9 L459.1 730.0 L460.1 730.1 L461.1 730.2 L462.1 730.2 L463.1 730.2 L464.1 730.1 L465.1 730.0 L466.1 729.8 L467.1 729.7 L468.1 729.7 L469.1 729.6 L470.1 729.7 L471.1 729.8 L472.1 730.0 L473.1 730.2 L474.1 730.3 L475.1 730.4 L476.1 730.5 L477.1 730.5 L477.7 730.5" fill="none" stroke="#ff7f27" stroke-width="1.35" stroke-linejoin="round" stroke-linecap="round" />
<path d="M60.1 600.4 L61.1 600.4 L62.1 600.0 L63.1 599.5 L64.1 599.2 L65.1 599.3 L66.1 599.8 L67.1 600.4 L68.1 600.7 L69.1 600.6 L70.1 600.1 L71.1 599.6 L72.1 599.3 L73.1 599.5 L74.1 599.9 L75.1 600.4 L76.1 600.6 L77.1 600.4 L78.1 599.9 L79.1 599.4 L80.1 599.1 L81.1 599.3 L82.1 599.8 L83.1 600.3 L84.1 600.7 L85.1 600.6 L86.1 600.3 L87.1 599.9 L88.1 599.6 L89.1 599.7 L90.1 600.1 L91.1 600.7 L92.1 601.2 L93.1 601.3 L94.1 601.0 L95.1 600.5 L96.1 600.1 L97.1 600.0 L98.1 600.2 L99.1 600.6 L100.1 601.1 L101.1 601.4 L102.1 601.3 L103.1 600.9 L104.1 600.4 L105.1 600.1 L106.1 600.1 L107.1 600.4 L108.1 600.9 L109.1 601.4 L110.1 601.6 L111.1 601.5 L112.1 601.2 L113.1 600.7 L114.1 600.5 L115.1 600.5 L116.1 600.8 L117.1 601.3 L118.1 601.8 L119.1 602.1 L120.1 602.0 L121.1 601.7 L122.1 601.3 L123.1 601.0 L124.1 601.0 L125.1 601.3 L126.1 601.8 L127.1 602.3 L128.1 602.7 L129.1 602.8 L130.1 602.7 L131.1 602.4 L132.1 602.2 L133.1 602.2 L134.1 602.6 L135.1 603.1 L136.1 603.8 L137.1 604.4 L138.1 604.9 L139.1 605.1 L140.1 605.2 L141.1 605.2 L142.1 605.3 L143.1 605.7 L144.1 606.3 L145.1 607.1 L146.1 608.0 L147.1 608.9 L148.1 609.6 L149.1 610.1 L150.1 610.6 L151.1 611.0 L152.1 611.6 L153.1 612.2 L154.1 613.1 L155.1 614.0 L156.1 614.9 L157.1 615.7 L158.1 616.5 L159.1 617.0 L160.1 617.5 L161.1 618.0 L162.1 618.5 L163.1 619.1 L164.1 619.8 L165.1 620.6 L166.1 621.4 L167.1 622.2 L168.1 622.9 L169.1 623.6 L170.1 624.2 L171.1 624.8 L172.1 625.3 L173.1 625.9 L174.1 626.6 L175.1 627.3 L176.1 628.0 L177.1 628.8 L178.1 629.5 L179.1 630.2 L180.1 630.8 L181.1 631.3 L182.1 631.9 L183.1 632.3 L184.1 632.8 L185.1 633.2 L186.1 633.7 L187.1 634.3 L188.1 634.9 L189.1 635.5 L190.1 636.1 L191.1 636.7 L192.1 637.2 L193.1 637.7 L194.1 638.4 L195.1 639.2 L196.1 640.1 L197.1 641.1 L198.1 642.1 L199.1 643.1 L200.1 644.1 L201.1 645.0 L202.1 645.8 L203.1 646.6 L204.1 647.2 L205.1 647.9 L206.1 648.6 L207.1 649.3 L208.1 650.0 L209.1 650.8 L210.1 651.5 L211.1 652.2 L212.1 652.9 L213.1 653.5 L214.1 654.0 L215.1 654.5 L216.1 654.9 L217.1 655.4 L218.1 655.8 L219.1 656.3 L220.1 656.9 L221.1 657.5 L222.1 658.1 L223.1 658.7 L224.1 659.2 L225.1 659.7 L226.1 660.1 L227.1 660.5 L228.1 660.8 L229.1 661.2 L230.1 661.6 L231.1 662.0 L232.1 662.5 L233.1 663.0 L234.1 663.5 L235.1 664.0 L236.1 664.5 L237.1 664.9 L238.1 665.3 L239.1 665.6 L240.1 665.9 L241.1 666.3 L242.1 666.6 L243.1 667.0 L244.1 667.4 L245.1 667.8 L246.1 668.3 L247.1 668.7 L248.1 669.2 L249.1 669.6 L250.1 669.9 L251.1 670.2 L252.1 670.5 L253.1 670.8 L254.1 671.2 L255.1 671.5 L256.1 671.9 L257.1 672.4 L258.1 672.9 L259.1 673.4 L260.1 673.9 L261.1 674.4 L262.1 674.8 L263.1 675.2 L264.1 675.6 L265.1 675.9 L266.1 676.2 L267.1 676.5 L268.1 676.8 L269.1 677.2 L270.1 677.7 L271.1 678.2 L272.1 678.7 L273.1 679.2 L274.1 679.7 L275.1 680.1 L276.1 680.5 L277.1 680.9 L278.1 681.2 L279.1 681.6 L280.1 682.0 L281.1 682.4 L282.1 682.8 L283.1 683.3 L284.1 683.9 L285.1 684.4 L286.1 685.0 L287.1 685.5 L288.1 686.0 L289.1 686.5 L290.1 686.9 L291.1 687.3 L292.1 687.6 L293.1 688.0 L294.1 688.3 L295.1 688.7 L296.1 689.1 L297.1 689.5 L298.1 690.0 L299.1 690.5 L300.1 691.1 L301.1 691.6 L302.1 692.1 L303.1 692.6 L304.1 693.1 L305.1 693.6 L306.1 694.1 L307.1 694.6 L308.1 695.1 L309.1 695.7 L310.1 696.3 L311.1 697.0 L312.1 697.6 L313.1 698.3 L314.1 698.9 L315.1 699.6 L316.1 700.2 L317.1 700.7 L318.1 701.3 L319.1 701.8 L320.1 702.3 L321.1 702.9 L322.1 703.4 L323.1 704.1 L324.1 704.8 L325.1 705.5 L326.1 706.3 L327.1 707.1 L328.1 707.9 L329.1 708.7 L330.1 709.4 L331.1 710.1 L332.1 710.8 L333.1 711.3 L334.1 711.9 L335.1 712.4 L336.1 712.9 L337.1 713.3 L338.1 713.8 L339.1 714.3 L340.1 714.8 L341.1 715.3 L342.1 715.8 L343.1 716.3 L344.1 716.7 L345.1 717.1 L346.1 717.4 L347.1 717.8 L348.1 718.1 L349.1 718.5 L350.1 718.9 L351.1 719.4 L352.1 719.8 L353.1 720.4 L354.1 721.0 L355.1 721.5 L356.1 722.1 L357.1 722.7 L358.1 723.2 L359.1 723.7 L360.1 724.2 L361.1 724.6 L362.1 724.9 L363.1 725.3 L364.1 725.6 L365.1 726.0 L366.1 726.4 L367.1 726.8 L368.1 727.2 L369.1 727.6 L370.1 728.0 L371.1 728.5 L372.1 728.8 L373.1 729.2 L374.1 729.5 L375.1 729.7 L376.1 730.0 L377.1 730.2 L378.1 730.4 L379.1 730.7 L380.1 731.0 L381.1 731.2 L382.1 731.6 L383.1 731.9 L384.1 732.2 L385.1 732.4 L386.1 732.7 L387.1 732.8 L388.1 732.9 L389.1 733.0 L390.1 733.0 L391.1 733.1 L392.1 733.1 L393.1 733.2 L394.1 733.3 L395.1 733.4 L396.1 733.6 L397.1 733.7 L398.1 733.9 L399.1 734.0 L400.1 734.1 L401.1 734.1 L402.1 734.1 L403.1 734.1 L404.1 734.0 L405.1 733.9 L406.1 733.8 L407.1 733.7 L408.1 733.7 L409.1 733.7 L410.1 733.8 L411.1 733.8 L412.1 733.9 L413.1 733.9 L414.1 733.9 L415.1 733.9 L416.1 733.8 L417.1 733.7 L418.1 733.5 L419.1 733.4 L420.1 733.2 L421.1 733.1 L422.1 733.1 L423.1 733.0 L424.1 733.0 L425.1 733.0 L426.1 733.0 L427.1 733.0 L428.1 732.9 L429.1 732.8 L430.1 732.7 L431.1 732.5 L432.1 732.4 L433.1 732.2 L434.1 732.0 L435.1 731.9 L436.1 731.8 L437.1 731.7 L438.1 731.7 L439.1 731.6 L440.1 731.6 L441.1 731.6 L442.1 731.5 L443.1 731.5 L444.1 731.3 L445.1 731.2 L446.1 731.0 L447.1 730.8 L448.1 730.7 L449.1 730.6 L450.1 730.5 L451.1 730.5 L452.1 730.5 L453.1 730.5 L454.1 730.5 L455.1 730.6 L456.1 730.6 L457.1 730.5 L458.1 730.5 L459.1 730.4 L460.1 730.2 L461.1 730.1 L462.1 730.1 L463.1 730.0 L464.1 730.0 L465.1 730.0 L466.1 730.1 L467.1 730.2 L468.1 730.3 L469.1 730.4 L470.1 730.5 L471.1 730.5 L472.1 730.5 L473.1 730.5 L474.1 730.4 L475.1 730.4 L476.1 730.3 L477.1 730.3 L477.7 730.4" fill="none" stroke="#7f27c0" stroke-width="1.35" stroke-linejoin="round" stroke-linecap="round" />
<path d="M59.0 826.0 L60.2 826.0 L61.4 826.0 L62.6 826.0 L63.8 826.0 L65.0 826.0 L66.2 826.0 L67.4 826.0 L68.6 826.0 L69.8 826.0 L71.0 826.0 L72.2 826.0 L73.4 826.0 L74.6 826.0 L75.8 826.0 L77.0 826.0 L78.2 826.0 L79.4 826.0 L80.6 826.0 L81.8 826.0 L83.0 826.0 L84.2 826.0 L85.4 826.0 L86.6 826.0 L87.8 826.0 L89.0 826.0 L90.2 826.0 L91.4 826.0 L92.6 826.0 L93.8 826.0 L95.0 826.0 L96.2 826.0 L97.4 826.0 L98.6 826.0 L99.8 826.0 L101.0 826.0 L102.2 826.0 L103.4 826.0 L104.6 826.0 L105.8 826.0 L107.0 826.0 L108.2 825.8 L109.4 825.5 L110.6 825.1 L111.8 824.2 L113.0 822.9 L114.2 821.2 L115.4 819.2 L116.6 816.8 L117.8 814.4 L119.0 811.9 L120.2 809.3 L121.4 806.4 L122.6 803.4 L123.8 800.2 L125.0 796.8 L126.2 793.4 L127.4 790.1 L128.6 786.7 L129.8 783.4 L131.0 780.0 L132.2 776.6 L133.4 773.3 L134.6 769.9 L135.8 766.6 L137.0 763.2 L138.2 759.8 L139.4 756.7 L140.6 753.8 L141.8 751.2 L143.0 748.9 L144.2 746.9 L145.4 745.0 L146.6 743.0 L147.8 741.1 L149.0 739.3 L150.2 737.6 L151.4 736.0 L152.6 734.7 L153.8 733.5 L155.0 732.4 L156.2 731.3 L157.4 730.3 L158.6 729.5 L159.8 728.7 L161.0 728.1 L162.2 727.7 L163.4 727.3 L164.6 726.8 L165.8 726.5 L167.0 726.1 L168.2 725.9 L169.4 725.6 L170.6 725.5 L171.8 725.3 L173.0 725.1 L174.2 725.0 L175.4 725.0 L176.6 725.1 L177.8 725.2 L179.0 725.4 L180.2 725.6 L181.4 725.8 L182.6 726.2 L183.8 726.7 L185.0 727.4 L186.2 728.1 L187.4 729.0 L188.6 730.1 L189.8 731.3 L191.0 732.7 L192.2 734.3 L193.4 735.9 L194.6 737.4 L195.8 739.0 L197.0 740.5 L198.2 742.0 L199.4 743.5 L200.6 745.0 L201.8 746.4 L203.0 747.7 L204.2 749.0 L205.4 750.2 L206.6 751.2 L207.8 752.3 L209.0 753.4 L210.2 754.4 L211.4 755.3 L212.6 756.1 L213.8 756.9 L215.0 757.6 L216.2 758.3 L217.4 759.1 L218.6 759.8 L219.8 760.7 L221.0 761.5 L222.2 762.4 L223.4 763.3 L224.6 764.2 L225.8 765.2 L227.0 766.2 L228.2 767.3 L229.4 768.4 L230.6 769.6 L231.8 770.8 L233.0 772.0 L234.2 773.1 L235.4 774.3 L236.6 775.4 L237.8 776.4 L239.0 777.4 L240.2 778.3 L241.4 779.0 L242.6 779.6 L243.8 780.1 L245.0 780.5 L246.2 780.7 L247.4 780.7 L248.6 780.6 L249.8 780.3 L251.0 779.8 L252.2 779.3 L253.4 778.6 L254.6 777.7 L255.8 776.8 L257.0 775.7 L258.2 774.6 L259.4 773.5 L260.6 772.4 L261.8 771.2 L263.0 770.0 L264.2 768.7 L265.4 767.4 L266.6 766.0 L267.8 764.5 L269.0 763.0 L270.2 761.5 L271.4 760.1 L272.6 758.9 L273.8 757.9 L275.0 757.1 L276.2 756.5 L277.4 755.9 L278.6 755.3 L279.8 754.7 L281.0 754.2 L282.2 753.7 L283.4 753.3 L284.6 752.9 L285.8 752.6 L287.0 752.4 L288.2 752.2 L289.4 751.9 L290.6 751.7 L291.8 751.5 L293.0 751.3 L294.2 751.1 L295.4 751.0 L296.6 750.8 L297.8 750.7 L299.0 750.6 L300.2 750.6 L301.4 750.6 L302.6 750.8 L303.8 751.0 L305.0 751.2 L306.2 751.4 L307.4 751.7 L308.6 751.9 L309.8 752.0 L311.0 752.2 L312.2 752.3 L313.4 752.4 L314.6 752.4 L315.8 752.5 L317.0 752.6 L318.2 752.7 L319.4 752.8 L320.6 752.9 L321.8 752.9 L323.0 753.0 L324.2 753.0 L325.4 753.1 L326.6 753.1 L327.8 753.2 L329.0 753.4 L330.2 753.6 L331.4 753.8 L332.6 754.1 L333.8 754.4 L335.0 754.7 L336.2 755.1 L337.4 755.5 L338.6 756.0 L339.8 756.5 L341.0 757.1 L342.2 757.8 L343.4 758.7 L344.6 759.7 L345.8 760.8 L347.0 762.0 L348.2 763.1 L349.4 764.2 L350.6 765.2 L351.8 766.1 L353.0 767.0 L354.2 767.9 L355.4 768.8 L356.6 769.8 L357.8 770.9 L359.0 772.0 L360.2 773.2 L361.4 774.5 L362.6 776.0 L363.8 777.6 L365.0 779.4 L366.2 781.3 L367.4 783.3 L368.6 785.3 L369.8 787.3 L371.0 789.3 L372.2 791.3 L373.4 793.3 L374.6 795.2 L375.8 797.1 L377.0 799.0 L378.2 800.8 L379.4 802.6 L380.6 804.4 L381.8 806.0 L383.0 807.5 L384.2 808.7 L385.4 809.8 L386.6 810.7 L387.8 811.6 L389.0 812.5 L390.2 813.3 L391.4 814.1 L392.6 814.8 L393.8 815.4 L395.0 816.0 L396.2 816.6 L397.4 817.2 L398.6 817.8 L399.8 818.4 L401.0 819.0 L402.2 819.6 L403.4 820.2 L404.6 820.8 L405.8 821.4 L407.0 821.9 L408.2 822.4 L409.4 822.8 L410.6 823.3 L411.8 823.7 L413.0 824.1 L414.2 824.5 L415.4 824.8 L416.6 825.1 L417.8 825.4 L419.0 825.6 L420.2 825.8 L421.4 826.0 L422.6 826.2 L423.8 826.3 L425.0 826.4 L426.2 826.4 L427.4 826.4 L428.6 826.4 L429.8 826.4 L431.0 826.4 L432.2 826.4 L433.4 826.4 L434.6 826.3 L435.8 826.3 L437.0 826.2 L438.2 826.1 L439.4 826.1 L440.6 826.0 L441.8 826.0 L443.0 826.0 L444.2 826.0 L445.4 826.0 L446.6 826.0 L447.8 826.0 L449.0 826.0 L450.2 826.0 L451.4 826.0 L452.6 826.0 L453.8 826.0 L455.0 826.0 L456.2 826.0 L457.4 826.0 L458.6 826.0 L459.8 826.0 L461.0 826.0 L462.2 826.0 L463.4 826.0 L464.6 826.0 L465.8 826.0 L467.0 826.0 L468.2 826.0 L469.4 826.0 L470.6 826.0 L471.8 826.0 L473.0 826.0 L474.2 826.0 L475.4 826.0 L476.6 826.0 L477.0 826.0" fill="none" stroke="#ff0000" stroke-width="1.7" stroke-linejoin="round" stroke-linecap="round" />
<path d="M59.0 826.4 L107.0 825.6 L111.0 822.0 L123.0 796.0 L135.0 770.0 L145.0 748.0 L153.0 735.2 L163.0 731.2 L172.2 728.0 L183.0 732.8 L195.0 738.0 L205.0 750.0 L215.0 760.0 L227.0 768.0 L237.0 775.2 L247.0 772.8 L257.0 770.0 L265.0 764.8 L273.0 759.2 L283.0 756.0 L293.0 754.0 L305.0 752.4 L317.0 752.0 L329.0 752.4 L337.0 754.0 L343.0 758.0 L351.0 770.0 L361.0 786.0 L371.0 800.0 L381.8 813.2 L393.0 816.0 L405.0 818.8 L417.0 822.0 L429.0 825.2 L435.0 826.4 L477.0 826.0" fill="none" stroke="#7f7f7f" stroke-width="1.2" stroke-linejoin="round" stroke-linecap="round" />
</g>
<line x1="477.50" y1="593.90" x2="477.50" y2="826.60" stroke="#ff0000" stroke-width="1.45" />
</svg></body></html>
